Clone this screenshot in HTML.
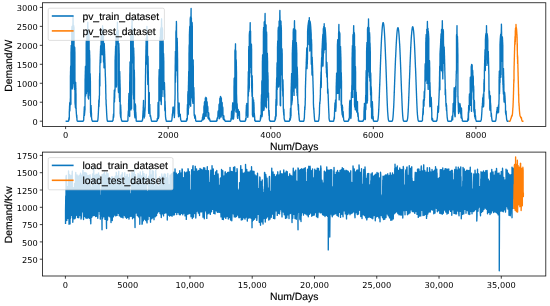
<!DOCTYPE html>
<html><head><meta charset="utf-8"><title>Dataset plots</title>
<style>html,body{margin:0;padding:0;background:#fff}svg{display:block}</style>
</head><body>
<svg width="550" height="306" viewBox="0 0 550 306" text-rendering="geometricPrecision">
<rect width="550" height="306" fill="#fff"/>
<defs>
<clipPath id="c1"><rect x="42.5" y="2.75" width="503.29999999999995" height="123.65"/></clipPath>
<clipPath id="c2"><rect x="42.5" y="152.1" width="503.29999999999995" height="123.9"/></clipPath>
</defs>
<rect x="42.5" y="2.75" width="503.29999999999995" height="123.65" fill="#fff"/>
<g clip-path="url(#c1)" fill="none" stroke-width="1.35" stroke-linejoin="round">
<polyline stroke="#0c77bf" points="65.6,121.2 65.7,121.2 65.7,121.2 65.8,121.2 65.8,121.2 65.9,121.2 65.9,121.2 66.0,121.2 66.0,121.2 66.1,121.2 66.1,121.2 66.2,121.2 66.2,121.2 66.3,121.2 66.3,121.2 66.4,121.2 66.4,121.2 66.5,121.2 66.5,121.2 66.6,121.2 66.6,121.2 66.7,121.2 66.7,121.2 66.8,121.2 66.8,121.2 66.9,121.2 66.9,121.2 67.0,121.2 67.0,121.2 67.1,121.2 67.1,121.2 67.2,121.2 67.2,121.2 67.3,121.2 67.3,121.2 67.4,121.2 67.4,121.2 67.5,121.2 67.5,121.2 67.6,121.2 67.7,121.2 67.7,121.2 67.8,121.2 67.8,121.2 67.9,121.2 67.9,121.2 68.0,121.2 68.0,121.2 68.1,121.2 68.1,121.2 68.2,121.2 68.2,121.2 68.3,121.2 68.3,121.2 68.4,121.1 68.4,121.1 68.5,121.1 68.5,121.0 68.6,120.9 68.6,120.8 68.7,120.7 68.7,119.8 68.8,119.5 68.8,119.1 68.9,118.7 68.9,118.2 69.0,117.7 69.0,119.9 69.1,119.8 69.1,119.6 69.2,119.2 69.2,119.2 69.3,118.5 69.3,111.9 69.4,110.8 69.4,109.6 69.5,108.3 69.5,107.0 69.6,105.6 69.7,104.2 69.7,102.6 69.8,110.1 69.8,110.9 69.9,109.2 69.9,109.4 70.0,106.2 70.0,106.3 70.1,104.6 70.1,105.3 70.2,102.5 70.2,101.8 70.3,101.0 70.3,98.6 70.4,99.7 70.4,76.3 70.5,74.2 70.5,72.1 70.6,70.1 70.6,68.0 70.7,66.0 70.7,103.4 70.8,104.5 70.8,102.7 70.9,103.9 70.9,102.0 71.0,54.3 71.0,52.5 71.1,50.7 71.1,48.9 71.2,47.2 71.2,45.5 71.3,67.5 71.3,73.8 71.4,62.8 71.4,67.0 71.5,66.7 71.5,62.3 71.6,63.6 71.7,60.3 71.7,67.0 71.8,31.0 71.8,29.8 71.9,28.6 71.9,27.5 72.0,26.9 72.0,26.6 72.1,26.3 72.1,82.8 72.2,89.1 72.2,86.1 72.3,84.7 72.3,85.2 72.4,88.6 72.4,84.8 72.5,87.5 72.5,87.6 72.6,82.7 72.6,87.5 72.7,85.7 72.7,83.5 72.8,83.8 72.8,43.8 72.9,24.4 72.9,24.3 73.0,22.6 73.0,19.4 73.1,16.3 73.1,19.4 73.2,27.5 73.2,33.8 73.3,38.8 73.3,43.7 73.4,80.7 73.4,79.6 73.5,81.0 73.5,78.3 73.6,25.5 73.7,25.8 73.7,26.1 73.8,26.5 73.8,26.8 73.9,27.2 73.9,27.4 74.0,27.7 74.0,79.5 74.1,81.7 74.1,83.5 74.2,80.3 74.2,84.2 74.3,81.3 74.3,82.3 74.4,85.4 74.4,84.1 74.5,89.5 74.5,87.7 74.6,85.1 74.6,87.7 74.7,88.6 74.7,47.2 74.8,48.9 74.8,50.7 74.9,52.5 74.9,54.3 75.0,101.3 75.0,102.5 75.1,104.0 75.1,104.1 75.2,104.7 75.2,104.8 75.3,103.6 75.3,106.3 75.4,106.6 75.4,107.4 75.5,107.5 75.6,107.2 75.6,108.0 75.7,82.4 75.7,84.4 75.8,86.4 75.8,88.4 75.9,90.3 75.9,92.2 76.0,94.1 76.0,106.4 76.1,108.4 76.1,108.9 76.2,111.2 76.2,110.3 76.3,112.3 76.3,112.7 76.4,113.9 76.4,114.3 76.5,114.5 76.5,115.2 76.6,116.2 76.6,116.5 76.7,117.3 76.7,114.8 76.8,115.6 76.8,116.4 76.9,117.0 76.9,117.7 77.0,120.1 77.0,120.3 77.1,120.4 77.1,120.5 77.2,120.7 77.2,120.8 77.3,120.9 77.3,121.0 77.4,121.0 77.4,121.1 77.5,121.1 77.6,121.1 77.6,121.2 77.7,121.1 77.7,121.2 77.8,121.2 77.8,121.2 77.9,121.2 77.9,121.2 78.0,121.2 78.0,121.2 78.1,121.2 78.1,121.2 78.2,121.2 78.2,121.2 78.3,121.2 78.3,121.2 78.4,121.2 78.4,121.2 78.5,121.2 78.5,121.2 78.6,121.2 78.6,121.2 78.7,121.2 78.7,121.2 78.8,121.2 78.8,121.2 78.9,121.2 78.9,121.2 79.0,121.2 79.0,121.2 79.1,121.2 79.1,121.2 79.2,121.2 79.2,121.2 79.3,121.2 79.3,121.2 79.4,121.2 79.4,121.2 79.5,121.2 79.6,121.2 79.6,121.2 79.7,121.2 79.7,121.2 79.8,121.2 79.8,121.2 79.9,121.2 79.9,121.2 80.0,121.2 80.0,121.2 80.1,121.2 80.1,121.2 80.2,121.2 80.2,121.2 80.3,121.2 80.3,121.2 80.4,121.2 80.4,121.2 80.5,121.2 80.5,121.2 80.6,121.2 80.6,121.2 80.7,121.2 80.7,121.2 80.8,121.2 80.8,121.2 80.9,121.2 80.9,121.2 81.0,121.2 81.0,121.2 81.1,121.2 81.1,121.2 81.2,121.2 81.2,121.2 81.3,121.2 81.3,121.2 81.4,121.2 81.4,121.2 81.5,121.2 81.6,121.2 81.6,121.2 81.7,121.2 81.7,121.2 81.8,121.2 81.8,121.2 81.9,121.2 81.9,121.2 82.0,121.2 82.0,121.2 82.1,121.2 82.1,121.2 82.2,121.2 82.2,121.2 82.3,121.2 82.3,121.2 82.4,121.2 82.4,121.2 82.5,121.2 82.5,121.2 82.6,121.2 82.6,121.2 82.7,121.2 82.7,121.2 82.8,121.2 82.8,121.2 82.9,121.2 82.9,121.2 83.0,121.1 83.0,121.2 83.1,121.1 83.1,121.1 83.2,121.1 83.2,121.0 83.3,120.9 83.3,120.8 83.4,120.7 83.4,120.6 83.5,120.4 83.6,120.4 83.6,120.2 83.7,119.9 83.7,119.6 83.8,117.4 83.8,116.8 83.9,116.1 83.9,115.3 84.0,114.5 84.0,113.6 84.1,112.6 84.1,111.6 84.2,110.5 84.2,109.3 84.3,108.1 84.3,106.8 84.4,115.6 84.4,115.5 84.5,114.2 84.5,114.8 84.6,113.3 84.6,113.5 84.7,112.5 84.7,110.9 84.8,111.1 84.8,111.5 84.9,110.1 84.9,108.9 85.0,109.7 85.0,108.6 85.1,81.4 85.1,79.5 85.2,77.5 85.2,75.6 85.3,73.7 85.3,71.8 85.4,69.8 85.4,68.0 85.5,66.1 85.6,96.1 85.6,94.7 85.7,95.0 85.7,92.2 85.8,94.2 85.8,89.1 85.9,88.0 85.9,90.1 86.0,89.6 86.0,86.3 86.1,89.4 86.1,85.2 86.2,44.5 86.2,43.1 86.3,41.8 86.3,40.5 86.4,93.0 86.4,91.0 86.5,88.6 86.5,93.5 86.6,88.4 86.6,89.7 86.7,90.4 86.7,90.2 86.8,91.8 86.8,90.6 86.9,30.7 86.9,30.6 87.0,30.5 87.0,30.4 87.1,30.3 87.1,30.3 87.2,56.8 87.2,53.2 87.3,53.0 87.3,54.1 87.4,55.2 87.4,63.0 87.5,48.5 87.6,43.1 87.6,30.4 87.7,28.0 87.7,25.1 87.8,22.1 87.8,25.1 87.9,28.0 87.9,30.4 88.0,30.3 88.0,30.3 88.1,95.8 88.1,96.3 88.2,97.9 88.2,96.3 88.3,97.4 88.3,98.2 88.4,98.2 88.4,94.9 88.5,94.4 88.5,98.3 88.6,99.0 88.6,31.2 88.7,31.5 88.7,31.8 88.8,32.4 88.8,33.4 88.9,34.5 88.9,35.6 89.0,36.7 89.0,37.9 89.1,39.2 89.1,40.5 89.2,71.7 89.2,68.4 89.3,71.0 89.3,71.9 89.4,75.0 89.4,71.6 89.5,50.5 89.6,52.1 89.6,53.8 89.7,55.4 89.7,57.1 89.8,58.9 89.8,89.6 89.9,87.8 89.9,92.8 90.0,91.0 90.0,94.3 90.1,92.1 90.1,95.8 90.2,73.7 90.2,75.6 90.3,77.5 90.3,79.5 90.4,81.4 90.4,83.3 90.5,111.0 90.5,112.6 90.6,113.0 90.6,112.1 90.7,114.1 90.7,114.2 90.8,113.7 90.8,115.4 90.9,115.7 90.9,116.0 91.0,116.5 91.0,116.5 91.1,105.5 91.1,106.8 91.2,108.1 91.2,109.3 91.3,110.5 91.3,111.6 91.4,112.6 91.5,113.6 91.5,117.7 91.6,117.6 91.6,118.1 91.7,118.6 91.7,119.2 91.8,119.3 91.8,119.6 91.9,119.9 91.9,120.1 92.0,120.3 92.0,120.0 92.1,120.2 92.1,120.4 92.2,120.6 92.2,120.8 92.3,120.9 92.3,121.0 92.4,121.1 92.4,121.1 92.5,121.2 92.5,121.2 92.6,121.2 92.6,121.2 92.7,121.2 92.7,121.2 92.8,121.2 92.8,121.2 92.9,121.2 92.9,121.2 93.0,121.2 93.0,121.2 93.1,121.2 93.1,121.2 93.2,121.2 93.2,121.2 93.3,121.2 93.3,121.2 93.4,121.2 93.5,121.2 93.5,121.2 93.6,121.2 93.6,121.2 93.7,121.2 93.7,121.2 93.8,121.2 93.8,121.2 93.9,121.2 93.9,121.2 94.0,121.2 94.0,121.2 94.1,121.2 94.1,121.2 94.2,121.2 94.2,121.2 94.3,121.2 94.3,121.2 94.4,121.2 94.4,121.2 94.5,121.2 94.5,121.2 94.6,121.2 94.6,121.2 94.7,121.2 94.7,121.2 94.8,121.2 94.8,121.2 94.9,121.2 94.9,121.2 95.0,121.2 95.0,121.2 95.1,121.2 95.1,121.2 95.2,121.2 95.2,121.2 95.3,121.2 95.3,121.2 95.4,121.2 95.5,121.2 95.5,121.2 95.6,121.2 95.6,121.2 95.7,121.2 95.7,121.2 95.8,121.2 95.8,121.2 95.9,121.2 95.9,121.2 96.0,121.2 96.0,121.2 96.1,121.2 96.1,121.2 96.2,121.2 96.2,121.2 96.3,121.2 96.3,121.2 96.4,121.2 96.4,121.2 96.5,121.2 96.5,121.2 96.6,121.2 96.6,121.2 96.7,121.2 96.7,121.2 96.8,121.2 96.8,121.2 96.9,121.2 96.9,121.2 97.0,121.2 97.0,121.2 97.1,121.2 97.1,121.2 97.2,121.2 97.2,121.2 97.3,121.2 97.3,121.2 97.4,121.2 97.5,121.2 97.5,121.2 97.6,121.1 97.6,121.0 97.7,120.8 97.7,120.6 97.8,120.3 97.8,120.0 97.9,119.7 97.9,119.2 98.0,118.8 98.0,118.2 98.1,117.6 98.1,116.9 98.2,116.2 98.2,115.4 98.3,114.6 98.3,113.6 98.4,112.7 98.4,111.6 98.5,110.5 98.5,109.4 98.6,108.2 98.6,106.9 98.7,105.6 98.7,104.3 98.8,102.8 98.8,101.4 98.9,99.9 98.9,106.5 99.0,106.0 99.0,105.3 99.1,102.3 99.1,101.9 99.2,102.6 99.2,98.6 99.3,99.5 99.3,95.9 99.4,96.1 99.5,94.7 99.5,80.0 99.6,78.3 99.6,76.6 99.7,74.9 99.7,73.2 99.8,81.5 99.8,81.6 99.9,85.9 99.9,66.5 100.0,64.9 100.0,63.3 100.1,61.8 100.1,60.3 100.2,58.8 100.2,57.3 100.3,55.9 100.3,54.5 100.4,53.1 100.4,51.8 100.5,50.5 100.5,49.2 100.6,48.0 100.6,46.8 100.7,45.6 100.7,62.6 100.8,60.6 100.8,59.1 100.9,48.8 100.9,50.8 101.0,48.5 101.0,49.8 101.1,54.4 101.1,36.8 101.2,36.0 101.2,35.2 101.3,34.4 101.3,33.7 101.4,33.0 101.5,32.3 101.5,31.7 101.6,31.1 101.6,30.6 101.7,30.2 101.7,29.9 101.8,29.7 101.8,29.5 101.9,29.3 101.9,29.1 102.0,28.9 102.0,51.9 102.1,49.9 102.1,44.8 102.2,54.8 102.2,51.8 102.3,48.9 102.3,46.0 102.4,41.3 102.4,37.6 102.5,33.8 102.5,31.0 102.6,25.8 102.6,31.0 102.7,32.9 102.7,28.3 102.8,28.3 102.8,28.4 102.9,28.4 102.9,28.5 103.0,28.5 103.0,28.6 103.1,28.7 103.1,28.8 103.2,29.0 103.2,29.1 103.3,29.5 103.3,30.0 103.4,30.6 103.5,61.9 103.5,58.8 103.6,52.7 103.6,51.7 103.7,56.4 103.7,60.0 103.8,60.5 103.8,57.6 103.9,55.4 103.9,62.4 104.0,64.8 104.0,67.7 104.1,66.7 104.1,59.1 104.2,62.5 104.2,43.4 104.3,44.5 104.3,45.6 104.4,46.8 104.4,48.0 104.5,49.2 104.5,50.5 104.6,51.8 104.6,53.1 104.7,54.5 104.7,55.9 104.8,57.3 104.8,58.8 104.9,60.3 104.9,61.8 105.0,63.3 105.0,64.9 105.1,66.5 105.1,68.2 105.2,69.8 105.2,71.5 105.3,73.2 105.3,74.9 105.4,76.6 105.5,78.3 105.5,80.0 105.6,81.8 105.6,83.5 105.7,85.2 105.7,86.9 105.8,93.7 105.8,92.8 105.9,95.0 105.9,99.3 106.0,99.1 106.0,99.5 106.1,100.6 106.1,102.9 106.2,105.1 106.2,103.8 106.3,106.6 106.3,105.6 106.4,106.9 106.4,108.2 106.5,109.4 106.5,110.5 106.6,111.6 106.6,112.7 106.7,113.6 106.7,114.6 106.8,115.4 106.8,116.2 106.9,116.9 106.9,117.6 107.0,118.2 107.0,118.8 107.1,119.2 107.1,119.7 107.2,120.0 107.2,120.3 107.3,120.6 107.4,120.8 107.4,121.0 107.5,121.1 107.5,121.1 107.6,121.2 107.6,121.2 107.7,121.2 107.7,121.2 107.8,121.2 107.8,121.2 107.9,121.2 107.9,121.2 108.0,121.2 108.0,121.2 108.1,121.2 108.1,121.2 108.2,121.2 108.2,121.2 108.3,121.2 108.3,121.2 108.4,121.2 108.4,121.2 108.5,121.2 108.5,121.2 108.6,121.2 108.6,121.2 108.7,121.2 108.7,121.2 108.8,121.2 108.8,121.2 108.9,121.2 108.9,121.2 109.0,121.2 109.0,121.2 109.1,121.2 109.1,121.2 109.2,121.2 109.2,121.2 109.3,121.2 109.4,121.2 109.4,121.2 109.5,121.2 109.5,121.2 109.6,121.2 109.6,121.2 109.7,121.2 109.7,121.2 109.8,121.2 109.8,121.2 109.9,121.2 109.9,121.2 110.0,121.2 110.0,121.2 110.1,121.2 110.1,121.2 110.2,121.2 110.2,121.2 110.3,121.2 110.3,121.2 110.4,121.2 110.4,121.2 110.5,121.2 110.5,121.2 110.6,121.2 110.6,121.2 110.7,121.2 110.7,121.2 110.8,121.2 110.8,121.2 110.9,121.2 110.9,121.2 111.0,121.2 111.0,121.2 111.1,121.2 111.1,121.2 111.2,121.2 111.2,121.2 111.3,121.2 111.4,121.2 111.4,121.2 111.5,121.2 111.5,121.2 111.6,121.2 111.6,121.2 111.7,121.2 111.7,121.2 111.8,121.2 111.8,121.2 111.9,121.2 111.9,121.2 112.0,121.2 112.0,121.2 112.1,121.2 112.1,121.2 112.2,121.2 112.2,121.2 112.3,121.2 112.3,121.2 112.4,121.2 112.4,121.2 112.5,121.1 112.5,121.1 112.6,121.0 112.6,120.9 112.7,120.8 112.7,120.7 112.8,120.5 112.8,120.3 112.9,120.1 112.9,119.8 113.0,120.4 113.0,120.2 113.1,120.0 113.1,119.9 113.2,117.6 113.2,117.0 113.3,116.3 113.4,115.6 113.4,114.8 113.5,114.0 113.5,118.0 113.6,117.3 113.6,116.8 113.7,116.7 113.7,115.8 113.8,116.1 113.8,115.6 113.9,104.8 113.9,103.3 114.0,101.8 114.0,100.8 114.1,99.5 114.1,98.0 114.2,96.2 114.2,94.2 114.3,92.0 114.3,90.1 114.4,102.0 114.4,101.2 114.5,101.7 114.5,98.0 114.6,96.9 114.6,98.6 114.7,97.0 114.7,93.1 114.8,91.4 114.8,90.5 114.9,91.5 114.9,91.3 115.0,89.7 115.0,90.5 115.1,87.4 115.1,60.5 115.2,58.8 115.2,57.1 115.3,55.5 115.4,53.8 115.4,52.2 115.5,50.7 115.5,49.2 115.6,47.7 115.6,46.2 115.7,72.7 115.7,75.0 115.8,70.1 115.8,66.9 115.9,66.5 115.9,62.2 116.0,37.2 116.0,36.1 116.1,35.3 116.1,34.6 116.2,34.0 116.2,33.4 116.3,83.0 116.3,86.0 116.4,83.4 116.4,87.0 116.5,85.1 116.5,81.8 116.6,84.5 116.6,85.2 116.7,31.6 116.7,31.6 116.8,31.6 116.8,31.7 116.9,31.7 116.9,31.6 117.0,31.6 117.0,31.5 117.1,31.4 117.1,31.3 117.2,31.1 117.2,39.9 117.3,33.6 117.4,27.9 117.4,22.1 117.5,27.9 117.5,32.7 117.6,39.2 117.6,43.7 117.7,30.0 117.7,30.0 117.8,30.0 117.8,30.1 117.9,30.2 117.9,30.2 118.0,30.3 118.0,30.4 118.1,30.4 118.1,30.5 118.2,30.5 118.2,86.4 118.3,89.1 118.3,90.5 118.4,86.7 118.4,91.8 118.5,92.5 118.5,91.8 118.6,90.6 118.6,88.3 118.7,90.1 118.7,91.5 118.8,92.2 118.8,43.4 118.9,44.8 118.9,46.2 119.0,47.7 119.0,49.2 119.1,50.7 119.1,52.2 119.2,53.8 119.2,55.5 119.3,96.1 119.4,98.0 119.4,98.1 119.5,96.0 119.5,97.4 119.6,97.4 119.6,101.5 119.7,98.6 119.7,71.4 119.8,73.3 119.8,75.1 119.9,77.0 119.9,78.9 120.0,80.8 120.0,82.7 120.1,84.6 120.1,86.4 120.2,88.3 120.2,113.4 120.3,113.9 120.3,114.0 120.4,114.7 120.4,115.0 120.5,116.0 120.5,115.9 120.6,116.6 120.6,117.2 120.7,104.8 120.7,106.1 120.8,107.5 120.8,108.7 120.9,109.9 120.9,111.0 121.0,112.1 121.0,117.5 121.1,117.5 121.1,118.4 121.2,118.8 121.2,118.6 121.3,119.3 121.4,119.5 121.4,119.8 121.5,120.0 121.5,120.2 121.6,120.3 121.6,120.6 121.7,120.1 121.7,120.3 121.8,120.5 121.8,120.7 121.9,120.8 121.9,121.1 122.0,121.2 122.0,121.2 122.1,121.2 122.1,121.2 122.2,121.2 122.2,121.2 122.3,121.2 122.3,121.2 122.4,121.2 122.4,121.2 122.5,121.2 122.5,121.2 122.6,121.2 122.6,121.2 122.7,121.2 122.7,121.2 122.8,121.2 122.8,121.2 122.9,121.2 122.9,121.2 123.0,121.2 123.0,121.2 123.1,121.2 123.1,121.2 123.2,121.2 123.2,121.2 123.3,121.2 123.4,121.2 123.4,121.2 123.5,121.2 123.5,121.2 123.6,121.2 123.6,121.2 123.7,121.2 123.7,121.2 123.8,121.2 123.8,121.2 123.9,121.2 123.9,121.2 124.0,121.2 124.0,121.2 124.1,121.2 124.1,121.2 124.2,121.2 124.2,121.2 124.3,121.2 124.3,121.2 124.4,121.2 124.4,121.2 124.5,121.2 124.5,121.2 124.6,121.2 124.6,121.2 124.7,121.2 124.7,121.2 124.8,121.2 124.8,121.2 124.9,121.2 124.9,121.2 125.0,121.2 125.0,121.2 125.1,121.2 125.1,121.2 125.2,121.2 125.3,121.2 125.3,121.2 125.4,121.2 125.4,121.2 125.5,121.2 125.5,121.2 125.6,121.2 125.6,121.2 125.7,121.2 125.7,121.2 125.8,121.2 125.8,121.2 125.9,121.2 125.9,121.2 126.0,121.2 126.0,121.2 126.1,121.2 126.1,121.2 126.2,121.2 126.2,121.2 126.3,121.2 126.3,121.2 126.4,121.2 126.4,121.2 126.5,121.2 126.5,121.2 126.6,121.2 126.6,121.2 126.7,121.2 126.7,121.2 126.8,121.2 126.8,121.2 126.9,121.2 126.9,121.2 127.0,121.2 127.0,121.2 127.1,121.2 127.1,121.2 127.2,121.1 127.3,121.2 127.3,121.2 127.4,121.2 127.4,121.1 127.5,121.1 127.5,121.1 127.6,121.1 127.6,121.0 127.7,120.9 127.7,120.9 127.8,120.8 127.8,120.7 127.9,120.7 127.9,120.6 128.0,117.0 128.0,116.3 128.1,115.6 128.1,114.8 128.2,114.0 128.2,113.0 128.3,112.0 128.3,111.0 128.4,115.5 128.4,115.3 128.5,114.1 128.5,113.7 128.6,112.4 128.6,103.2 128.7,101.7 128.7,100.1 128.8,98.5 128.8,96.8 128.9,95.1 128.9,93.4 129.0,114.0 129.0,114.7 129.1,114.0 129.1,114.4 129.2,99.4 129.3,100.1 129.3,100.3 129.4,99.9 129.4,98.9 129.5,97.2 129.5,95.0 129.6,116.5 129.6,116.1 129.7,115.8 129.7,82.5 129.8,78.9 129.8,75.2 129.9,71.7 129.9,68.2 130.0,65.0 130.0,61.9 130.1,97.0 130.1,94.9 130.2,93.5 130.2,95.3 130.3,92.4 130.3,92.3 130.4,89.5 130.4,87.8 130.5,88.5 130.5,87.6 130.6,87.5 130.6,89.4 130.7,88.2 130.7,38.0 130.8,37.0 130.8,36.1 130.9,35.2 130.9,34.3 131.0,109.6 131.0,109.9 131.1,107.4 131.1,107.6 131.2,108.1 131.3,107.5 131.3,108.0 131.4,107.1 131.4,108.7 131.5,108.1 131.5,107.5 131.6,108.6 131.6,107.3 131.7,26.2 131.7,26.1 131.8,26.0 131.8,26.1 131.9,26.1 131.9,26.3 132.0,25.3 132.0,22.2 132.1,19.2 132.1,25.2 132.2,30.1 132.2,37.0 132.3,27.8 132.3,28.0 132.4,28.1 132.4,28.2 132.5,28.3 132.5,62.0 132.6,54.4 132.6,51.5 132.7,55.5 132.7,51.9 132.8,62.9 132.8,52.4 132.9,29.1 132.9,29.5 133.0,30.0 133.0,30.6 133.1,31.4 133.1,32.3 133.2,33.4 133.3,93.1 133.3,92.0 133.4,95.0 133.4,93.3 133.5,93.7 133.5,95.1 133.6,97.1 133.6,98.9 133.7,47.9 133.7,49.6 133.8,51.3 133.8,52.8 133.9,54.3 133.9,55.7 134.0,57.1 134.0,58.6 134.1,109.2 134.1,109.9 134.2,109.8 134.2,109.5 134.3,109.9 134.3,70.0 134.4,72.6 134.4,75.5 134.5,78.7 134.5,112.8 134.6,113.7 134.6,114.9 134.7,115.9 134.7,115.5 134.8,116.7 134.8,116.7 134.9,117.3 134.9,117.1 135.0,117.7 135.0,117.7 135.1,117.9 135.1,117.5 135.2,117.7 135.3,103.9 135.3,104.2 135.4,104.5 135.4,104.9 135.5,105.3 135.5,105.5 135.6,106.0 135.6,107.4 135.7,115.1 135.7,114.9 135.8,115.6 135.8,112.0 135.9,113.0 135.9,114.0 136.0,114.8 136.0,115.6 136.1,116.3 136.1,117.0 136.2,120.8 136.2,120.9 136.3,120.9 136.3,121.0 136.4,121.0 136.4,121.0 136.5,121.1 136.5,121.1 136.6,121.1 136.6,121.1 136.7,121.2 136.7,121.2 136.8,121.0 136.8,121.1 136.9,121.1 136.9,121.2 137.0,121.2 137.0,121.2 137.1,121.2 137.1,121.2 137.2,121.2 137.3,121.2 137.3,121.2 137.4,121.2 137.4,121.2 137.5,121.2 137.5,121.2 137.6,121.2 137.6,121.2 137.7,121.2 137.7,121.2 137.8,121.2 137.8,121.2 137.9,121.2 137.9,121.2 138.0,121.2 138.0,121.2 138.1,121.2 138.1,121.2 138.2,121.2 138.2,121.2 138.3,121.2 138.3,121.2 138.4,121.2 138.4,121.2 138.5,121.2 138.5,121.2 138.6,121.2 138.6,121.2 138.7,121.2 138.7,121.2 138.8,121.2 138.8,121.2 138.9,121.2 138.9,121.2 139.0,121.2 139.0,121.2 139.1,121.2 139.1,121.2 139.2,121.2 139.3,121.2 139.3,121.2 139.4,121.2 139.4,121.2 139.5,121.2 139.5,121.2 139.6,121.2 139.6,121.2 139.7,121.2 139.7,121.2 139.8,121.2 139.8,121.2 139.9,121.2 139.9,121.2 140.0,121.2 140.0,121.2 140.1,121.2 140.1,121.2 140.2,121.2 140.2,121.2 140.3,121.2 140.3,121.2 140.4,121.2 140.4,121.2 140.5,121.2 140.5,121.2 140.6,121.2 140.6,121.2 140.7,121.2 140.7,121.2 140.8,121.2 140.8,121.2 140.9,121.2 140.9,121.2 141.0,121.2 141.0,121.2 141.1,121.2 141.2,121.2 141.2,121.2 141.3,121.2 141.3,121.2 141.4,121.2 141.4,121.2 141.5,121.2 141.5,121.2 141.6,121.2 141.6,121.2 141.7,121.2 141.7,121.2 141.8,121.2 141.8,121.2 141.9,121.2 141.9,121.1 142.0,121.1 142.0,121.0 142.1,121.1 142.1,121.0 142.2,120.9 142.2,120.9 142.3,120.7 142.3,120.2 142.4,119.9 142.4,119.6 142.5,119.3 142.5,120.1 142.6,120.0 142.6,119.6 142.7,119.5 142.7,116.8 142.8,116.1 142.8,115.4 142.9,114.6 142.9,113.8 143.0,112.9 143.0,111.9 143.1,110.9 143.2,109.8 143.2,108.6 143.3,107.4 143.3,106.1 143.4,104.8 143.4,103.4 143.5,102.0 143.5,100.5 143.6,111.6 143.6,111.7 143.7,113.0 143.7,112.5 143.8,113.4 143.8,113.6 143.9,114.0 143.9,113.7 144.0,114.7 144.0,115.1 144.1,116.3 144.1,116.8 144.2,116.9 144.2,118.1 144.3,114.4 144.3,115.4 144.4,116.0 144.4,116.5 144.5,116.8 144.5,116.8 144.6,116.6 144.6,116.2 144.7,115.8 144.7,115.2 144.8,114.3 144.8,113.2 144.9,111.8 144.9,110.0 145.0,107.8 145.0,111.3 145.1,109.3 145.2,107.7 145.2,105.7 145.3,103.8 145.3,100.6 145.4,86.5 145.4,83.1 145.5,79.6 145.5,76.2 145.6,72.7 145.6,69.3 145.7,65.9 145.7,62.6 145.8,59.5 145.8,56.5 145.9,53.7 145.9,51.1 146.0,48.7 146.0,46.6 146.1,44.6 146.1,42.9 146.2,41.4 146.2,40.1 146.3,38.9 146.3,38.0 146.4,60.2 146.4,64.1 146.5,59.3 146.5,58.4 146.6,54.5 146.6,62.9 146.7,52.3 146.7,47.0 146.8,43.4 146.8,37.4 146.9,32.0 146.9,26.4 147.0,32.0 147.0,36.5 147.1,34.2 147.2,34.3 147.2,34.4 147.3,34.6 147.3,35.0 147.4,35.5 147.4,36.1 147.5,36.9 147.5,72.2 147.6,75.6 147.6,77.4 147.7,75.7 147.7,80.1 147.8,84.5 147.8,83.3 147.9,81.9 147.9,80.4 148.0,84.2 148.0,56.2 148.1,58.9 148.1,61.8 148.2,64.9 148.2,68.0 148.3,71.4 148.3,74.8 148.4,78.4 148.4,82.0 148.5,85.6 148.5,89.0 148.6,92.1 148.6,110.6 148.7,111.9 148.7,112.0 148.8,112.8 148.8,113.4 148.9,112.5 148.9,100.2 149.0,99.4 149.0,98.2 149.1,96.9 149.2,95.6 149.2,94.3 149.3,93.3 149.3,92.6 149.4,110.0 149.4,108.2 149.5,108.8 149.5,110.4 149.6,110.5 149.6,111.0 149.7,112.5 149.7,113.8 149.8,104.3 149.8,106.7 149.9,108.9 149.9,110.9 150.0,112.7 150.0,114.1 150.1,115.3 150.1,116.0 150.2,116.4 150.2,116.5 150.3,116.4 150.3,116.1 150.4,115.8 150.4,115.6 150.5,115.4 150.5,116.8 150.6,116.8 150.6,116.5 150.7,117.0 150.7,117.3 150.8,117.1 150.8,117.7 150.9,117.8 150.9,118.6 151.0,118.7 151.0,118.5 151.1,118.9 151.2,119.3 151.2,119.6 151.3,119.9 151.3,120.2 151.4,120.4 151.4,120.6 151.5,120.7 151.5,120.9 151.6,121.0 151.6,121.0 151.7,121.1 151.7,121.1 151.8,121.2 151.8,121.2 151.9,121.2 151.9,121.2 152.0,121.2 152.0,121.2 152.1,121.2 152.1,121.2 152.2,121.2 152.2,121.2 152.3,121.2 152.3,121.2 152.4,121.2 152.4,121.2 152.5,121.2 152.5,121.2 152.6,121.2 152.6,121.2 152.7,121.2 152.7,121.2 152.8,121.2 152.8,121.2 152.9,121.2 152.9,121.2 153.0,121.2 153.0,121.2 153.1,121.2 153.2,121.2 153.2,121.2 153.3,121.2 153.3,121.2 153.4,121.2 153.4,121.2 153.5,121.2 153.5,121.2 153.6,121.2 153.6,121.2 153.7,121.2 153.7,121.2 153.8,121.2 153.8,121.2 153.9,121.2 153.9,121.2 154.0,121.2 154.0,121.2 154.1,121.2 154.1,121.2 154.2,121.2 154.2,121.2 154.3,121.2 154.3,121.2 154.4,121.2 154.4,121.2 154.5,121.2 154.5,121.2 154.6,121.2 154.6,121.2 154.7,121.2 154.7,121.2 154.8,121.2 154.8,121.2 154.9,121.2 154.9,121.2 155.0,121.2 155.0,121.2 155.1,121.2 155.2,121.2 155.2,121.2 155.3,121.2 155.3,121.2 155.4,121.2 155.4,121.2 155.5,121.2 155.5,121.2 155.6,121.2 155.6,121.2 155.7,121.2 155.7,121.2 155.8,121.2 155.8,121.2 155.9,121.2 155.9,121.2 156.0,121.2 156.0,121.2 156.1,121.2 156.1,121.2 156.2,121.2 156.2,121.2 156.3,121.2 156.3,121.2 156.4,121.2 156.4,121.2 156.5,121.2 156.5,121.2 156.6,121.2 156.6,121.2 156.7,121.1 156.7,121.1 156.8,121.1 156.8,121.0 156.9,121.0 156.9,120.9 157.0,120.8 157.1,120.7 157.1,120.5 157.2,119.6 157.2,119.2 157.3,118.8 157.3,118.3 157.4,120.2 157.4,120.0 157.5,119.9 157.5,119.4 157.6,119.4 157.6,118.9 157.7,118.9 157.7,118.6 157.8,118.3 157.8,117.5 157.9,117.7 157.9,116.7 158.0,106.6 158.0,105.3 158.1,103.9 158.1,102.4 158.2,118.3 158.2,118.3 158.3,118.2 158.3,118.4 158.4,118.2 158.4,118.3 158.5,117.7 158.5,117.6 158.6,117.6 158.6,117.6 158.7,116.6 158.7,117.0 158.8,116.5 158.8,116.5 158.9,115.8 158.9,78.9 159.0,76.4 159.1,74.0 159.1,71.7 159.2,69.5 159.2,101.2 159.3,100.8 159.3,97.8 159.4,99.4 159.4,98.5 159.5,97.1 159.5,97.5 159.6,94.6 159.6,97.3 159.7,95.4 159.7,94.2 159.8,94.5 159.8,90.6 159.9,45.2 159.9,43.6 160.0,41.9 160.0,40.3 160.1,38.7 160.1,37.2 160.2,82.8 160.2,79.4 160.3,83.7 160.3,78.4 160.4,77.0 160.4,82.2 160.5,30.4 160.5,29.9 160.6,29.5 160.6,29.2 160.7,28.9 160.7,100.3 160.8,100.6 160.8,101.2 160.9,98.9 160.9,28.0 161.0,27.9 161.1,27.8 161.1,27.7 161.2,104.1 161.2,104.6 161.3,102.8 161.3,46.2 161.4,40.5 161.4,27.4 161.5,24.9 161.5,21.9 161.6,18.8 161.6,21.9 161.7,24.9 161.7,27.4 161.8,27.4 161.8,46.1 161.9,96.1 161.9,95.4 162.0,96.4 162.0,91.7 162.1,91.4 162.1,93.5 162.2,27.6 162.2,27.7 162.3,27.9 162.3,28.2 162.4,28.5 162.4,28.9 162.5,29.4 162.5,64.4 162.6,65.5 162.6,68.2 162.7,69.8 162.7,64.2 162.8,63.3 162.8,71.9 162.9,70.0 162.9,70.9 163.0,69.3 163.1,40.7 163.1,42.2 163.2,43.6 163.2,45.1 163.3,84.4 163.3,88.2 163.4,89.4 163.4,87.0 163.5,87.2 163.5,53.3 163.6,54.7 163.6,56.2 163.7,57.8 163.7,59.5 163.8,61.4 163.8,63.4 163.9,89.6 163.9,89.0 164.0,87.0 164.0,90.4 164.1,91.5 164.1,94.2 164.2,91.5 164.2,96.7 164.3,95.5 164.3,95.7 164.4,95.8 164.4,82.5 164.5,83.6 164.5,85.2 164.6,87.1 164.6,88.9 164.7,90.8 164.7,92.5 164.8,94.3 164.8,109.8 164.9,109.0 164.9,110.7 165.0,100.9 165.1,102.4 165.1,103.9 165.2,105.3 165.2,106.6 165.3,107.9 165.3,109.1 165.4,110.3 165.4,114.7 165.5,115.4 165.5,116.3 165.6,117.0 165.6,117.3 165.7,117.6 165.7,118.3 165.8,118.6 165.8,118.9 165.9,119.3 165.9,119.7 166.0,119.2 166.0,119.6 166.1,119.9 166.1,120.1 166.2,120.4 166.2,121.0 166.3,121.1 166.3,121.1 166.4,121.0 166.4,121.0 166.5,121.1 166.5,121.1 166.6,121.2 166.6,121.2 166.7,121.2 166.7,121.2 166.8,121.2 166.8,121.2 166.9,121.2 166.9,121.2 167.0,121.2 167.1,121.2 167.1,121.2 167.2,121.2 167.2,121.2 167.3,121.2 167.3,121.2 167.4,121.2 167.4,121.2 167.5,121.2 167.5,121.2 167.6,121.2 167.6,121.2 167.7,121.2 167.7,121.2 167.8,121.2 167.8,121.2 167.9,121.2 167.9,121.2 168.0,121.2 168.0,121.2 168.1,121.2 168.1,121.2 168.2,121.2 168.2,121.2 168.3,121.2 168.3,121.2 168.4,121.2 168.4,121.2 168.5,121.2 168.5,121.2 168.6,121.2 168.6,121.2 168.7,121.2 168.7,121.2 168.8,121.2 168.8,121.2 168.9,121.2 168.9,121.2 169.0,121.2 169.1,121.2 169.1,121.2 169.2,121.2 169.2,121.2 169.3,121.2 169.3,121.2 169.4,121.2 169.4,121.2 169.5,121.2 169.5,121.2 169.6,121.2 169.6,121.2 169.7,121.2 169.7,121.2 169.8,121.2 169.8,121.2 169.9,121.2 169.9,121.2 170.0,121.2 170.0,121.2 170.1,121.2 170.1,121.2 170.2,121.2 170.2,121.2 170.3,121.2 170.3,121.2 170.4,121.2 170.4,121.2 170.5,121.2 170.5,121.2 170.6,121.2 170.6,121.2 170.7,121.2 170.7,121.2 170.8,121.2 170.8,121.2 170.9,121.2 170.9,121.2 171.0,121.2 171.1,121.2 171.1,121.2 171.2,121.2 171.2,121.2 171.3,121.2 171.3,121.2 171.4,121.1 171.4,121.1 171.5,121.0 171.5,121.0 171.6,120.9 171.6,120.8 171.7,120.6 171.7,120.4 171.8,120.2 171.8,120.0 171.9,119.7 171.9,119.3 172.0,118.9 172.0,118.5 172.1,118.0 172.1,117.4 172.2,116.8 172.2,116.2 172.3,115.4 172.3,114.6 172.4,113.8 172.4,115.9 172.5,115.1 172.5,114.5 172.6,113.6 172.6,113.6 172.7,112.9 172.7,112.4 172.8,109.9 172.8,110.8 172.9,109.3 172.9,107.5 173.0,108.0 173.1,108.2 173.1,110.8 173.2,111.9 173.2,106.8 173.3,107.8 173.3,108.5 173.4,109.0 173.4,109.4 173.5,109.6 173.5,109.8 173.6,109.8 173.6,109.9 173.7,109.9 173.7,109.8 173.8,109.8 173.8,109.8 173.9,110.0 173.9,110.5 174.0,111.1 174.0,111.9 174.1,112.8 174.1,113.8 174.2,114.7 174.2,115.4 174.3,115.8 174.3,115.9 174.4,117.6 174.4,116.9 174.5,115.9 174.5,115.3 174.6,113.5 174.6,113.1 174.7,110.4 174.7,107.6 174.8,105.2 174.8,103.9 174.9,99.8 175.0,100.2 175.0,97.2 175.1,93.6 175.1,75.2 175.2,70.8 175.2,66.6 175.3,62.4 175.3,58.5 175.4,54.7 175.4,51.3 175.5,80.4 175.5,82.2 175.6,75.1 175.6,78.1 175.7,70.8 175.7,76.2 175.8,74.6 175.8,75.5 175.9,33.0 175.9,32.2 176.0,31.6 176.0,31.1 176.1,30.8 176.1,30.6 176.2,30.5 176.2,30.5 176.3,30.5 176.3,27.4 176.4,24.4 176.4,21.4 176.5,24.4 176.5,27.4 176.6,39.8 176.6,44.5 176.7,49.1 176.7,61.3 176.8,68.7 176.8,65.4 176.9,69.7 177.0,70.7 177.0,67.3 177.1,68.9 177.1,63.4 177.2,38.2 177.2,40.0 177.3,42.0 177.3,44.4 177.4,47.0 177.4,49.8 177.5,53.0 177.5,56.4 177.6,60.1 177.6,63.9 177.7,86.6 177.7,91.2 177.8,93.4 177.8,97.3 177.9,99.8 177.9,103.0 178.0,102.3 178.0,107.4 178.1,109.0 178.1,109.4 178.2,111.6 178.2,112.9 178.3,114.3 178.3,111.0 178.4,112.0 178.4,112.6 178.5,112.9 178.5,116.7 178.6,116.3 178.6,115.3 178.7,115.1 178.7,113.5 178.8,113.9 178.8,106.2 178.9,104.9 179.0,103.9 179.0,103.2 179.1,103.0 179.1,103.1 179.2,103.7 179.2,110.2 179.3,110.4 179.3,112.7 179.4,112.7 179.4,113.2 179.5,115.0 179.5,115.1 179.6,115.8 179.6,113.7 179.7,114.4 179.7,114.9 179.8,115.4 179.8,115.7 179.9,116.0 179.9,116.2 180.0,116.3 180.0,116.3 180.1,116.2 180.1,116.0 180.2,115.6 180.2,115.2 180.3,114.8 180.3,114.4 180.4,116.8 180.4,117.2 180.5,117.6 180.5,118.2 180.6,118.5 180.6,119.0 180.7,119.5 180.7,118.9 180.8,119.3 180.8,119.7 180.9,120.0 181.0,120.2 181.0,120.4 181.1,120.6 181.1,120.8 181.2,120.9 181.2,121.0 181.3,121.0 181.3,121.1 181.4,121.2 181.4,121.2 181.5,121.2 181.5,121.2 181.6,121.2 181.6,121.2 181.7,121.2 181.7,121.2 181.8,121.2 181.8,121.2 181.9,121.2 181.9,121.2 182.0,121.2 182.0,121.2 182.1,121.2 182.1,121.2 182.2,121.2 182.2,121.2 182.3,121.2 182.3,121.2 182.4,121.2 182.4,121.2 182.5,121.2 182.5,121.2 182.6,121.2 182.6,121.2 182.7,121.2 182.7,121.2 182.8,121.2 182.8,121.2 182.9,121.2 183.0,121.2 183.0,121.2 183.1,121.2 183.1,121.2 183.2,121.2 183.2,121.2 183.3,121.2 183.3,121.2 183.4,121.2 183.4,121.2 183.5,121.2 183.5,121.2 183.6,121.2 183.6,121.2 183.7,121.2 183.7,121.2 183.8,121.2 183.8,121.2 183.9,121.2 183.9,121.2 184.0,121.2 184.0,121.2 184.1,121.2 184.1,121.2 184.2,121.2 184.2,121.2 184.3,121.2 184.3,121.2 184.4,121.2 184.4,121.2 184.5,121.2 184.5,121.2 184.6,121.2 184.6,121.2 184.7,121.2 184.7,121.2 184.8,121.2 184.8,121.2 184.9,121.2 185.0,121.2 185.0,121.2 185.1,121.2 185.1,121.2 185.2,121.2 185.2,121.2 185.3,121.2 185.3,121.2 185.4,121.2 185.4,121.2 185.5,121.2 185.5,121.2 185.6,121.2 185.6,121.2 185.7,121.2 185.7,121.2 185.8,121.2 185.8,121.2 185.9,121.2 185.9,121.2 186.0,121.2 186.0,121.2 186.1,121.2 186.1,121.2 186.2,121.2 186.2,121.1 186.3,121.1 186.3,121.1 186.4,121.0 186.4,120.9 186.5,120.9 186.5,119.8 186.6,119.5 186.6,119.1 186.7,118.7 186.7,120.6 186.8,120.4 186.8,120.3 186.9,120.3 187.0,120.0 187.0,119.9 187.1,119.7 187.1,119.4 187.2,119.3 187.2,118.9 187.3,118.9 187.3,108.5 187.4,107.2 187.4,105.8 187.5,104.4 187.5,115.4 187.6,114.5 187.6,114.2 187.7,113.4 187.7,112.8 187.8,112.9 187.8,94.7 187.9,93.8 187.9,93.0 188.0,92.2 188.0,91.5 188.1,113.4 188.1,114.4 188.2,114.3 188.2,113.2 188.3,113.6 188.3,112.6 188.4,87.1 188.4,86.1 188.5,84.5 188.5,82.6 188.6,80.3 188.6,77.6 188.7,74.6 188.7,71.4 188.8,108.0 188.8,106.0 188.9,104.2 189.0,57.2 189.0,53.9 189.1,50.7 189.1,47.6 189.2,44.8 189.2,83.0 189.3,81.5 189.3,82.1 189.4,80.1 189.4,34.7 189.5,33.3 189.5,32.0 189.6,30.7 189.6,29.5 189.7,28.4 189.7,27.3 189.8,26.2 189.8,104.5 189.9,103.1 189.9,102.0 190.0,103.9 190.0,102.0 190.1,102.0 190.1,101.6 190.2,19.7 190.2,19.1 190.3,18.6 190.3,18.2 190.4,17.7 190.4,17.4 190.5,17.1 190.5,16.8 190.6,103.5 190.6,105.8 190.7,104.6 190.7,106.3 190.8,37.4 190.9,31.3 190.9,27.2 191.0,21.7 191.0,15.2 191.1,8.5 191.1,15.2 191.2,20.6 191.2,28.1 191.3,17.8 191.3,17.8 191.4,17.9 191.4,17.9 191.5,96.4 191.5,94.5 191.6,95.3 191.6,94.4 191.7,94.7 191.7,94.3 191.8,97.4 191.8,97.0 191.9,95.8 191.9,96.1 192.0,95.3 192.0,95.3 192.1,98.0 192.1,22.5 192.2,23.6 192.2,24.8 192.3,26.0 192.3,27.4 192.4,96.0 192.4,98.4 192.5,99.8 192.5,100.4 192.6,99.7 192.6,100.1 192.7,100.8 192.7,101.9 192.8,101.9 192.9,101.7 192.9,103.2 193.0,103.4 193.0,103.1 193.1,102.4 193.1,103.1 193.2,60.0 193.2,63.0 193.3,65.9 193.3,68.7 193.4,91.4 193.4,90.6 193.5,93.7 193.5,94.3 193.6,94.7 193.6,96.2 193.7,96.1 193.7,100.4 193.8,100.1 193.8,87.5 193.9,89.0 193.9,90.9 194.0,93.1 194.0,95.6 194.1,98.1 194.1,112.9 194.2,114.3 194.2,115.2 194.3,115.2 194.3,115.8 194.4,115.9 194.4,115.8 194.5,115.3 194.5,116.1 194.6,116.0 194.6,116.6 194.7,117.0 194.7,117.8 194.8,118.2 194.9,118.3 194.9,114.9 195.0,115.4 195.0,115.5 195.1,115.3 195.1,117.5 195.2,117.1 195.2,117.5 195.3,117.9 195.3,118.2 195.4,116.4 195.4,117.1 195.5,117.7 195.5,118.2 195.6,118.7 195.6,119.1 195.7,120.5 195.7,120.6 195.8,120.8 195.8,120.8 195.9,120.9 195.9,121.0 196.0,121.1 196.0,121.1 196.1,121.1 196.1,121.2 196.2,121.2 196.2,121.2 196.3,121.2 196.3,121.2 196.4,121.2 196.4,121.2 196.5,121.2 196.5,121.2 196.6,121.2 196.6,121.2 196.7,121.2 196.7,121.2 196.8,121.2 196.9,121.2 196.9,121.2 197.0,121.2 197.0,121.2 197.1,121.2 197.1,121.2 197.2,121.2 197.2,121.2 197.3,121.2 197.3,121.2 197.4,121.2 197.4,121.2 197.5,121.2 197.5,121.2 197.6,121.2 197.6,121.2 197.7,121.2 197.7,121.2 197.8,121.2 197.8,121.2 197.9,121.2 197.9,121.2 198.0,121.2 198.0,121.2 198.1,121.2 198.1,121.2 198.2,121.2 198.2,121.2 198.3,121.2 198.3,121.2 198.4,121.2 198.4,121.2 198.5,121.2 198.5,121.2 198.6,121.2 198.6,121.2 198.7,121.2 198.7,121.2 198.8,121.2 198.9,121.2 198.9,121.2 199.0,121.2 199.0,121.2 199.1,121.2 199.1,121.2 199.2,121.2 199.2,121.2 199.3,121.2 199.3,121.2 199.4,121.2 199.4,121.2 199.5,121.2 199.5,121.2 199.6,121.2 199.6,121.2 199.7,121.2 199.7,121.2 199.8,121.2 199.8,121.2 199.9,121.2 199.9,121.2 200.0,121.2 200.0,121.2 200.1,121.2 200.1,121.2 200.2,121.2 200.2,121.2 200.3,121.2 200.3,121.2 200.4,121.2 200.4,121.2 200.5,121.2 200.5,121.2 200.6,121.2 200.6,121.2 200.7,121.2 200.7,121.2 200.8,121.2 200.9,121.2 200.9,121.2 201.0,121.2 201.0,121.2 201.1,121.2 201.1,121.2 201.2,121.2 201.2,121.2 201.3,121.2 201.3,121.2 201.4,121.2 201.4,121.2 201.5,121.2 201.5,121.1 201.6,121.1 201.6,121.0 201.7,120.7 201.7,120.6 201.8,120.5 201.8,120.3 201.9,120.6 201.9,120.4 202.0,120.3 202.0,120.2 202.1,120.0 202.1,119.8 202.2,119.6 202.2,119.6 202.3,119.4 202.3,119.3 202.4,119.2 202.4,117.8 202.5,117.6 202.5,117.4 202.6,117.2 202.6,116.9 202.7,118.9 202.7,118.9 202.8,118.7 202.9,118.5 202.9,115.4 203.0,115.1 203.0,114.7 203.1,114.3 203.1,114.0 203.2,119.8 203.2,119.6 203.3,119.5 203.3,119.3 203.4,119.5 203.4,119.2 203.5,119.3 203.5,119.3 203.6,119.1 203.6,118.9 203.7,119.1 203.7,118.6 203.8,118.9 203.8,118.7 203.9,118.6 203.9,107.2 204.0,106.7 204.0,106.1 204.1,105.6 204.1,118.7 204.2,118.6 204.2,118.9 204.3,118.5 204.3,118.7 204.4,118.7 204.4,102.8 204.5,102.4 204.5,102.1 204.6,101.8 204.6,109.7 204.7,107.1 204.7,108.5 204.8,107.1 204.9,107.9 204.9,108.7 205.0,107.5 205.0,108.2 205.1,108.3 205.1,108.3 205.2,107.1 205.2,107.4 205.3,107.0 205.3,98.4 205.4,98.2 205.4,98.0 205.5,97.9 205.5,97.8 205.6,116.2 205.6,102.3 205.7,100.8 205.7,99.8 205.8,98.8 205.8,98.0 205.9,97.3 205.9,98.0 206.0,98.5 206.0,99.7 206.1,101.0 206.1,102.2 206.2,116.0 206.2,116.3 206.3,97.8 206.3,97.9 206.4,98.1 206.4,98.3 206.5,98.4 206.5,108.8 206.6,110.9 206.6,110.6 206.7,109.9 206.8,109.5 206.8,109.7 206.9,110.1 206.9,110.3 207.0,111.2 207.0,112.0 207.1,101.7 207.1,102.1 207.2,102.5 207.2,102.8 207.3,108.7 207.3,110.5 207.4,111.0 207.4,109.0 207.5,111.1 207.5,110.4 207.6,111.8 207.6,110.1 207.7,106.2 207.7,106.6 207.8,107.0 207.8,107.5 207.9,107.9 207.9,117.3 208.0,117.8 208.0,118.1 208.1,118.2 208.1,118.2 208.2,117.9 208.2,118.1 208.3,118.0 208.3,118.2 208.4,118.3 208.4,118.6 208.5,118.7 208.5,118.4 208.6,112.6 208.6,113.0 208.7,113.3 208.8,113.7 208.8,117.9 208.9,118.1 208.9,118.5 209.0,118.7 209.0,118.6 209.1,118.7 209.1,118.9 209.2,119.3 209.2,119.5 209.3,119.6 209.3,119.8 209.4,118.0 209.4,118.2 209.5,118.5 209.5,118.7 209.6,119.0 209.6,120.1 209.7,120.3 209.7,120.2 209.8,119.7 209.8,119.8 209.9,120.0 209.9,120.1 210.0,120.2 210.0,121.0 210.1,121.1 210.1,121.1 210.2,121.1 210.2,121.1 210.3,121.1 210.3,121.2 210.4,121.2 210.4,121.2 210.5,121.2 210.5,121.2 210.6,121.2 210.6,121.2 210.7,121.2 210.8,121.2 210.8,121.2 210.9,121.2 210.9,121.2 211.0,121.2 211.0,121.2 211.1,121.2 211.1,121.2 211.2,121.2 211.2,121.2 211.3,121.2 211.3,121.2 211.4,121.2 211.4,121.2 211.5,121.2 211.5,121.2 211.6,121.2 211.6,121.2 211.7,121.2 211.7,121.2 211.8,121.2 211.8,121.2 211.9,121.2 211.9,121.2 212.0,121.2 212.0,121.2 212.1,121.2 212.1,121.2 212.2,121.2 212.2,121.2 212.3,121.2 212.3,121.2 212.4,121.2 212.4,121.2 212.5,121.2 212.5,121.2 212.6,121.2 212.6,121.2 212.7,121.2 212.8,121.2 212.8,121.2 212.9,121.2 212.9,121.2 213.0,121.2 213.0,121.2 213.1,121.2 213.1,121.2 213.2,121.2 213.2,121.2 213.3,121.2 213.3,121.2 213.4,121.2 213.4,121.2 213.5,121.2 213.5,121.2 213.6,121.2 213.6,121.2 213.7,121.2 213.7,121.2 213.8,121.2 213.8,121.2 213.9,121.2 213.9,121.2 214.0,121.2 214.0,121.2 214.1,121.2 214.1,121.2 214.2,121.2 214.2,121.2 214.3,121.2 214.3,121.2 214.4,121.2 214.4,121.2 214.5,121.2 214.5,121.2 214.6,121.2 214.6,121.2 214.7,121.2 214.8,121.2 214.8,121.2 214.9,121.2 214.9,121.2 215.0,121.2 215.0,121.2 215.1,121.2 215.1,121.2 215.2,121.2 215.2,121.2 215.3,121.2 215.3,121.2 215.4,121.2 215.4,121.2 215.5,121.2 215.5,121.2 215.6,121.2 215.6,121.2 215.7,121.2 215.7,121.2 215.8,121.2 215.8,121.2 215.9,121.2 215.9,121.2 216.0,121.2 216.0,121.2 216.1,121.2 216.1,121.2 216.2,121.1 216.2,121.1 216.3,121.2 216.3,121.2 216.4,121.1 216.4,121.1 216.5,121.1 216.5,121.1 216.6,120.2 216.6,120.0 216.7,119.9 216.8,119.7 216.8,119.6 216.9,120.9 216.9,120.8 217.0,120.8 217.0,120.7 217.1,120.6 217.1,118.4 217.2,118.2 217.2,118.0 217.3,117.8 217.3,118.6 217.4,118.5 217.4,118.1 217.5,118.4 217.5,118.1 217.6,117.4 217.6,117.2 217.7,116.9 217.7,116.9 217.8,116.5 217.8,116.0 217.9,115.9 217.9,116.2 218.0,112.7 218.0,112.3 218.1,111.8 218.1,111.4 218.2,111.0 218.2,114.3 218.3,114.2 218.3,113.3 218.4,112.6 218.4,111.9 218.5,112.5 218.5,112.7 218.6,111.1 218.6,110.8 218.7,110.4 218.8,112.1 218.8,110.7 218.9,110.4 218.9,110.3 219.0,105.4 219.0,105.0 219.1,104.6 219.1,104.2 219.2,118.6 219.2,118.8 219.3,118.6 219.3,118.3 219.4,118.6 219.4,118.2 219.5,118.4 219.5,118.2 219.6,118.3 219.6,118.3 219.7,117.8 219.7,118.1 219.8,117.8 219.8,98.8 219.9,98.5 219.9,98.3 220.0,98.1 220.0,110.0 220.1,108.6 220.1,109.3 220.2,107.6 220.2,109.3 220.3,107.8 220.3,101.7 220.4,100.2 220.4,96.7 220.5,96.6 220.5,96.6 220.6,96.5 220.6,96.5 220.7,97.8 220.8,99.0 220.8,100.3 220.9,101.6 220.9,116.2 221.0,116.5 221.0,116.4 221.1,116.7 221.1,117.0 221.2,116.3 221.2,97.7 221.3,97.9 221.3,98.2 221.4,98.4 221.4,107.4 221.5,109.0 221.5,107.4 221.6,107.8 221.6,108.8 221.7,108.7 221.7,108.9 221.8,110.1 221.8,110.2 221.9,109.8 221.9,110.7 222.0,110.4 222.0,110.2 222.1,102.5 222.1,102.8 222.2,103.0 222.2,103.3 222.3,114.8 222.3,114.1 222.4,114.2 222.4,114.5 222.5,114.6 222.5,115.3 222.6,114.8 222.6,115.3 222.7,106.8 222.8,107.3 222.8,107.9 222.9,108.5 222.9,109.1 223.0,117.8 223.0,118.0 223.1,118.2 223.1,118.2 223.2,118.4 223.2,118.6 223.3,119.0 223.3,119.0 223.4,118.8 223.4,119.1 223.5,119.1 223.5,119.4 223.6,119.3 223.6,119.4 223.7,119.4 223.7,115.6 223.8,115.8 223.8,116.0 223.9,116.3 223.9,119.3 224.0,119.5 224.0,119.5 224.1,119.6 224.1,119.5 224.2,119.8 224.2,119.9 224.3,120.0 224.3,120.2 224.4,120.3 224.4,119.1 224.5,119.3 224.5,119.5 224.6,119.7 224.7,119.9 224.7,120.5 224.8,120.5 224.8,120.6 224.9,120.7 224.9,120.6 225.0,120.7 225.0,120.8 225.1,121.0 225.1,121.0 225.2,121.2 225.2,121.2 225.3,121.2 225.3,121.2 225.4,121.2 225.4,121.2 225.5,121.2 225.5,121.2 225.6,121.2 225.6,121.2 225.7,121.2 225.7,121.2 225.8,121.2 225.8,121.2 225.9,121.2 225.9,121.2 226.0,121.2 226.0,121.2 226.1,121.2 226.1,121.2 226.2,121.2 226.2,121.2 226.3,121.2 226.3,121.2 226.4,121.2 226.4,121.2 226.5,121.2 226.5,121.2 226.6,121.2 226.7,121.2 226.7,121.2 226.8,121.2 226.8,121.2 226.9,121.2 226.9,121.2 227.0,121.2 227.0,121.2 227.1,121.2 227.1,121.2 227.2,121.2 227.2,121.2 227.3,121.2 227.3,121.2 227.4,121.2 227.4,121.2 227.5,121.2 227.5,121.2 227.6,121.2 227.6,121.2 227.7,121.2 227.7,121.2 227.8,121.2 227.8,121.2 227.9,121.2 227.9,121.2 228.0,121.2 228.0,121.2 228.1,121.2 228.1,121.2 228.2,121.2 228.2,121.2 228.3,121.2 228.3,121.2 228.4,121.2 228.4,121.2 228.5,121.2 228.5,121.2 228.6,121.2 228.7,121.2 228.7,121.2 228.8,121.2 228.8,121.2 228.9,121.2 228.9,121.2 229.0,121.2 229.0,121.2 229.1,121.2 229.1,121.2 229.2,121.2 229.2,121.2 229.3,121.2 229.3,121.2 229.4,121.2 229.4,121.2 229.5,121.2 229.5,121.2 229.6,121.2 229.6,121.2 229.7,121.2 229.7,121.2 229.8,121.2 229.8,121.2 229.9,121.2 229.9,121.2 230.0,121.2 230.0,121.2 230.1,121.2 230.1,121.2 230.2,121.2 230.2,121.2 230.3,121.1 230.3,121.1 230.4,121.2 230.4,121.1 230.5,121.1 230.5,121.1 230.6,121.1 230.7,121.0 230.7,120.9 230.8,120.9 230.8,120.8 230.9,120.8 230.9,119.3 231.0,119.0 231.0,118.6 231.1,118.2 231.1,118.8 231.2,118.8 231.2,118.2 231.3,117.7 231.3,117.4 231.4,114.6 231.4,113.9 231.5,113.0 231.5,112.2 231.6,111.3 231.6,111.7 231.7,112.7 231.7,113.7 231.8,118.4 231.8,118.4 231.9,118.9 231.9,118.9 232.0,119.0 232.0,118.7 232.1,118.9 232.1,118.7 232.2,118.0 232.2,117.8 232.3,117.2 232.3,116.6 232.4,115.9 232.4,115.2 232.5,107.1 232.5,105.9 232.6,104.8 232.7,103.9 232.7,103.2 232.8,102.8 232.8,107.4 232.9,109.6 232.9,107.9 233.0,104.2 233.0,105.2 233.1,106.3 233.1,107.5 233.2,108.7 233.2,109.8 233.3,110.6 233.3,118.7 233.4,119.1 233.4,118.7 233.5,118.7 233.5,118.8 233.6,118.1 233.6,117.9 233.7,117.5 233.7,116.6 233.8,116.7 233.8,116.1 233.9,114.6 233.9,114.9 234.0,113.2 234.0,87.2 234.1,84.1 234.1,81.1 234.2,78.1 234.2,111.3 234.3,110.3 234.3,109.7 234.4,109.6 234.4,108.8 234.5,108.0 234.5,108.9 234.6,106.3 234.7,106.2 234.7,107.6 234.8,107.3 234.8,106.5 234.9,105.2 234.9,51.3 235.0,50.7 235.0,50.2 235.1,49.8 235.1,49.6 235.2,82.2 235.2,63.7 235.3,59.4 235.3,56.6 235.4,52.8 235.4,48.4 235.5,43.8 235.5,48.4 235.6,52.1 235.6,50.0 235.7,50.2 235.7,50.4 235.8,50.7 235.8,51.0 235.9,51.5 235.9,111.8 236.0,110.3 236.0,111.6 236.1,111.8 236.1,110.7 236.2,112.1 236.2,59.7 236.3,61.8 236.3,64.0 236.4,66.5 236.4,69.1 236.5,72.0 236.5,93.4 236.6,95.6 236.7,99.3 236.7,99.9 236.8,102.5 236.8,102.2 236.9,105.5 236.9,106.2 237.0,106.7 237.0,109.7 237.1,109.1 237.1,103.6 237.2,104.9 237.2,106.1 237.3,107.1 237.3,108.0 237.4,117.3 237.4,117.2 237.5,117.3 237.5,117.5 237.6,117.5 237.6,117.9 237.7,118.3 237.7,117.8 237.8,118.0 237.8,118.0 237.9,117.9 237.9,118.2 238.0,110.5 238.0,110.0 238.1,109.6 238.1,109.4 238.2,109.4 238.2,109.5 238.3,113.5 238.3,113.4 238.4,113.9 238.4,113.9 238.5,110.9 238.5,111.2 238.6,111.5 238.7,111.7 238.7,111.8 238.8,114.9 238.8,115.3 238.9,115.1 238.9,115.2 239.0,115.2 239.0,114.4 239.1,114.4 239.1,113.9 239.2,113.6 239.2,114.6 239.3,113.6 239.3,111.3 239.4,112.2 239.4,113.0 239.5,113.9 239.5,114.6 239.6,118.8 239.6,119.3 239.7,119.7 239.7,119.8 239.8,120.0 239.8,120.0 239.9,120.2 239.9,120.4 240.0,120.6 240.0,120.7 240.1,120.7 240.1,120.8 240.2,120.9 240.2,121.0 240.3,121.0 240.3,120.8 240.4,120.9 240.4,121.0 240.5,121.1 240.6,121.1 240.6,121.1 240.7,121.2 240.7,121.2 240.8,121.2 240.8,121.2 240.9,121.2 240.9,121.2 241.0,121.2 241.0,121.2 241.1,121.2 241.1,121.2 241.2,121.2 241.2,121.2 241.3,121.2 241.3,121.2 241.4,121.2 241.4,121.2 241.5,121.2 241.5,121.2 241.6,121.2 241.6,121.2 241.7,121.2 241.7,121.2 241.8,121.2 241.8,121.2 241.9,121.2 241.9,121.2 242.0,121.2 242.0,121.2 242.1,121.2 242.1,121.2 242.2,121.2 242.2,121.2 242.3,121.2 242.3,121.2 242.4,121.2 242.4,121.2 242.5,121.2 242.6,121.2 242.6,121.2 242.7,121.2 242.7,121.2 242.8,121.2 242.8,121.2 242.9,121.2 242.9,121.2 243.0,121.2 243.0,121.2 243.1,121.2 243.1,121.2 243.2,121.2 243.2,121.2 243.3,121.2 243.3,121.2 243.4,121.2 243.4,121.2 243.5,121.2 243.5,121.2 243.6,121.2 243.6,121.2 243.7,121.2 243.7,121.2 243.8,121.2 243.8,121.2 243.9,121.2 243.9,121.2 244.0,121.2 244.0,121.2 244.1,121.2 244.1,121.2 244.2,121.2 244.2,121.2 244.3,121.2 244.3,121.2 244.4,121.2 244.4,121.2 244.5,121.2 244.6,121.2 244.6,121.2 244.7,121.2 244.7,121.2 244.8,121.2 244.8,121.2 244.9,121.2 244.9,121.2 245.0,121.2 245.0,121.1 245.1,121.1 245.1,121.0 245.2,121.1 245.2,121.0 245.3,121.0 245.3,120.9 245.4,120.8 245.4,120.7 245.5,120.5 245.5,119.6 245.6,119.3 245.6,118.9 245.7,118.5 245.7,120.0 245.8,119.7 245.8,119.6 245.9,119.4 245.9,119.0 246.0,118.7 246.0,118.2 246.1,118.2 246.1,112.0 246.2,111.0 246.2,110.0 246.3,108.8 246.3,107.7 246.4,106.4 246.4,105.1 246.5,111.3 246.6,110.2 246.6,108.2 246.7,106.4 246.7,109.4 246.8,110.0 246.8,103.3 246.9,104.5 246.9,105.6 247.0,106.6 247.0,107.6 247.1,108.3 247.1,115.2 247.2,114.2 247.2,115.1 247.3,114.6 247.3,108.1 247.4,107.8 247.4,107.5 247.5,107.2 247.5,106.8 247.6,106.4 247.6,106.1 247.7,117.1 247.7,117.2 247.8,117.3 247.8,117.1 247.9,116.2 247.9,115.8 248.0,115.6 248.0,93.6 248.1,90.5 248.1,87.0 248.2,83.4 248.2,79.6 248.3,75.7 248.3,71.7 248.4,95.9 248.4,93.8 248.5,92.2 248.6,88.2 248.6,88.6 248.7,52.4 248.7,50.1 248.8,48.1 248.8,46.3 248.9,91.5 248.9,86.9 249.0,88.0 249.0,86.2 249.1,89.7 249.1,84.3 249.2,86.2 249.2,87.7 249.3,88.2 249.3,34.8 249.4,34.1 249.4,33.5 249.5,33.0 249.5,32.5 249.6,32.0 249.6,31.5 249.7,31.1 249.7,63.1 249.8,61.5 249.8,58.6 249.9,60.1 249.9,48.1 250.0,42.5 250.0,38.8 250.1,34.1 250.1,28.4 250.2,22.6 250.2,28.4 250.3,33.1 250.3,39.4 250.4,44.1 250.4,30.8 250.5,31.0 250.6,31.2 250.6,31.4 250.7,67.8 250.7,63.4 250.8,63.1 250.8,65.9 250.9,64.5 250.9,73.1 251.0,69.2 251.0,69.9 251.1,73.0 251.1,70.0 251.2,70.6 251.2,67.3 251.3,76.9 251.3,75.4 251.4,77.5 251.4,44.1 251.5,45.8 251.5,47.5 251.6,49.3 251.6,86.1 251.7,82.9 251.7,88.3 251.8,88.3 251.8,91.4 251.9,92.1 251.9,93.3 252.0,92.4 252.0,95.1 252.1,96.5 252.1,96.5 252.2,75.7 252.2,78.1 252.3,80.2 252.3,82.1 252.4,83.8 252.4,115.0 252.5,114.8 252.6,114.3 252.6,115.6 252.7,116.0 252.7,115.7 252.8,115.8 252.8,116.3 252.9,116.7 252.9,97.3 253.0,98.8 253.0,100.4 253.1,101.9 253.1,115.1 253.2,115.2 253.2,115.2 253.3,115.8 253.3,106.2 253.4,106.0 253.4,105.4 253.5,104.5 253.5,103.1 253.6,101.5 253.6,99.9 253.7,113.4 253.7,114.0 253.8,113.3 253.8,114.9 253.9,102.4 253.9,103.8 254.0,105.1 254.0,106.4 254.1,107.7 254.1,115.4 254.2,116.2 254.2,116.4 254.3,117.1 254.3,113.0 254.4,113.9 254.4,114.7 254.5,115.5 254.6,116.2 254.6,116.8 254.7,117.4 254.7,120.4 254.8,120.5 254.8,120.6 254.9,119.3 254.9,119.6 255.0,119.9 255.0,120.2 255.1,120.4 255.1,121.1 255.2,121.1 255.2,121.1 255.3,121.2 255.3,121.2 255.4,121.1 255.4,121.1 255.5,121.2 255.5,121.2 255.6,121.2 255.6,121.2 255.7,121.2 255.7,121.2 255.8,121.2 255.8,121.2 255.9,121.2 255.9,121.2 256.0,121.2 256.0,121.2 256.1,121.2 256.1,121.2 256.2,121.2 256.2,121.2 256.3,121.2 256.3,121.2 256.4,121.2 256.5,121.2 256.5,121.2 256.6,121.2 256.6,121.2 256.7,121.2 256.7,121.2 256.8,121.2 256.8,121.2 256.9,121.2 256.9,121.2 257.0,121.2 257.0,121.2 257.1,121.2 257.1,121.2 257.2,121.2 257.2,121.2 257.3,121.2 257.3,121.2 257.4,121.2 257.4,121.2 257.5,121.2 257.5,121.2 257.6,121.2 257.6,121.2 257.7,121.2 257.7,121.2 257.8,121.2 257.8,121.2 257.9,121.2 257.9,121.2 258.0,121.2 258.0,121.2 258.1,121.2 258.1,121.2 258.2,121.2 258.2,121.2 258.3,121.2 258.3,121.2 258.4,121.2 258.5,121.2 258.5,121.2 258.6,121.2 258.6,121.2 258.7,121.2 258.7,121.2 258.8,121.2 258.8,121.2 258.9,121.2 258.9,121.2 259.0,121.2 259.0,121.2 259.1,121.2 259.1,121.2 259.2,121.2 259.2,121.2 259.3,121.2 259.3,121.2 259.4,121.2 259.4,121.2 259.5,121.2 259.5,121.2 259.6,121.2 259.6,121.2 259.7,121.2 259.7,121.1 259.8,121.1 259.8,121.0 259.9,121.1 259.9,121.0 260.0,121.0 260.0,120.9 260.1,120.8 260.1,120.7 260.2,120.5 260.2,120.5 260.3,120.2 260.3,120.1 260.4,118.3 260.5,117.8 260.5,117.2 260.6,116.6 260.6,115.9 260.7,115.1 260.7,118.8 260.8,118.1 260.8,118.0 260.9,117.7 260.9,117.4 261.0,116.3 261.0,115.8 261.1,115.8 261.1,115.5 261.2,114.5 261.2,102.6 261.3,101.1 261.3,99.5 261.4,97.9 261.4,96.3 261.5,94.6 261.5,116.3 261.6,115.9 261.6,115.3 261.7,114.8 261.7,115.0 261.8,83.8 261.8,82.0 261.9,81.2 261.9,80.7 262.0,116.0 262.0,116.6 262.1,115.6 262.1,115.8 262.2,114.9 262.2,115.4 262.3,115.1 262.3,114.2 262.4,61.6 262.5,59.9 262.5,58.2 262.6,56.4 262.6,54.8 262.7,84.3 262.7,82.6 262.8,84.2 262.8,79.4 262.9,79.1 262.9,78.2 263.0,78.1 263.0,81.0 263.1,76.2 263.1,80.0 263.2,79.7 263.2,75.7 263.3,78.1 263.3,77.9 263.4,33.0 263.4,31.9 263.5,30.7 263.5,29.6 263.6,28.5 263.6,27.4 263.7,110.5 263.7,109.5 263.8,110.2 263.8,109.0 263.9,108.9 263.9,109.0 264.0,110.1 264.0,108.4 264.1,108.9 264.1,108.7 264.2,108.5 264.2,21.9 264.3,22.0 264.3,22.1 264.4,22.2 264.5,22.3 264.5,22.4 264.6,73.6 264.6,80.1 264.7,77.7 264.7,80.1 264.8,22.4 264.8,22.3 264.9,22.2 264.9,22.1 265.0,19.9 265.0,16.7 265.1,13.5 265.1,16.7 265.2,25.0 265.2,32.2 265.3,37.2 265.3,42.3 265.4,103.5 265.4,105.1 265.5,105.9 265.5,103.8 265.6,104.9 265.6,105.2 265.7,103.7 265.7,104.2 265.8,106.6 265.8,103.6 265.9,105.3 265.9,24.7 266.0,24.9 266.0,25.1 266.1,25.3 266.1,25.6 266.2,106.0 266.2,105.2 266.3,105.1 266.3,106.9 266.4,104.7 266.5,106.1 266.5,107.8 266.6,31.9 266.6,33.0 266.7,34.3 266.7,35.5 266.8,57.2 266.8,61.8 266.9,66.0 266.9,62.3 267.0,63.4 267.0,65.5 267.1,71.4 267.1,73.9 267.2,67.2 267.2,68.0 267.3,74.4 267.3,53.1 267.4,54.8 267.4,56.4 267.5,58.2 267.5,59.9 267.6,61.6 267.6,95.6 267.7,93.0 267.7,95.9 267.8,95.9 267.8,97.3 267.9,72.6 267.9,74.5 268.0,76.4 268.0,78.2 268.1,80.1 268.1,97.1 268.2,96.6 268.2,97.2 268.3,96.8 268.3,98.5 268.4,100.4 268.5,92.9 268.5,94.6 268.6,96.3 268.6,97.9 268.7,110.0 268.7,111.5 268.8,111.4 268.8,112.2 268.9,113.9 268.9,113.5 269.0,115.2 269.0,115.4 269.1,110.3 269.1,111.4 269.2,112.4 269.2,113.4 269.3,114.3 269.3,119.1 269.4,119.4 269.4,119.8 269.5,119.9 269.5,120.1 269.6,120.4 269.6,120.5 269.7,120.6 269.7,120.7 269.8,120.8 269.8,120.1 269.9,120.4 269.9,120.5 270.0,120.7 270.0,120.8 270.1,120.9 270.1,121.0 270.2,121.1 270.2,121.2 270.3,121.2 270.3,121.2 270.4,121.2 270.5,121.2 270.5,121.2 270.6,121.2 270.6,121.2 270.7,121.2 270.7,121.2 270.8,121.2 270.8,121.2 270.9,121.2 270.9,121.2 271.0,121.2 271.0,121.2 271.1,121.2 271.1,121.2 271.2,121.2 271.2,121.2 271.3,121.2 271.3,121.2 271.4,121.2 271.4,121.2 271.5,121.2 271.5,121.2 271.6,121.2 271.6,121.2 271.7,121.2 271.7,121.2 271.8,121.2 271.8,121.2 271.9,121.2 271.9,121.2 272.0,121.2 272.0,121.2 272.1,121.2 272.1,121.2 272.2,121.2 272.2,121.2 272.3,121.2 272.3,121.2 272.4,121.2 272.5,121.2 272.5,121.2 272.6,121.2 272.6,121.2 272.7,121.2 272.7,121.2 272.8,121.2 272.8,121.2 272.9,121.2 272.9,121.2 273.0,121.2 273.0,121.2 273.1,121.2 273.1,121.2 273.2,121.2 273.2,121.2 273.3,121.2 273.3,121.2 273.4,121.2 273.4,121.2 273.5,121.2 273.5,121.2 273.6,121.2 273.6,121.2 273.7,121.2 273.7,121.2 273.8,121.2 273.8,121.2 273.9,121.2 273.9,121.2 274.0,121.2 274.0,121.2 274.1,121.2 274.1,121.2 274.2,121.2 274.2,121.2 274.3,121.2 274.4,121.2 274.4,121.2 274.5,121.2 274.5,121.2 274.6,121.0 274.6,120.9 274.7,120.8 274.7,120.7 274.8,120.6 274.8,120.8 274.9,120.5 274.9,120.4 275.0,119.5 275.0,119.2 275.1,118.8 275.1,118.3 275.2,117.8 275.2,117.2 275.3,116.6 275.3,119.7 275.4,119.3 275.4,119.0 275.5,118.7 275.5,118.6 275.6,118.4 275.6,117.5 275.7,117.2 275.7,117.3 275.8,106.6 275.8,105.3 275.9,103.9 275.9,102.4 276.0,100.9 276.0,99.3 276.1,116.3 276.1,115.3 276.2,115.4 276.2,115.1 276.3,90.8 276.4,89.0 276.4,87.1 276.5,85.3 276.5,83.4 276.6,81.5 276.6,79.6 276.7,77.7 276.7,104.9 276.8,104.5 276.8,105.3 276.9,102.1 276.9,68.1 277.0,66.3 277.0,64.4 277.1,62.6 277.1,87.3 277.2,89.4 277.2,83.4 277.3,84.2 277.3,82.2 277.4,84.6 277.4,83.1 277.5,83.6 277.5,47.1 277.6,45.5 277.6,43.9 277.7,42.4 277.7,40.9 277.8,81.7 277.8,83.2 277.9,80.0 277.9,85.0 278.0,83.0 278.0,84.5 278.1,76.9 278.1,30.7 278.2,29.9 278.2,29.0 278.3,28.1 278.4,27.3 278.4,83.9 278.5,87.0 278.5,81.1 278.6,80.8 278.6,86.1 278.7,86.6 278.7,82.6 278.8,83.5 278.8,82.7 278.9,82.5 278.9,79.8 279.0,81.2 279.0,84.6 279.1,21.3 279.1,21.2 279.2,21.1 279.2,21.0 279.3,73.3 279.3,77.6 279.4,81.6 279.4,73.6 279.5,79.2 279.5,74.3 279.6,76.1 279.6,40.2 279.7,19.9 279.7,19.7 279.8,17.1 279.8,13.8 279.9,10.4 279.9,13.8 280.0,17.1 280.0,29.7 280.1,34.9 280.1,40.1 280.2,104.5 280.2,105.2 280.3,105.1 280.4,104.7 280.4,104.8 280.5,105.3 280.5,105.3 280.6,105.2 280.6,105.7 280.7,20.9 280.7,21.0 280.8,21.1 280.8,21.2 280.9,21.2 280.9,21.4 281.0,21.5 281.0,60.4 281.1,62.0 281.1,55.9 281.2,25.5 281.2,26.6 281.3,27.8 281.3,28.9 281.4,30.1 281.4,31.4 281.5,60.5 281.5,65.7 281.6,62.5 281.6,68.7 281.7,69.3 281.7,68.0 281.8,74.0 281.8,65.6 281.9,75.1 281.9,68.4 282.0,72.0 282.0,48.7 282.1,50.3 282.1,52.0 282.2,53.7 282.2,55.4 282.3,81.3 282.4,84.9 282.4,86.8 282.5,89.4 282.5,90.5 282.6,87.1 282.6,87.6 282.7,92.1 282.7,91.4 282.8,92.7 282.8,95.0 282.9,96.1 282.9,79.6 283.0,81.5 283.0,83.4 283.1,85.3 283.1,87.1 283.2,89.0 283.2,90.8 283.3,106.3 283.3,108.1 283.4,108.7 283.4,110.3 283.5,109.3 283.5,111.9 283.6,111.4 283.6,112.3 283.7,113.5 283.7,113.3 283.8,115.2 283.8,109.1 283.9,110.3 283.9,111.4 284.0,112.4 284.0,113.4 284.1,114.3 284.1,118.0 284.2,118.5 284.2,118.8 284.3,119.0 284.4,119.6 284.4,119.7 284.5,120.0 284.5,120.1 284.6,120.4 284.6,119.9 284.7,120.1 284.7,120.4 284.8,120.6 284.8,120.7 284.9,121.0 284.9,121.0 285.0,121.1 285.0,121.1 285.1,121.2 285.1,121.2 285.2,121.2 285.2,121.2 285.3,121.2 285.3,121.2 285.4,121.2 285.4,121.2 285.5,121.2 285.5,121.2 285.6,121.2 285.6,121.2 285.7,121.2 285.7,121.2 285.8,121.2 285.8,121.2 285.9,121.2 285.9,121.2 286.0,121.2 286.0,121.2 286.1,121.2 286.1,121.2 286.2,121.2 286.2,121.2 286.3,121.2 286.4,121.2 286.4,121.2 286.5,121.2 286.5,121.2 286.6,121.2 286.6,121.2 286.7,121.2 286.7,121.2 286.8,121.2 286.8,121.2 286.9,121.2 286.9,121.2 287.0,121.2 287.0,121.2 287.1,121.2 287.1,121.2 287.2,121.2 287.2,121.2 287.3,121.2 287.3,121.2 287.4,121.2 287.4,121.2 287.5,121.2 287.5,121.2 287.6,121.2 287.6,121.2 287.7,121.2 287.7,121.2 287.8,121.2 287.8,121.2 287.9,121.2 287.9,121.2 288.0,121.2 288.0,121.2 288.1,121.2 288.1,121.2 288.2,121.2 288.2,121.2 288.3,121.2 288.4,121.2 288.4,121.2 288.5,121.2 288.5,121.2 288.6,121.2 288.6,121.2 288.7,121.2 288.7,121.2 288.8,121.2 288.8,121.2 288.9,121.2 288.9,121.2 289.0,121.2 289.0,121.2 289.1,121.2 289.1,121.2 289.2,121.2 289.2,121.1 289.3,121.1 289.3,121.1 289.4,121.0 289.4,120.9 289.5,120.9 289.5,120.7 289.6,120.3 289.6,120.0 289.7,119.7 289.7,119.4 289.8,119.1 289.8,118.6 289.9,118.2 289.9,120.5 290.0,120.3 290.0,120.2 290.1,120.1 290.1,120.0 290.2,119.8 290.3,119.6 290.3,112.5 290.4,111.5 290.4,110.5 290.5,109.4 290.5,108.2 290.6,118.3 290.6,117.7 290.7,117.8 290.7,117.4 290.8,116.7 290.8,116.5 290.9,115.7 290.9,115.4 291.0,115.8 291.0,114.9 291.1,92.4 291.1,90.8 291.2,89.1 291.2,87.4 291.3,85.7 291.3,84.0 291.4,82.3 291.4,80.6 291.5,78.8 291.5,77.1 291.6,75.4 291.6,73.7 291.7,104.8 291.7,104.5 291.8,103.7 291.8,103.7 291.9,102.7 291.9,100.9 292.0,102.4 292.0,101.6 292.1,101.1 292.1,98.8 292.2,100.9 292.3,99.6 292.3,53.2 292.4,51.8 292.4,50.4 292.5,49.1 292.5,47.8 292.6,46.5 292.6,45.2 292.7,43.9 292.7,42.7 292.8,41.5 292.8,40.4 292.9,74.8 292.9,77.0 293.0,80.3 293.0,77.4 293.1,78.9 293.1,75.7 293.2,75.9 293.2,32.2 293.3,31.4 293.3,30.5 293.4,29.7 293.4,29.1 293.5,29.0 293.5,28.9 293.6,28.9 293.6,28.8 293.7,28.8 293.7,91.5 293.8,92.2 293.8,92.2 293.9,91.5 293.9,91.3 294.0,95.4 294.0,91.4 294.1,95.4 294.1,94.8 294.2,46.9 294.3,41.3 294.3,37.6 294.4,32.4 294.4,23.7 294.5,20.7 294.5,23.7 294.6,26.7 294.6,28.4 294.7,28.5 294.7,28.5 294.8,81.0 294.8,83.8 294.9,83.9 294.9,83.5 295.0,83.8 295.0,83.6 295.1,82.8 295.1,80.8 295.2,87.3 295.2,86.2 295.3,88.0 295.3,87.6 295.4,86.6 295.4,81.6 295.5,85.9 295.5,29.9 295.6,30.2 295.6,30.5 295.7,30.8 295.7,64.8 295.8,73.1 295.8,71.5 295.9,72.2 295.9,74.3 296.0,76.2 296.0,73.7 296.1,76.1 296.1,78.3 296.2,70.8 296.3,76.5 296.3,80.2 296.4,42.7 296.4,43.9 296.5,45.2 296.5,46.5 296.6,47.8 296.6,49.1 296.7,50.4 296.7,51.8 296.8,53.2 296.8,87.8 296.9,90.6 296.9,92.7 297.0,90.3 297.0,92.5 297.1,90.5 297.1,94.4 297.2,95.7 297.2,67.0 297.3,68.7 297.3,70.3 297.4,72.0 297.4,73.7 297.5,75.4 297.5,77.1 297.6,78.8 297.6,80.6 297.7,99.0 297.7,98.8 297.8,100.4 297.8,99.0 297.9,103.1 297.9,101.3 298.0,104.5 298.0,104.9 298.1,104.4 298.1,106.0 298.2,106.5 298.3,108.5 298.3,109.9 298.4,109.9 298.4,104.5 298.5,105.8 298.5,107.0 298.6,108.2 298.6,109.4 298.7,114.1 298.7,113.7 298.8,114.7 298.8,113.4 298.9,114.3 298.9,115.0 299.0,115.8 299.0,116.5 299.1,117.1 299.1,117.7 299.2,118.2 299.2,118.6 299.3,119.1 299.3,120.0 299.4,120.3 299.4,120.5 299.5,120.6 299.5,120.7 299.6,120.9 299.6,120.9 299.7,121.0 299.7,121.1 299.8,121.1 299.8,121.1 299.9,121.2 299.9,121.2 300.0,121.2 300.0,121.2 300.1,121.2 300.1,121.2 300.2,121.2 300.3,121.2 300.3,121.2 300.4,121.2 300.4,121.2 300.5,121.2 300.5,121.2 300.6,121.2 300.6,121.2 300.7,121.2 300.7,121.2 300.8,121.2 300.8,121.2 300.9,121.2 300.9,121.2 301.0,121.2 301.0,121.2 301.1,121.2 301.1,121.2 301.2,121.2 301.2,121.2 301.3,121.2 301.3,121.2 301.4,121.2 301.4,121.2 301.5,121.2 301.5,121.2 301.6,121.2 301.6,121.2 301.7,121.2 301.7,121.2 301.8,121.2 301.8,121.2 301.9,121.2 301.9,121.2 302.0,121.2 302.0,121.2 302.1,121.2 302.1,121.2 302.2,121.2 302.3,121.2 302.3,121.2 302.4,121.2 302.4,121.2 302.5,121.2 302.5,121.2 302.6,121.2 302.6,121.2 302.7,121.2 302.7,121.2 302.8,121.2 302.8,121.2 302.9,121.2 302.9,121.2 303.0,121.2 303.0,121.2 303.1,121.2 303.1,121.2 303.2,121.2 303.2,121.2 303.3,121.2 303.3,121.2 303.4,121.2 303.4,121.2 303.5,121.2 303.5,121.2 303.6,121.2 303.6,121.2 303.7,121.1 303.7,121.0 303.8,120.9 303.8,120.9 303.9,120.7 303.9,120.4 304.0,120.2 304.0,119.9 304.1,119.6 304.1,119.1 304.2,118.9 304.3,118.6 304.3,118.0 304.4,117.3 304.4,116.5 304.5,114.3 304.5,113.4 304.6,112.4 304.6,111.4 304.7,110.3 304.7,109.1 304.8,107.9 304.8,106.7 304.9,109.8 304.9,109.0 305.0,107.8 305.0,105.6 305.1,106.2 305.1,106.2 305.2,104.0 305.2,101.9 305.3,100.0 305.3,98.3 305.4,98.2 305.4,88.6 305.5,86.9 305.5,85.2 305.6,83.5 305.6,81.8 305.7,80.1 305.7,78.4 305.8,76.7 305.8,75.0 305.9,73.3 305.9,71.7 306.0,70.0 306.0,68.3 306.1,67.0 306.2,65.7 306.2,64.3 306.3,62.9 306.3,61.4 306.4,59.9 306.4,58.3 306.5,56.7 306.5,55.2 306.6,53.6 306.6,52.1 306.7,50.6 306.7,49.2 306.8,47.9 306.8,62.6 306.9,64.1 306.9,59.3 307.0,59.1 307.0,68.6 307.1,66.6 307.1,55.6 307.2,58.8 307.2,64.5 307.3,54.4 307.3,64.0 307.4,57.7 307.4,58.9 307.5,59.5 307.5,59.5 307.6,32.3 307.6,31.4 307.7,30.5 307.7,29.7 307.8,28.9 307.8,28.2 307.9,27.5 307.9,26.8 308.0,26.2 308.0,25.7 308.1,25.2 308.2,24.7 308.2,24.3 308.3,23.8 308.3,23.4 308.4,23.1 308.4,22.7 308.5,22.4 308.5,22.1 308.6,21.8 308.6,21.5 308.7,21.3 308.7,21.1 308.8,20.9 308.8,20.8 308.9,20.6 308.9,20.5 309.0,44.6 309.0,35.8 309.1,40.5 309.1,33.4 309.2,30.4 309.2,26.4 309.3,20.3 309.3,17.6 309.4,20.4 309.4,20.4 309.5,20.4 309.5,20.5 309.6,40.6 309.6,39.0 309.7,45.0 309.7,45.5 309.8,43.6 309.8,51.0 309.9,46.8 309.9,21.1 310.0,21.3 310.0,21.5 310.1,21.7 310.2,21.9 310.2,22.2 310.3,22.5 310.3,22.8 310.4,23.2 310.4,23.6 310.5,24.0 310.5,24.5 310.6,25.0 310.6,25.6 310.7,26.2 310.7,26.9 310.8,27.6 310.8,28.3 310.9,29.0 310.9,29.8 311.0,30.5 311.0,31.4 311.1,32.2 311.1,33.1 311.2,33.9 311.2,59.1 311.3,64.3 311.3,54.8 311.4,60.2 311.4,38.8 311.5,39.8 311.5,40.9 311.6,42.0 311.6,43.1 311.7,44.3 311.7,45.5 311.8,63.7 311.8,67.4 311.9,70.1 311.9,73.4 312.0,68.7 312.0,75.1 312.1,73.7 312.2,57.2 312.2,58.8 312.3,60.4 312.3,61.9 312.4,63.3 312.4,64.5 312.5,65.6 312.5,66.7 312.6,68.3 312.6,70.0 312.7,71.7 312.7,73.3 312.8,75.0 312.8,76.7 312.9,78.4 312.9,80.1 313.0,81.8 313.0,83.5 313.1,85.2 313.1,86.9 313.2,88.6 313.2,90.2 313.3,91.9 313.3,93.5 313.4,95.1 313.4,102.4 313.5,105.6 313.5,104.3 313.6,107.8 313.6,106.7 313.7,108.2 313.7,108.7 313.8,109.7 313.8,107.9 313.9,109.1 313.9,110.3 314.0,111.4 314.0,112.4 314.1,113.4 314.2,114.3 314.2,115.2 314.3,116.0 314.3,116.7 314.4,117.4 314.4,118.0 314.5,118.6 314.5,119.1 314.6,119.5 314.6,119.9 314.7,120.2 314.7,120.5 314.8,120.7 314.8,120.9 314.9,121.0 314.9,121.1 315.0,121.2 315.0,121.2 315.1,121.2 315.1,121.2 315.2,121.2 315.2,121.2 315.3,121.2 315.3,121.2 315.4,121.2 315.4,121.2 315.5,121.2 315.5,121.2 315.6,121.2 315.6,121.2 315.7,121.2 315.7,121.2 315.8,121.2 315.8,121.2 315.9,121.2 315.9,121.2 316.0,121.2 316.0,121.2 316.1,121.2 316.2,121.2 316.2,121.2 316.3,121.2 316.3,121.2 316.4,121.2 316.4,121.2 316.5,121.2 316.5,121.2 316.6,121.2 316.6,121.2 316.7,121.2 316.7,121.2 316.8,121.2 316.8,121.2 316.9,121.2 316.9,121.2 317.0,121.2 317.0,121.2 317.1,121.2 317.1,121.2 317.2,121.2 317.2,121.2 317.3,121.2 317.3,121.2 317.4,121.2 317.4,121.2 317.5,121.2 317.5,121.2 317.6,121.2 317.6,121.2 317.7,121.2 317.7,121.2 317.8,121.2 317.8,121.2 317.9,121.2 317.9,121.2 318.0,121.2 318.0,121.2 318.1,121.2 318.2,121.2 318.2,121.2 318.3,121.2 318.3,121.2 318.4,121.2 318.4,121.1 318.5,121.1 318.5,120.9 318.6,120.8 318.6,120.6 318.7,120.3 318.7,120.0 318.8,120.1 318.8,119.7 318.9,119.5 318.9,118.8 319.0,118.7 319.0,117.7 319.1,117.2 319.1,116.9 319.2,116.3 319.2,115.8 319.3,114.6 319.3,114.6 319.4,113.7 319.4,113.4 319.5,108.9 319.5,107.7 319.6,106.5 319.6,105.3 319.7,104.0 319.7,102.6 319.8,103.5 319.8,103.9 319.9,103.6 319.9,102.3 320.0,101.5 320.0,101.2 320.1,101.1 320.2,97.9 320.2,100.3 320.3,96.5 320.3,95.3 320.4,94.8 320.4,90.4 320.5,89.2 320.5,87.7 320.6,86.2 320.6,84.7 320.7,83.1 320.7,81.6 320.8,80.0 320.8,78.5 320.9,77.0 320.9,75.6 321.0,74.3 321.0,73.0 321.1,71.8 321.1,87.2 321.2,84.0 321.2,87.6 321.3,84.6 321.3,65.6 321.4,64.4 321.4,63.3 321.5,62.1 321.5,61.0 321.6,59.8 321.6,58.6 321.7,57.4 321.7,67.0 321.8,64.6 321.8,62.8 321.9,61.2 321.9,51.6 322.0,50.5 322.0,49.4 322.1,48.3 322.2,47.2 322.2,46.1 322.3,44.9 322.3,43.8 322.4,42.7 322.4,41.7 322.5,40.7 322.5,39.7 322.6,38.8 322.6,38.0 322.7,37.2 322.7,36.4 322.8,35.7 322.8,35.0 322.9,34.3 322.9,64.8 323.0,59.2 323.0,66.1 323.1,63.0 323.1,62.2 323.2,58.4 323.2,59.0 323.3,56.2 323.3,29.1 323.4,28.7 323.4,28.3 323.5,28.0 323.5,43.5 323.6,50.7 323.6,41.5 323.7,49.3 323.7,43.8 323.8,52.9 323.8,26.6 323.9,26.5 323.9,26.5 324.0,26.4 324.1,35.9 324.1,32.1 324.2,29.3 324.2,23.7 324.3,29.3 324.3,31.2 324.4,34.4 324.4,37.1 324.5,38.4 324.5,46.8 324.6,46.6 324.6,49.8 324.7,48.6 324.7,37.8 324.8,49.4 324.8,27.4 324.9,27.5 324.9,27.7 325.0,27.9 325.0,28.1 325.1,28.4 325.1,28.7 325.2,29.0 325.2,29.4 325.3,29.9 325.3,30.4 325.4,31.0 325.4,31.6 325.5,32.4 325.5,33.2 325.6,34.0 325.6,35.0 325.7,36.0 325.7,37.0 325.8,38.1 325.8,39.2 325.9,40.3 325.9,41.5 326.0,42.6 326.1,43.8 326.1,44.9 326.2,67.5 326.2,66.2 326.3,67.9 326.3,66.9 326.4,70.3 326.4,72.7 326.5,64.3 326.5,67.0 326.6,67.7 326.6,73.9 326.7,68.1 326.7,70.2 326.8,75.1 326.8,77.1 326.9,62.4 326.9,63.5 327.0,64.6 327.0,65.8 327.1,67.1 327.1,68.4 327.2,69.9 327.2,71.6 327.3,73.3 327.3,75.1 327.4,82.4 327.4,81.7 327.5,83.0 327.5,84.4 327.6,89.1 327.6,92.9 327.7,91.9 327.7,93.2 327.8,92.1 327.8,88.7 327.9,89.1 327.9,89.3 328.0,90.9 328.1,92.4 328.1,94.0 328.2,95.5 328.2,97.0 328.3,98.4 328.3,99.9 328.4,101.3 328.4,102.6 328.5,104.0 328.5,105.3 328.6,106.5 328.6,107.7 328.7,108.9 328.7,110.0 328.8,111.1 328.8,112.1 328.9,113.1 328.9,114.0 329.0,114.8 329.0,117.9 329.1,118.4 329.1,118.9 329.2,118.9 329.2,119.4 329.3,119.8 329.3,120.0 329.4,120.3 329.4,120.0 329.5,120.3 329.5,120.6 329.6,120.8 329.6,120.9 329.7,121.1 329.7,121.1 329.8,121.2 329.8,121.2 329.9,121.2 329.9,121.2 330.0,121.2 330.1,121.2 330.1,121.2 330.2,121.2 330.2,121.2 330.3,121.2 330.3,121.2 330.4,121.2 330.4,121.2 330.5,121.2 330.5,121.2 330.6,121.2 330.6,121.2 330.7,121.2 330.7,121.2 330.8,121.2 330.8,121.2 330.9,121.2 330.9,121.2 331.0,121.2 331.0,121.2 331.1,121.2 331.1,121.2 331.2,121.2 331.2,121.2 331.3,121.2 331.3,121.2 331.4,121.2 331.4,121.2 331.5,121.2 331.5,121.2 331.6,121.2 331.6,121.2 331.7,121.2 331.7,121.2 331.8,121.2 331.8,121.2 331.9,121.2 331.9,121.2 332.0,121.2 332.1,121.2 332.1,121.2 332.2,121.2 332.2,121.2 332.3,121.2 332.3,121.2 332.4,121.2 332.4,121.2 332.5,121.2 332.5,121.2 332.6,121.2 332.6,121.2 332.7,121.2 332.7,121.2 332.8,121.2 332.8,121.2 332.9,121.2 332.9,121.2 333.0,121.2 333.0,121.2 333.1,121.2 333.1,121.2 333.2,121.2 333.2,121.2 333.3,121.2 333.3,121.2 333.4,121.2 333.4,121.2 333.5,121.1 333.5,121.1 333.6,121.1 333.6,121.0 333.7,121.0 333.7,120.9 333.8,120.2 333.8,119.9 333.9,119.6 333.9,119.3 334.0,118.9 334.1,118.5 334.1,118.1 334.2,117.5 334.2,117.0 334.3,119.0 334.3,118.6 334.4,118.6 334.4,118.4 334.5,113.3 334.5,112.5 334.6,111.5 334.6,110.5 334.7,109.5 334.7,108.3 334.8,107.2 334.8,106.0 334.9,104.7 334.9,103.4 335.0,107.1 335.0,108.0 335.1,106.4 335.1,104.5 335.2,104.8 335.2,102.3 335.3,102.7 335.3,105.0 335.4,104.8 335.4,104.7 335.5,104.6 335.5,99.9 335.6,100.3 335.6,100.4 335.7,100.3 335.7,99.8 335.8,111.2 335.8,109.3 335.9,108.6 335.9,107.8 336.0,107.9 336.1,105.5 336.1,105.4 336.2,88.3 336.2,86.6 336.3,84.8 336.3,83.1 336.4,81.5 336.4,79.9 336.5,78.3 336.5,76.6 336.6,74.9 336.6,73.1 336.7,93.7 336.7,88.2 336.8,89.5 336.8,84.6 336.9,87.0 336.9,85.9 337.0,81.0 337.0,82.9 337.1,77.0 337.1,79.3 337.2,75.2 337.2,81.3 337.3,81.2 337.3,80.9 337.4,72.4 337.4,45.5 337.5,44.4 337.5,43.4 337.6,42.4 337.6,41.4 337.7,40.5 337.7,39.6 337.8,92.3 337.8,89.5 337.9,90.1 337.9,91.8 338.0,93.4 338.1,92.0 338.1,91.9 338.2,91.9 338.2,89.7 338.3,88.8 338.3,88.8 338.4,92.6 338.4,92.7 338.5,89.6 338.5,89.1 338.6,33.2 338.6,33.0 338.7,32.8 338.7,32.6 338.8,30.3 338.8,27.4 338.9,24.5 338.9,27.4 339.0,34.8 339.0,40.8 339.1,45.2 339.1,49.7 339.2,99.9 339.2,97.2 339.3,98.0 339.3,97.5 339.4,32.0 339.4,32.1 339.5,32.3 339.5,32.4 339.6,32.5 339.6,32.7 339.7,32.9 339.7,33.1 339.8,33.3 339.8,33.6 339.9,33.9 340.0,80.8 340.0,81.6 340.1,84.0 340.1,83.7 340.2,85.2 340.2,86.2 340.3,84.3 340.3,85.8 340.4,87.9 340.4,86.6 340.5,88.0 340.5,46.4 340.6,48.0 340.6,49.6 340.7,51.2 340.7,52.8 340.8,54.4 340.8,56.0 340.9,57.6 340.9,59.2 341.0,60.8 341.0,62.5 341.1,101.7 341.1,100.7 341.2,101.6 341.2,105.2 341.3,72.6 341.3,74.8 341.4,77.0 341.4,79.1 341.5,81.0 341.5,107.9 341.6,106.9 341.6,107.9 341.7,107.9 341.7,110.0 341.8,109.9 341.8,110.8 341.9,111.3 342.0,111.4 342.0,113.0 342.1,113.7 342.1,113.3 342.2,114.7 342.2,114.5 342.3,114.4 342.3,105.1 342.4,105.9 342.4,106.6 342.5,107.1 342.5,107.2 342.6,107.0 342.6,116.3 342.7,115.0 342.7,115.3 342.8,115.3 342.8,115.6 342.9,116.0 342.9,116.5 343.0,116.4 343.0,116.9 343.1,117.4 343.1,111.5 343.2,112.5 343.2,113.3 343.3,114.2 343.3,115.0 343.4,115.7 343.4,116.4 343.5,117.0 343.5,117.5 343.6,118.1 343.6,118.5 343.7,119.7 343.7,119.8 343.8,120.0 343.8,120.3 343.9,120.5 344.0,120.7 344.0,120.8 344.1,120.9 344.1,120.9 344.2,121.0 344.2,121.1 344.3,121.1 344.3,121.1 344.4,121.2 344.4,121.2 344.5,121.2 344.5,121.2 344.6,121.2 344.6,121.2 344.7,121.2 344.7,121.2 344.8,121.2 344.8,121.2 344.9,121.2 344.9,121.2 345.0,121.2 345.0,121.2 345.1,121.2 345.1,121.2 345.2,121.2 345.2,121.2 345.3,121.2 345.3,121.2 345.4,121.2 345.4,121.2 345.5,121.2 345.5,121.2 345.6,121.2 345.6,121.2 345.7,121.2 345.7,121.2 345.8,121.2 345.8,121.2 345.9,121.2 346.0,121.2 346.0,121.2 346.1,121.2 346.1,121.2 346.2,121.2 346.2,121.2 346.3,121.2 346.3,121.2 346.4,121.2 346.4,121.2 346.5,121.2 346.5,121.2 346.6,121.2 346.6,121.2 346.7,121.2 346.7,121.2 346.8,121.2 346.8,121.2 346.9,121.2 346.9,121.2 347.0,121.2 347.0,121.2 347.1,121.2 347.1,121.2 347.2,121.2 347.2,121.2 347.3,121.2 347.3,121.2 347.4,121.2 347.4,121.2 347.5,121.2 347.5,121.2 347.6,121.2 347.6,121.2 347.7,121.2 347.7,121.2 347.8,121.2 347.8,121.2 347.9,121.2 348.0,121.2 348.0,121.2 348.1,121.2 348.1,121.1 348.2,121.1 348.2,121.0 348.3,121.1 348.3,121.1 348.4,121.1 348.4,120.6 348.5,120.4 348.5,120.2 348.6,120.0 348.6,119.7 348.7,119.4 348.7,119.0 348.8,120.3 348.8,120.1 348.9,119.9 348.9,120.0 349.0,119.7 349.0,119.3 349.1,119.4 349.1,119.0 349.2,118.6 349.2,118.6 349.3,118.0 349.3,117.5 349.4,117.4 349.4,108.7 349.5,107.6 349.5,106.4 349.6,105.2 349.6,103.9 349.7,102.6 349.7,101.3 349.8,108.3 349.8,109.2 349.9,107.5 350.0,100.3 350.0,100.4 350.1,100.8 350.1,101.3 350.2,111.1 350.2,111.6 350.3,111.9 350.3,104.6 350.4,105.7 350.4,106.8 350.5,108.0 350.5,109.3 350.6,115.7 350.6,116.5 350.7,116.8 350.7,117.7 350.8,117.8 350.8,118.5 350.9,118.3 350.9,118.0 351.0,117.4 351.0,117.2 351.1,115.9 351.1,115.1 351.2,113.7 351.2,113.0 351.3,101.1 351.3,98.2 351.4,95.2 351.4,92.3 351.5,98.0 351.5,97.8 351.6,95.7 351.6,95.9 351.7,91.3 351.7,92.7 351.8,86.7 351.8,85.5 351.9,88.0 352.0,81.9 352.0,81.5 352.1,60.5 352.1,58.2 352.2,55.8 352.2,53.5 352.3,51.3 352.3,49.2 352.4,47.3 352.4,45.6 352.5,96.4 352.5,96.9 352.6,95.6 352.6,94.8 352.7,93.9 352.7,93.9 352.8,97.4 352.8,93.3 352.9,36.4 352.9,35.8 353.0,35.3 353.0,34.9 353.1,34.5 353.1,82.1 353.2,86.9 353.2,88.1 353.3,85.1 353.3,87.4 353.4,87.3 353.4,50.7 353.5,33.0 353.5,32.9 353.6,31.3 353.6,28.5 353.7,25.6 353.7,28.5 353.8,31.3 353.8,32.7 353.9,46.0 354.0,50.4 354.0,86.6 354.1,89.6 354.1,32.7 354.2,32.7 354.2,32.8 354.3,33.0 354.3,33.3 354.4,33.7 354.4,34.2 354.5,34.9 354.5,104.9 354.6,105.5 354.6,104.7 354.7,105.7 354.7,107.1 354.8,105.7 354.8,106.4 354.9,46.4 354.9,48.4 355.0,50.4 355.0,52.4 355.1,107.6 355.1,106.7 355.2,107.2 355.2,107.3 355.3,109.7 355.3,108.5 355.4,109.8 355.4,66.4 355.5,68.1 355.5,70.0 355.6,72.0 355.6,89.0 355.7,89.9 355.7,93.8 355.8,95.0 355.9,96.0 355.9,95.8 356.0,100.6 356.0,98.3 356.1,101.4 356.1,102.1 356.2,92.1 356.2,93.6 356.3,95.0 356.3,96.5 356.4,97.9 356.4,99.3 356.5,100.7 356.5,102.1 356.6,110.6 356.6,110.0 356.7,110.4 356.7,111.8 356.8,111.0 356.8,111.7 356.9,112.2 356.9,111.4 357.0,111.3 357.0,110.3 357.1,109.9 357.1,109.8 357.2,102.4 357.2,102.1 357.3,101.9 357.3,101.7 357.4,101.6 357.4,101.6 357.5,101.6 357.5,102.6 357.6,113.5 357.6,112.9 357.7,114.0 357.7,114.2 357.8,115.3 357.9,115.7 357.9,116.5 358.0,116.3 358.0,112.7 358.1,113.6 358.1,114.4 358.2,115.2 358.2,115.9 358.3,116.5 358.3,117.1 358.4,117.7 358.4,120.8 358.5,120.8 358.5,120.9 358.6,120.9 358.6,119.7 358.7,120.0 358.7,120.2 358.8,120.4 358.8,120.6 358.9,121.2 358.9,121.2 359.0,121.2 359.0,121.0 359.1,121.1 359.1,121.1 359.2,121.2 359.2,121.2 359.3,121.2 359.3,121.2 359.4,121.2 359.4,121.2 359.5,121.2 359.5,121.2 359.6,121.2 359.6,121.2 359.7,121.2 359.7,121.2 359.8,121.2 359.9,121.2 359.9,121.2 360.0,121.2 360.0,121.2 360.1,121.2 360.1,121.2 360.2,121.2 360.2,121.2 360.3,121.2 360.3,121.2 360.4,121.2 360.4,121.2 360.5,121.2 360.5,121.2 360.6,121.2 360.6,121.2 360.7,121.2 360.7,121.2 360.8,121.2 360.8,121.2 360.9,121.2 360.9,121.2 361.0,121.2 361.0,121.2 361.1,121.2 361.1,121.2 361.2,121.2 361.2,121.2 361.3,121.2 361.3,121.2 361.4,121.2 361.4,121.2 361.5,121.2 361.5,121.2 361.6,121.2 361.6,121.2 361.7,121.2 361.7,121.2 361.8,121.2 361.9,121.2 361.9,121.2 362.0,121.2 362.0,121.2 362.1,121.2 362.1,121.2 362.2,121.2 362.2,121.2 362.3,121.2 362.3,121.2 362.4,121.2 362.4,121.2 362.5,121.2 362.5,121.2 362.6,121.2 362.6,121.2 362.7,121.2 362.7,121.2 362.8,121.2 362.8,121.2 362.9,121.2 362.9,121.2 363.0,121.0 363.0,120.9 363.1,120.7 363.1,120.6 363.2,120.4 363.2,120.2 363.3,119.9 363.3,120.7 363.4,120.6 363.4,120.6 363.5,120.5 363.5,120.2 363.6,120.2 363.6,120.0 363.7,119.6 363.7,119.7 363.8,119.2 363.9,119.0 363.9,118.9 364.0,112.3 364.0,111.4 364.1,110.3 364.1,109.3 364.2,108.1 364.2,106.9 364.3,114.7 364.3,115.0 364.4,114.5 364.4,103.4 364.5,103.6 364.5,103.7 364.6,104.1 364.6,104.7 364.7,117.8 364.7,118.0 364.8,117.9 364.8,118.4 364.9,118.5 364.9,118.8 365.0,119.0 365.0,119.2 365.1,119.2 365.1,119.2 365.2,119.5 365.2,119.5 365.3,119.4 365.3,119.0 365.4,118.9 365.4,108.6 365.5,106.4 365.5,103.8 365.6,101.0 365.6,98.1 365.7,95.1 365.7,108.6 365.8,109.8 365.9,108.2 365.9,83.6 366.0,80.8 366.0,78.2 366.1,75.6 366.1,73.0 366.2,70.5 366.2,98.9 366.3,95.1 366.3,98.1 366.4,97.7 366.4,92.1 366.5,91.6 366.5,92.3 366.6,52.9 366.6,51.2 366.7,49.5 366.7,48.0 366.8,46.6 366.8,45.2 366.9,43.8 366.9,42.5 367.0,103.2 367.0,101.9 367.1,102.6 367.1,101.3 367.2,102.7 367.2,100.5 367.3,100.2 367.3,97.7 367.4,100.1 367.4,99.2 367.5,100.7 367.5,29.1 367.6,28.5 367.6,28.1 367.7,27.8 367.7,27.5 367.8,63.0 367.9,72.0 367.9,66.5 368.0,64.5 368.0,63.3 368.1,65.9 368.1,71.5 368.2,63.6 368.2,67.9 368.3,27.5 368.3,27.6 368.4,27.6 368.4,24.9 368.5,21.9 368.5,18.8 368.6,24.8 368.6,29.7 368.7,36.8 368.7,41.5 368.8,46.2 368.8,27.5 368.9,27.5 368.9,27.6 369.0,27.6 369.0,27.7 369.1,27.9 369.1,70.4 369.2,69.7 369.2,76.1 369.3,74.2 369.3,70.9 369.4,74.1 369.4,77.3 369.5,76.3 369.5,74.3 369.6,32.6 369.6,33.6 369.7,34.7 369.7,35.8 369.8,37.1 369.9,80.9 369.9,76.6 370.0,81.3 370.0,42.9 370.1,44.5 370.1,46.1 370.2,47.8 370.2,49.5 370.3,51.3 370.3,53.3 370.4,88.0 370.4,89.8 370.5,89.4 370.5,91.9 370.6,90.5 370.6,95.0 370.7,94.9 370.7,72.9 370.8,75.3 370.8,77.5 370.9,79.5 370.9,81.2 371.0,103.3 371.0,106.1 371.1,104.7 371.1,107.2 371.2,86.7 371.2,87.5 371.3,88.3 371.3,89.2 371.4,90.2 371.4,91.2 371.5,92.3 371.5,93.6 371.6,117.6 371.6,118.1 371.7,117.9 371.8,118.0 371.8,118.2 371.9,118.3 371.9,118.6 372.0,118.4 372.0,118.7 372.1,118.5 372.1,118.6 372.2,118.6 372.2,118.6 372.3,118.2 372.3,118.7 372.4,101.7 372.4,103.0 372.5,104.4 372.5,105.7 372.6,106.9 372.6,108.1 372.7,109.3 372.7,110.3 372.8,117.4 372.8,117.8 372.9,117.9 372.9,118.3 373.0,118.7 373.0,119.0 373.1,116.3 373.1,117.0 373.2,117.5 373.2,118.1 373.3,118.5 373.3,118.9 373.4,120.5 373.4,120.7 373.5,120.8 373.5,120.9 373.6,121.0 373.6,121.0 373.7,120.7 373.8,120.9 373.8,121.0 373.9,121.0 373.9,121.1 374.0,121.2 374.0,121.2 374.1,121.2 374.1,121.2 374.2,121.2 374.2,121.2 374.3,121.2 374.3,121.2 374.4,121.2 374.4,121.2 374.5,121.2 374.5,121.2 374.6,121.2 374.6,121.2 374.7,121.2 374.7,121.2 374.8,121.2 374.8,121.2 374.9,121.2 374.9,121.2 375.0,121.2 375.0,121.2 375.1,121.2 375.1,121.2 375.2,121.2 375.2,121.2 375.3,121.2 375.3,121.2 375.4,121.2 375.4,121.2 375.5,121.2 375.5,121.2 375.6,121.2 375.6,121.2 375.7,121.2 375.8,121.2 375.8,121.2 375.9,121.2 375.9,121.2 376.0,121.2 376.0,121.2 376.1,121.2 376.1,121.2 376.2,121.2 376.2,121.2 376.3,121.2 376.3,121.2 376.4,121.2 376.4,121.2 376.5,121.2 376.5,121.2 376.6,121.2 376.6,121.2 376.7,121.2 376.7,121.2 376.8,121.2 376.8,121.2 376.9,121.2 376.9,121.2 377.0,121.2 377.0,121.2 377.1,121.2 377.1,121.2 377.2,121.2 377.2,121.2 377.3,121.1 377.3,121.1 377.4,121.1 377.4,121.0 377.5,121.0 377.5,120.9 377.6,120.8 377.6,120.7 377.7,120.6 377.8,120.4 377.8,120.2 377.9,120.0 377.9,119.8 378.0,119.5 378.0,119.2 378.1,118.9 378.1,118.5 378.2,118.1 378.2,117.6 378.3,117.1 378.3,116.5 378.4,115.9 378.4,115.3 378.5,114.6 378.5,113.8 378.6,113.0 378.6,112.2 378.7,111.3 378.7,110.4 378.8,109.4 378.8,108.4 378.9,107.3 378.9,106.2 379.0,105.1 379.0,103.9 379.1,102.6 379.1,101.4 379.2,100.1 379.2,98.8 379.3,97.4 379.3,96.0 379.4,94.6 379.4,93.2 379.5,91.8 379.5,90.3 379.6,88.9 379.6,87.4 379.7,85.9 379.8,84.4 379.8,83.0 379.9,81.5 379.9,80.0 380.0,78.5 380.0,77.0 380.1,75.5 380.1,74.1 380.2,72.6 380.2,71.2 380.3,69.7 380.3,68.3 380.4,66.8 380.4,65.4 380.5,64.0 380.5,62.6 380.6,61.3 380.6,59.9 380.7,58.5 380.7,57.2 380.8,55.9 380.8,54.6 380.9,53.3 380.9,52.1 381.0,50.8 381.0,49.6 381.1,48.4 381.1,47.2 381.2,46.1 381.2,44.9 381.3,43.8 381.3,42.7 381.4,41.6 381.4,40.6 381.5,39.6 381.5,38.6 381.6,37.6 381.6,36.7 381.7,35.8 381.8,34.9 381.8,34.0 381.9,33.2 381.9,32.4 382.0,31.6 382.0,30.9 382.1,30.2 382.1,29.5 382.2,28.9 382.2,28.2 382.3,27.7 382.3,27.1 382.4,26.6 382.4,26.1 382.5,25.6 382.5,25.2 382.6,24.8 382.6,24.4 382.7,24.1 382.7,23.8 382.8,23.5 382.8,23.3 382.9,23.1 382.9,22.9 383.0,22.8 383.0,22.7 383.1,22.6 383.1,22.6 383.2,22.6 383.2,22.6 383.3,22.7 383.3,22.8 383.4,22.9 383.4,23.1 383.5,23.3 383.5,23.5 383.6,23.8 383.6,24.1 383.7,24.4 383.8,24.8 383.8,25.2 383.9,25.6 383.9,26.1 384.0,26.6 384.0,27.1 384.1,27.7 384.1,28.2 384.2,28.9 384.2,29.5 384.3,30.2 384.3,30.9 384.4,31.6 384.4,32.4 384.5,33.2 384.5,34.0 384.6,34.9 384.6,35.8 384.7,36.7 384.7,37.6 384.8,38.6 384.8,39.6 384.9,40.6 384.9,41.6 385.0,42.7 385.0,43.8 385.1,44.9 385.1,46.1 385.2,47.2 385.2,48.4 385.3,49.6 385.3,50.8 385.4,52.1 385.4,53.3 385.5,54.6 385.5,55.9 385.6,57.2 385.6,58.5 385.7,59.9 385.8,61.3 385.8,62.6 385.9,64.0 385.9,65.4 386.0,66.8 386.0,68.3 386.1,69.7 386.1,71.2 386.2,72.6 386.2,74.1 386.3,75.5 386.3,77.0 386.4,78.5 386.4,80.0 386.5,81.5 386.5,83.0 386.6,84.4 386.6,85.9 386.7,87.4 386.7,88.9 386.8,90.3 386.8,91.8 386.9,93.2 386.9,94.6 387.0,96.0 387.0,97.4 387.1,98.8 387.1,100.1 387.2,101.4 387.2,102.6 387.3,103.9 387.3,105.1 387.4,106.2 387.4,107.3 387.5,108.4 387.5,109.4 387.6,110.4 387.6,111.3 387.7,112.2 387.8,113.0 387.8,113.8 387.9,114.6 387.9,115.3 388.0,115.9 388.0,116.5 388.1,117.1 388.1,117.6 388.2,118.1 388.2,118.5 388.3,118.9 388.3,119.2 388.4,119.5 388.4,119.8 388.5,120.0 388.5,120.2 388.6,120.4 388.6,120.6 388.7,120.7 388.7,120.8 388.8,120.9 388.8,121.0 388.9,121.0 388.9,121.1 389.0,121.1 389.0,121.1 389.1,121.2 389.1,121.2 389.2,121.2 389.2,121.2 389.3,121.2 389.3,121.2 389.4,121.2 389.4,121.2 389.5,121.2 389.5,121.2 389.6,121.2 389.7,121.2 389.7,121.2 389.8,121.2 389.8,121.2 389.9,121.2 389.9,121.2 390.0,121.2 390.0,121.2 390.1,121.2 390.1,121.2 390.2,121.2 390.2,121.2 390.3,121.2 390.3,121.2 390.4,121.2 390.4,121.2 390.5,121.2 390.5,121.2 390.6,121.2 390.6,121.2 390.7,121.2 390.7,121.2 390.8,121.2 390.8,121.2 390.9,121.2 390.9,121.2 391.0,121.2 391.0,121.2 391.1,121.2 391.1,121.2 391.2,121.2 391.2,121.2 391.3,121.2 391.3,121.2 391.4,121.2 391.4,121.2 391.5,121.2 391.5,121.2 391.6,121.2 391.7,121.2 391.7,121.2 391.8,121.2 391.8,121.2 391.9,121.2 391.9,121.2 392.0,121.2 392.0,121.2 392.1,121.1 392.1,121.1 392.2,121.1 392.2,121.0 392.3,120.9 392.3,120.9 392.4,120.8 392.4,120.6 392.5,120.5 392.5,120.3 392.6,120.1 392.6,119.9 392.7,119.7 392.7,119.4 392.8,119.1 392.8,118.7 392.9,118.3 392.9,117.9 393.0,117.4 393.0,116.9 393.1,116.3 393.1,115.7 393.2,115.1 393.2,114.4 393.3,113.6 393.3,112.9 393.4,112.0 393.4,111.2 393.5,110.2 393.5,109.3 393.6,108.3 393.7,107.3 393.7,106.2 393.8,105.1 393.8,103.9 393.9,102.7 393.9,101.5 394.0,100.3 394.0,99.0 394.1,97.7 394.1,96.4 394.2,95.1 394.2,93.8 394.3,92.4 394.3,91.0 394.4,89.7 394.4,88.3 394.5,86.9 394.5,85.5 394.6,84.1 394.6,82.7 394.7,81.3 394.7,79.9 394.8,78.5 394.8,77.1 394.9,75.7 394.9,74.4 395.0,73.0 395.0,71.7 395.1,70.3 395.1,69.0 395.2,67.7 395.2,66.3 395.3,65.0 395.3,63.8 395.4,62.5 395.4,61.2 395.5,60.0 395.5,58.7 395.6,57.5 395.7,56.3 395.7,55.2 395.8,54.0 395.8,52.9 395.9,51.7 395.9,50.6 396.0,49.6 396.0,48.5 396.1,47.5 396.1,46.4 396.2,45.5 396.2,44.5 396.3,43.5 396.3,42.6 396.4,41.7 396.4,40.8 396.5,40.0 396.5,39.2 396.6,38.4 396.6,37.6 396.7,36.9 396.7,36.1 396.8,35.4 396.8,34.8 396.9,34.2 396.9,33.5 397.0,33.0 397.0,32.4 397.1,31.9 397.1,31.4 397.2,30.9 397.2,30.5 397.3,30.1 397.3,29.7 397.4,29.4 397.4,29.1 397.5,28.8 397.5,28.6 397.6,28.3 397.7,28.2 397.7,28.0 397.8,27.9 397.8,27.8 397.9,27.7 397.9,27.7 398.0,27.7 398.0,27.7 398.1,27.8 398.1,27.9 398.2,28.0 398.2,28.2 398.3,28.3 398.3,28.6 398.4,28.8 398.4,29.1 398.5,29.4 398.5,29.7 398.6,30.1 398.6,30.5 398.7,30.9 398.7,31.4 398.8,31.9 398.8,32.4 398.9,33.0 398.9,33.5 399.0,34.2 399.0,34.8 399.1,35.4 399.1,36.1 399.2,36.9 399.2,37.6 399.3,38.4 399.3,39.2 399.4,40.0 399.4,40.8 399.5,41.7 399.5,42.6 399.6,43.5 399.7,44.5 399.7,45.5 399.8,46.4 399.8,47.5 399.9,48.5 399.9,49.6 400.0,50.6 400.0,51.7 400.1,52.9 400.1,54.0 400.2,55.2 400.2,56.3 400.3,57.5 400.3,58.7 400.4,60.0 400.4,61.2 400.5,62.5 400.5,63.8 400.6,65.0 400.6,66.3 400.7,67.7 400.7,69.0 400.8,70.3 400.8,71.7 400.9,73.0 400.9,74.4 401.0,75.7 401.0,77.1 401.1,78.5 401.1,79.9 401.2,81.3 401.2,82.7 401.3,84.1 401.3,85.5 401.4,86.9 401.4,88.3 401.5,89.7 401.5,91.0 401.6,92.4 401.7,93.8 401.7,95.1 401.8,96.4 401.8,97.7 401.9,99.0 401.9,100.3 402.0,101.5 402.0,102.7 402.1,103.9 402.1,105.1 402.2,106.2 402.2,107.3 402.3,108.3 402.3,109.3 402.4,110.2 402.4,111.2 402.5,112.0 402.5,112.9 402.6,113.6 402.6,114.4 402.7,115.1 402.7,115.7 402.8,116.3 402.8,116.9 402.9,117.4 402.9,117.9 403.0,118.3 403.0,118.7 403.1,119.1 403.1,119.4 403.2,119.7 403.2,119.9 403.3,120.1 403.3,120.3 403.4,120.5 403.4,120.6 403.5,120.8 403.5,120.9 403.6,120.9 403.7,121.0 403.7,121.1 403.8,121.1 403.8,121.1 403.9,121.2 403.9,121.2 404.0,121.2 404.0,121.2 404.1,121.2 404.1,121.2 404.2,121.2 404.2,121.2 404.3,121.2 404.3,121.2 404.4,121.2 404.4,121.2 404.5,121.2 404.5,121.2 404.6,121.2 404.6,121.2 404.7,121.2 404.7,121.2 404.8,121.2 404.8,121.2 404.9,121.2 404.9,121.2 405.0,121.2 405.0,121.2 405.1,121.2 405.1,121.2 405.2,121.2 405.2,121.2 405.3,121.2 405.3,121.2 405.4,121.2 405.4,121.2 405.5,121.2 405.6,121.2 405.6,121.2 405.7,121.2 405.7,121.2 405.8,121.2 405.8,121.2 405.9,121.2 405.9,121.2 406.0,121.2 406.0,121.2 406.1,121.2 406.1,121.2 406.2,121.2 406.2,121.2 406.3,121.2 406.3,121.2 406.4,121.2 406.4,121.2 406.5,121.2 406.5,121.2 406.6,121.2 406.6,121.2 406.7,121.2 406.7,121.2 406.8,121.1 406.8,121.1 406.9,121.1 406.9,121.0 407.0,120.9 407.0,120.9 407.1,120.8 407.1,120.6 407.2,120.5 407.2,120.3 407.3,120.2 407.3,119.9 407.4,119.7 407.4,119.4 407.5,119.1 407.6,118.7 407.6,118.3 407.7,117.9 407.7,117.5 407.8,116.9 407.8,116.4 407.9,115.8 407.9,115.1 408.0,114.5 408.0,113.7 408.1,113.0 408.1,112.1 408.2,111.3 408.2,110.4 408.3,109.4 408.3,108.4 408.4,107.4 408.4,106.3 408.5,105.2 408.5,104.1 408.6,102.9 408.6,101.7 408.7,100.5 408.7,99.2 408.8,97.9 408.8,96.6 408.9,95.3 408.9,93.9 409.0,92.6 409.0,91.2 409.1,89.8 409.1,88.4 409.2,87.0 409.2,85.6 409.3,84.2 409.3,82.8 409.4,81.5 409.4,80.1 409.5,78.7 409.6,77.3 409.6,75.9 409.7,74.5 409.7,73.1 409.8,71.8 409.8,70.4 409.9,69.1 409.9,67.8 410.0,66.4 410.0,65.1 410.1,63.8 410.1,62.6 410.2,61.3 410.2,60.0 410.3,58.8 410.3,57.6 410.4,56.4 410.4,55.2 410.5,54.0 410.5,52.9 410.6,51.7 410.6,50.6 410.7,49.5 410.7,48.4 410.8,47.4 410.8,46.4 410.9,45.4 410.9,44.4 411.0,43.4 411.0,42.5 411.1,41.5 411.1,40.7 411.2,39.8 411.2,38.9 411.3,38.1 411.3,37.3 411.4,36.6 411.4,35.8 411.5,35.1 411.6,34.4 411.6,33.8 411.7,33.1 411.7,32.5 411.8,32.0 411.8,31.4 411.9,30.9 411.9,30.4 412.0,30.0 412.0,29.5 412.1,29.1 412.1,28.8 412.2,28.4 412.2,28.1 412.3,27.9 412.3,27.6 412.4,27.4 412.4,27.2 412.5,27.1 412.5,26.9 412.6,26.8 412.6,26.8 412.7,26.7 412.7,26.7 412.8,26.8 412.8,26.8 412.9,26.9 412.9,27.1 413.0,27.2 413.0,27.4 413.1,27.6 413.1,27.9 413.2,28.1 413.2,28.4 413.3,28.8 413.3,29.1 413.4,29.5 413.4,30.0 413.5,30.4 413.6,30.9 413.6,31.4 413.7,32.0 413.7,32.5 413.8,33.1 413.8,33.8 413.9,34.4 413.9,35.1 414.0,35.8 414.0,36.6 414.1,37.3 414.1,38.1 414.2,38.9 414.2,39.8 414.3,40.7 414.3,41.5 414.4,42.5 414.4,43.4 414.5,44.4 414.5,45.4 414.6,46.4 414.6,47.4 414.7,48.4 414.7,49.5 414.8,50.6 414.8,51.7 414.9,52.9 414.9,54.0 415.0,55.2 415.0,56.4 415.1,57.6 415.1,58.8 415.2,60.0 415.2,61.3 415.3,62.6 415.3,63.8 415.4,65.1 415.4,66.4 415.5,67.8 415.6,69.1 415.6,70.4 415.7,71.8 415.7,73.1 415.8,74.5 415.8,75.9 415.9,77.3 415.9,78.7 416.0,80.1 416.0,81.5 416.1,82.8 416.1,84.2 416.2,85.6 416.2,87.0 416.3,88.4 416.3,89.8 416.4,91.2 416.4,92.6 416.5,93.9 416.5,95.3 416.6,96.6 416.6,97.9 416.7,99.2 416.7,100.5 416.8,101.7 416.8,102.9 416.9,104.1 416.9,105.2 417.0,106.3 417.0,107.4 417.1,108.4 417.1,109.4 417.2,110.4 417.2,111.3 417.3,112.1 417.3,113.0 417.4,113.7 417.4,114.5 417.5,115.1 417.6,115.8 417.6,116.4 417.7,116.9 417.7,117.5 417.8,117.9 417.8,118.3 417.9,118.7 417.9,119.1 418.0,119.4 418.0,119.7 418.1,119.9 418.1,120.2 418.2,120.3 418.2,120.5 418.3,120.6 418.3,120.8 418.4,120.9 418.4,120.9 418.5,121.0 418.5,121.1 418.6,121.1 418.6,121.1 418.7,121.2 418.7,121.2 418.8,121.2 418.8,121.2 418.9,121.2 418.9,121.2 419.0,121.2 419.0,121.2 419.1,121.2 419.1,121.2 419.2,121.2 419.2,121.2 419.3,121.2 419.3,121.2 419.4,121.2 419.4,121.2 419.5,121.2 419.6,121.2 419.6,121.2 419.7,121.2 419.7,121.2 419.8,121.2 419.8,121.2 419.9,121.2 419.9,121.2 420.0,121.2 420.0,121.2 420.1,121.2 420.1,121.2 420.2,121.2 420.2,121.2 420.3,121.2 420.3,121.2 420.4,121.2 420.4,121.2 420.5,121.2 420.5,121.2 420.6,121.2 420.6,121.2 420.7,121.2 420.7,121.2 420.8,121.2 420.8,121.2 420.9,121.2 420.9,121.2 421.0,121.2 421.0,121.2 421.1,121.2 421.1,121.2 421.2,121.2 421.2,121.2 421.3,121.2 421.3,121.2 421.4,121.2 421.5,121.2 421.5,121.2 421.6,121.2 421.6,121.2 421.7,121.2 421.7,121.1 421.8,121.1 421.8,121.1 421.9,121.0 421.9,120.9 422.0,121.1 422.0,121.0 422.1,121.0 422.1,120.9 422.2,120.8 422.2,120.8 422.3,120.7 422.3,120.6 422.4,120.5 422.4,120.3 422.5,120.2 422.5,117.5 422.6,116.9 422.6,116.3 422.7,115.6 422.7,114.9 422.8,114.1 422.8,113.3 422.9,112.4 422.9,111.4 423.0,110.5 423.0,109.4 423.1,108.3 423.1,114.7 423.2,113.5 423.2,113.6 423.3,113.2 423.3,102.1 423.4,100.8 423.5,99.6 423.5,99.8 423.6,100.2 423.6,100.5 423.7,100.9 423.7,101.2 423.8,101.3 423.8,106.1 423.9,106.0 423.9,106.3 424.0,104.4 424.0,105.3 424.1,97.2 424.1,96.0 424.2,94.8 424.2,93.6 424.3,92.4 424.3,91.2 424.4,100.2 424.4,98.1 424.5,97.9 424.5,96.5 424.6,97.7 424.6,97.1 424.7,92.8 424.7,93.3 424.8,90.1 424.8,88.5 424.9,90.2 424.9,88.2 425.0,72.9 425.0,70.7 425.1,68.5 425.1,66.1 425.2,63.8 425.2,79.1 425.3,81.2 425.3,80.8 425.4,77.7 425.5,74.8 425.5,71.8 425.6,70.7 425.6,77.1 425.7,74.9 425.7,72.2 425.8,43.8 425.8,42.4 425.9,41.2 425.9,40.0 426.0,38.9 426.0,37.8 426.1,36.8 426.1,35.9 426.2,35.0 426.2,34.3 426.3,77.8 426.3,76.9 426.4,78.2 426.4,78.9 426.5,75.5 426.5,80.1 426.6,80.1 426.6,73.6 426.7,78.5 426.7,78.7 426.8,29.6 426.8,29.5 426.9,29.3 426.9,29.2 427.0,83.4 427.0,80.0 427.1,80.2 427.1,47.4 427.2,41.8 427.2,38.1 427.3,33.0 427.3,27.3 427.4,21.4 427.5,27.3 427.5,32.1 427.6,37.8 427.6,42.4 427.7,47.0 427.7,28.3 427.8,28.3 427.8,28.3 427.9,28.4 427.9,28.5 428.0,28.6 428.0,84.2 428.1,86.7 428.1,88.0 428.2,89.4 428.2,86.8 428.3,83.5 428.3,31.2 428.4,31.8 428.4,32.5 428.5,33.2 428.5,33.9 428.6,34.7 428.6,35.6 428.7,36.4 428.7,37.3 428.8,38.3 428.8,69.0 428.9,74.4 428.9,72.8 429.0,69.0 429.0,75.1 429.1,75.1 429.1,76.3 429.2,78.0 429.2,73.6 429.3,73.6 429.3,78.0 429.4,82.1 429.5,83.5 429.5,60.7 429.6,63.1 429.6,65.6 429.7,68.0 429.7,102.0 429.8,105.3 429.8,105.9 429.9,106.2 429.9,106.8 430.0,82.6 430.0,84.9 430.1,87.0 430.1,89.1 430.2,91.0 430.2,92.7 430.3,94.2 430.3,95.5 430.4,96.6 430.4,97.3 430.5,105.7 430.5,106.4 430.6,104.1 430.6,104.2 430.7,103.6 430.7,105.0 430.8,104.0 430.8,102.4 430.9,105.2 430.9,102.2 431.0,102.1 431.0,103.3 431.1,102.3 431.1,102.7 431.2,105.3 431.2,97.5 431.3,98.7 431.3,100.2 431.4,101.7 431.5,103.4 431.5,105.1 431.6,106.8 431.6,108.4 431.7,109.9 431.7,111.3 431.8,112.6 431.8,119.5 431.9,119.5 431.9,119.8 432.0,119.9 432.0,119.9 432.1,119.9 432.1,119.9 432.2,119.7 432.2,119.6 432.3,119.9 432.3,120.0 432.4,120.2 432.4,120.2 432.5,120.4 432.5,118.5 432.6,118.9 432.6,119.2 432.7,119.6 432.7,119.9 432.8,120.1 432.8,120.3 432.9,120.5 432.9,120.7 433.0,120.8 433.0,120.9 433.1,121.0 433.1,121.2 433.2,121.2 433.2,121.2 433.3,121.2 433.3,121.2 433.4,121.2 433.5,121.2 433.5,121.2 433.6,121.2 433.6,121.2 433.7,121.2 433.7,121.2 433.8,121.2 433.8,121.2 433.9,121.2 433.9,121.2 434.0,121.2 434.0,121.2 434.1,121.2 434.1,121.2 434.2,121.2 434.2,121.2 434.3,121.2 434.3,121.2 434.4,121.2 434.4,121.2 434.5,121.2 434.5,121.2 434.6,121.2 434.6,121.2 434.7,121.2 434.7,121.2 434.8,121.2 434.8,121.2 434.9,121.2 434.9,121.2 435.0,121.2 435.0,121.2 435.1,121.2 435.1,121.2 435.2,121.2 435.2,121.2 435.3,121.2 435.3,121.2 435.4,121.2 435.5,121.2 435.5,121.2 435.6,121.2 435.6,121.2 435.7,121.2 435.7,121.2 435.8,121.2 435.8,121.2 435.9,121.2 435.9,121.2 436.0,121.2 436.0,121.2 436.1,121.2 436.1,121.2 436.2,121.2 436.2,121.2 436.3,121.2 436.3,121.2 436.4,121.2 436.4,121.1 436.5,121.1 436.5,121.1 436.6,121.0 436.6,120.9 436.7,120.8 436.7,120.7 436.8,120.5 436.8,120.4 436.9,120.4 436.9,120.1 437.0,120.0 437.0,119.6 437.1,119.5 437.1,118.9 437.2,118.8 437.2,118.1 437.3,118.0 437.3,117.5 437.4,117.2 437.5,115.0 437.5,114.2 437.6,113.4 437.6,112.5 437.7,111.6 437.7,110.6 437.8,109.5 437.8,108.5 437.9,107.3 437.9,106.1 438.0,106.3 438.0,106.8 438.1,107.6 438.1,108.4 438.2,109.1 438.2,109.7 438.3,110.2 438.3,110.5 438.4,112.1 438.4,112.3 438.5,111.1 438.5,110.7 438.6,108.9 438.6,108.8 438.7,108.5 438.7,103.3 438.8,102.1 438.8,100.9 438.9,99.8 438.9,98.7 439.0,97.6 439.0,96.4 439.1,95.2 439.1,93.8 439.2,92.3 439.2,90.5 439.3,88.4 439.4,86.0 439.4,83.5 439.5,80.8 439.5,78.0 439.6,75.0 439.6,72.0 439.7,69.1 439.7,66.2 439.8,87.9 439.8,88.0 439.9,89.0 439.9,89.8 440.0,55.1 440.0,53.8 440.1,52.7 440.1,51.7 440.2,50.8 440.2,50.0 440.3,49.3 440.3,48.5 440.4,47.8 440.4,47.0 440.5,46.1 440.5,45.2 440.6,44.3 440.6,43.2 440.7,42.1 440.7,41.0 440.8,39.9 440.8,38.7 440.9,37.6 440.9,36.5 441.0,35.6 441.0,34.7 441.1,33.8 441.1,67.4 441.2,66.2 441.2,62.8 441.3,68.7 441.4,70.8 441.4,69.7 441.5,59.5 441.5,29.8 441.6,29.6 441.6,29.4 441.7,29.3 441.7,29.2 441.8,29.2 441.8,29.3 441.9,29.4 441.9,29.5 442.0,29.6 442.0,29.7 442.1,29.8 442.1,29.8 442.2,29.9 442.2,26.7 442.3,23.7 442.3,20.7 442.4,23.7 442.4,26.7 442.5,30.0 442.5,29.9 442.6,48.1 442.6,72.7 442.7,74.0 442.7,74.3 442.8,78.9 442.8,73.5 442.9,73.0 442.9,71.0 443.0,71.0 443.0,29.4 443.1,29.6 443.1,29.8 443.2,30.0 443.2,30.3 443.3,30.7 443.4,31.1 443.4,31.6 443.5,43.1 443.5,48.8 443.6,44.5 443.6,44.7 443.7,57.1 443.7,53.2 443.8,52.8 443.8,52.4 443.9,48.9 443.9,61.7 444.0,55.3 444.0,57.7 444.1,63.2 444.1,57.3 444.2,47.0 444.2,48.3 444.3,49.7 444.3,51.2 444.4,52.9 444.4,54.6 444.5,56.3 444.5,58.1 444.6,60.0 444.6,61.9 444.7,64.0 444.7,66.1 444.8,68.3 444.8,70.5 444.9,72.7 444.9,74.8 445.0,76.9 445.0,78.9 445.1,80.7 445.1,82.4 445.2,84.0 445.2,94.8 445.3,93.6 445.4,92.0 445.4,88.8 445.5,90.1 445.5,91.4 445.6,92.8 445.6,94.4 445.7,96.1 445.7,97.9 445.8,99.6 445.8,101.2 445.9,102.7 445.9,104.0 446.0,105.1 446.0,105.9 446.1,106.4 446.1,106.4 446.2,106.0 446.2,105.3 446.3,104.4 446.3,103.4 446.4,109.8 446.4,108.5 446.5,110.4 446.5,104.9 446.6,106.1 446.6,107.3 446.7,108.5 446.7,109.5 446.8,110.6 446.8,111.6 446.9,112.5 446.9,113.4 447.0,114.2 447.0,115.0 447.1,115.7 447.1,116.4 447.2,117.0 447.2,117.5 447.3,118.0 447.4,118.5 447.4,118.9 447.5,119.3 447.5,119.6 447.6,119.9 447.6,120.6 447.7,120.6 447.7,120.8 447.8,120.9 447.8,120.9 447.9,121.0 447.9,121.1 448.0,121.1 448.0,121.1 448.1,121.2 448.1,121.2 448.2,121.2 448.2,121.2 448.3,121.2 448.3,121.2 448.4,121.2 448.4,121.2 448.5,121.2 448.5,121.2 448.6,121.2 448.6,121.2 448.7,121.2 448.7,121.2 448.8,121.2 448.8,121.2 448.9,121.2 448.9,121.2 449.0,121.2 449.0,121.2 449.1,121.2 449.1,121.2 449.2,121.2 449.2,121.2 449.3,121.2 449.4,121.2 449.4,121.2 449.5,121.2 449.5,121.2 449.6,121.2 449.6,121.2 449.7,121.2 449.7,121.2 449.8,121.2 449.8,121.2 449.9,121.2 449.9,121.2 450.0,121.2 450.0,121.2 450.1,121.2 450.1,121.2 450.2,121.2 450.2,121.2 450.3,121.2 450.3,121.2 450.4,121.2 450.4,121.2 450.5,121.2 450.5,121.2 450.6,121.2 450.6,121.2 450.7,121.2 450.7,121.2 450.8,121.2 450.8,121.2 450.9,121.2 450.9,121.2 451.0,121.2 451.0,121.2 451.1,121.2 451.1,121.2 451.2,121.2 451.2,121.1 451.3,121.1 451.4,121.1 451.4,121.0 451.5,120.9 451.5,120.9 451.6,120.8 451.6,120.2 451.7,120.0 451.7,119.7 451.8,119.4 451.8,119.1 451.9,118.7 451.9,118.3 452.0,117.8 452.0,117.3 452.1,116.7 452.1,116.1 452.2,119.2 452.2,119.2 452.3,119.0 452.3,118.2 452.4,117.9 452.4,118.1 452.5,118.3 452.5,118.7 452.6,119.2 452.6,119.6 452.7,119.7 452.7,116.4 452.8,115.9 452.8,115.0 452.9,113.6 452.9,112.0 453.0,110.3 453.0,108.5 453.1,106.7 453.1,105.0 453.2,103.4 453.2,112.2 453.3,111.9 453.4,110.3 453.4,109.5 453.5,110.5 453.5,109.2 453.6,110.8 453.6,110.4 453.7,109.1 453.7,110.3 453.8,109.1 453.8,108.7 453.9,109.4 453.9,106.7 454.0,92.7 454.0,91.4 454.1,90.1 454.1,89.0 454.2,88.2 454.2,87.7 454.3,87.8 454.3,88.3 454.4,89.3 454.4,90.5 454.5,92.1 454.5,93.8 454.6,112.8 454.6,114.0 454.7,113.9 454.7,114.7 454.8,115.1 454.8,115.4 454.9,116.2 454.9,115.8 455.0,116.4 455.0,116.7 455.1,116.6 455.1,116.1 455.2,116.4 455.3,106.3 455.3,105.7 455.4,104.9 455.4,103.8 455.5,102.3 455.5,100.2 455.6,97.5 455.6,94.2 455.7,90.4 455.7,86.1 455.8,96.9 455.8,92.4 455.9,91.6 455.9,88.7 456.0,89.8 456.0,86.4 456.1,79.1 456.1,81.6 456.2,77.3 456.2,74.4 456.3,73.8 456.3,71.0 456.4,71.2 456.4,73.7 456.5,70.3 456.5,35.6 456.6,35.0 456.6,34.5 456.7,34.2 456.7,51.4 456.8,46.1 456.8,42.6 456.9,36.7 456.9,31.3 457.0,25.6 457.0,31.3 457.1,35.8 457.1,42.8 457.2,47.3 457.3,51.8 457.3,59.3 457.4,61.9 457.4,36.1 457.5,37.1 457.5,38.2 457.6,39.7 457.6,41.5 457.7,43.6 457.7,46.0 457.8,48.7 457.8,51.7 457.9,55.0 457.9,97.9 458.0,96.2 458.0,99.5 458.1,101.8 458.1,102.4 458.2,102.2 458.2,104.2 458.3,106.8 458.3,106.9 458.4,109.0 458.4,110.6 458.5,112.1 458.5,112.0 458.6,113.5 458.6,102.7 458.7,104.0 458.7,105.0 458.8,105.7 458.8,106.2 458.9,106.5 458.9,106.7 459.0,106.7 459.0,106.4 459.1,106.1 459.1,105.6 459.2,105.0 459.3,110.7 459.3,111.6 459.4,110.8 459.4,109.8 459.5,109.0 459.5,109.1 459.6,109.9 459.6,109.6 459.7,109.4 459.7,108.4 459.8,110.4 459.8,109.2 459.9,110.9 459.9,109.6 460.0,103.7 460.0,104.1 460.1,104.5 460.1,104.9 460.2,105.3 460.2,105.5 460.3,105.7 460.3,105.7 460.4,113.1 460.4,112.5 460.5,113.1 460.5,112.2 460.6,112.0 460.6,112.6 460.7,113.9 460.7,114.0 460.8,113.2 460.8,114.1 460.9,108.2 460.9,108.6 461.0,109.1 461.0,109.4 461.1,117.7 461.1,117.8 461.2,118.0 461.3,109.4 461.3,109.0 461.4,108.5 461.4,107.8 461.5,108.2 461.5,109.3 461.6,110.3 461.6,111.3 461.7,115.7 461.7,115.8 461.8,115.8 461.8,117.1 461.9,117.3 461.9,117.7 462.0,117.9 462.0,118.3 462.1,118.8 462.1,118.3 462.2,118.7 462.2,119.1 462.3,119.4 462.3,120.7 462.4,120.7 462.4,120.8 462.5,120.4 462.5,120.6 462.6,120.7 462.6,120.9 462.7,121.0 462.7,121.0 462.8,121.1 462.8,121.1 462.9,121.2 462.9,121.2 463.0,121.2 463.0,121.2 463.1,121.2 463.1,121.2 463.2,121.2 463.3,121.2 463.3,121.2 463.4,121.2 463.4,121.2 463.5,121.2 463.5,121.2 463.6,121.2 463.6,121.2 463.7,121.2 463.7,121.2 463.8,121.2 463.8,121.2 463.9,121.2 463.9,121.2 464.0,121.2 464.0,121.2 464.1,121.2 464.1,121.2 464.2,121.2 464.2,121.2 464.3,121.2 464.3,121.2 464.4,121.2 464.4,121.2 464.5,121.2 464.5,121.2 464.6,121.2 464.6,121.2 464.7,121.2 464.7,121.2 464.8,121.2 464.8,121.2 464.9,121.2 464.9,121.2 465.0,121.2 465.0,121.2 465.1,121.2 465.1,121.2 465.2,121.2 465.3,121.2 465.3,121.2 465.4,121.2 465.4,121.2 465.5,121.2 465.5,121.2 465.6,121.2 465.6,121.2 465.7,121.2 465.7,121.2 465.8,121.2 465.8,121.2 465.9,121.2 465.9,121.2 466.0,121.2 466.0,121.2 466.1,121.2 466.1,121.2 466.2,121.2 466.2,121.2 466.3,121.2 466.3,121.2 466.4,121.2 466.4,121.2 466.5,121.2 466.5,121.2 466.6,121.2 466.6,121.2 466.7,121.2 466.7,121.2 466.8,121.2 466.8,121.2 466.9,121.2 466.9,121.2 467.0,121.2 467.0,121.2 467.1,121.2 467.1,121.2 467.2,121.2 467.3,121.2 467.3,121.2 467.4,121.1 467.4,121.1 467.5,121.1 467.5,121.0 467.6,121.0 467.6,121.0 467.7,119.9 467.7,119.6 467.8,119.3 467.8,118.9 467.9,118.5 467.9,119.4 468.0,119.2 468.0,118.8 468.1,118.6 468.1,118.5 468.2,114.9 468.2,114.2 468.3,113.4 468.3,112.5 468.4,111.7 468.4,120.1 468.5,119.9 468.5,119.8 468.6,108.1 468.6,107.2 468.7,106.3 468.7,105.5 468.8,112.7 468.8,112.5 468.9,112.0 468.9,112.1 469.0,110.3 469.0,109.6 469.1,110.6 469.1,110.6 469.2,109.4 469.3,109.7 469.3,96.8 469.4,95.9 469.4,94.9 469.5,93.9 469.5,105.5 469.6,104.3 469.6,103.2 469.7,103.1 469.7,102.1 469.8,100.9 469.8,102.6 469.9,103.1 469.9,102.6 470.0,101.0 470.0,99.6 470.1,98.5 470.1,100.9 470.2,98.8 470.2,79.7 470.3,78.8 470.3,77.9 470.4,77.1 470.4,104.0 470.5,105.4 470.5,104.0 470.6,103.9 470.6,103.5 470.7,104.9 470.7,103.5 470.8,104.9 470.8,103.4 470.9,104.5 470.9,101.0 471.0,103.1 471.0,103.3 471.1,100.6 471.2,102.2 471.2,66.8 471.3,66.4 471.3,66.0 471.4,65.7 471.4,111.1 471.5,111.4 471.5,76.1 471.6,64.7 471.6,64.5 471.7,64.4 471.7,64.3 471.8,64.3 471.8,66.0 471.9,67.2 471.9,70.1 472.0,73.1 472.0,64.8 472.1,65.0 472.1,65.2 472.2,65.5 472.2,87.5 472.3,85.3 472.3,82.0 472.4,85.0 472.4,84.3 472.5,86.5 472.5,87.0 472.6,87.5 472.6,70.1 472.7,70.7 472.7,71.3 472.8,71.9 472.8,72.5 472.9,87.4 472.9,90.2 473.0,86.6 473.0,89.1 473.1,92.2 473.2,76.0 473.2,76.7 473.3,77.5 473.3,78.4 473.4,95.3 473.4,98.3 473.5,97.6 473.5,98.9 473.6,100.0 473.6,85.7 473.7,87.1 473.7,88.5 473.8,89.9 473.8,109.9 473.9,110.7 473.9,110.8 474.0,111.4 474.0,110.8 474.1,111.0 474.1,111.6 474.2,111.7 474.2,112.0 474.3,112.5 474.3,100.1 474.4,100.8 474.4,101.5 474.5,102.2 474.5,103.0 474.6,116.2 474.6,116.0 474.7,116.5 474.7,116.3 474.8,116.5 474.8,117.1 474.9,117.1 474.9,109.3 475.0,110.1 475.0,110.9 475.1,111.6 475.2,117.9 475.2,118.2 475.3,118.0 475.3,118.7 475.4,118.9 475.4,115.4 475.5,115.9 475.5,116.3 475.6,116.7 475.6,117.1 475.7,118.9 475.7,119.1 475.8,119.4 475.8,119.7 475.9,119.7 475.9,120.1 476.0,120.1 476.0,120.5 476.1,120.6 476.1,120.7 476.2,120.9 476.2,121.0 476.3,121.1 476.3,121.2 476.4,121.2 476.4,121.2 476.5,121.2 476.5,121.2 476.6,121.2 476.6,121.2 476.7,121.2 476.7,121.2 476.8,121.2 476.8,121.2 476.9,121.2 476.9,121.2 477.0,121.2 477.0,121.2 477.1,121.2 477.2,121.2 477.2,121.2 477.3,121.2 477.3,121.2 477.4,121.2 477.4,121.2 477.5,121.2 477.5,121.2 477.6,121.2 477.6,121.2 477.7,121.2 477.7,121.2 477.8,121.2 477.8,121.2 477.9,121.2 477.9,121.2 478.0,121.2 478.0,121.2 478.1,121.2 478.1,121.2 478.2,121.2 478.2,121.2 478.3,121.2 478.3,121.2 478.4,121.2 478.4,121.2 478.5,121.2 478.5,121.2 478.6,121.2 478.6,121.2 478.7,121.2 478.7,121.2 478.8,121.2 478.8,121.2 478.9,121.2 478.9,121.2 479.0,121.2 479.0,121.2 479.1,121.2 479.2,121.2 479.2,121.2 479.3,121.2 479.3,121.2 479.4,121.2 479.4,121.2 479.5,121.2 479.5,121.2 479.6,121.2 479.6,121.2 479.7,121.2 479.7,121.2 479.8,121.2 479.8,121.2 479.9,121.2 479.9,121.2 480.0,121.2 480.0,121.2 480.1,121.2 480.1,121.2 480.2,121.2 480.2,121.2 480.3,121.2 480.3,121.2 480.4,121.2 480.4,121.2 480.5,121.2 480.5,121.2 480.6,121.2 480.6,121.1 480.7,121.1 480.7,121.0 480.8,121.0 480.8,120.9 480.9,120.9 480.9,120.7 481.0,120.6 481.0,120.4 481.1,120.2 481.2,120.0 481.2,119.8 481.3,119.7 481.3,119.4 481.4,118.4 481.4,118.0 481.5,117.5 481.5,116.9 481.6,116.3 481.6,115.7 481.7,115.0 481.7,114.2 481.8,113.4 481.8,112.6 481.9,111.7 481.9,110.7 482.0,109.7 482.0,108.7 482.1,107.6 482.1,106.5 482.2,107.8 482.2,106.7 482.3,106.8 482.3,105.7 482.4,106.2 482.4,103.2 482.5,104.2 482.5,102.8 482.6,103.7 482.6,102.2 482.7,98.0 482.7,97.9 482.8,97.8 482.8,97.7 482.9,97.7 482.9,97.7 483.0,97.7 483.0,97.6 483.1,97.4 483.2,97.0 483.2,96.6 483.3,96.0 483.3,95.4 483.4,94.7 483.4,93.9 483.5,106.2 483.5,106.8 483.6,106.2 483.6,106.3 483.7,104.9 483.7,103.0 483.8,103.9 483.8,104.0 483.9,85.6 483.9,84.5 484.0,83.4 484.0,82.1 484.1,80.8 484.1,79.4 484.2,91.5 484.2,90.0 484.3,87.6 484.3,86.6 484.4,90.2 484.4,70.6 484.5,69.0 484.5,67.3 484.6,65.6 484.6,63.9 484.7,62.1 484.7,60.3 484.8,58.5 484.8,56.6 484.9,54.8 484.9,53.0 485.0,51.3 485.0,49.6 485.1,69.2 485.2,67.3 485.2,62.0 485.3,70.5 485.3,60.6 485.4,61.5 485.4,39.9 485.5,38.9 485.5,38.0 485.6,37.2 485.6,36.5 485.7,35.8 485.7,35.3 485.8,34.8 485.8,34.4 485.9,34.1 485.9,33.8 486.0,33.6 486.0,33.4 486.1,33.3 486.1,33.3 486.2,33.2 486.2,33.2 486.3,33.3 486.3,33.3 486.4,33.3 486.4,31.3 486.5,28.5 486.5,25.6 486.6,31.3 486.6,35.8 486.7,42.2 486.7,46.6 486.8,50.9 486.8,60.1 486.9,54.5 486.9,65.4 487.0,54.7 487.0,33.6 487.1,33.7 487.2,33.9 487.2,34.1 487.3,34.4 487.3,34.8 487.4,35.2 487.4,35.6 487.5,36.1 487.5,36.7 487.6,37.3 487.6,37.9 487.7,38.6 487.7,39.3 487.8,40.1 487.8,55.4 487.9,61.6 487.9,59.5 488.0,59.5 488.0,55.0 488.1,59.4 488.1,63.1 488.2,61.9 488.2,63.0 488.3,51.3 488.3,53.0 488.4,54.8 488.4,56.6 488.5,58.6 488.5,60.5 488.6,62.5 488.6,64.6 488.7,66.7 488.7,68.8 488.8,70.9 488.8,72.9 488.9,74.8 488.9,76.7 489.0,92.9 489.1,94.4 489.1,94.2 489.2,96.9 489.2,97.2 489.3,98.2 489.3,97.5 489.4,99.0 489.4,90.8 489.5,92.1 489.5,93.3 489.6,94.4 489.6,95.4 489.7,96.2 489.7,97.0 489.8,108.6 489.8,109.0 489.9,109.2 489.9,109.1 490.0,110.3 490.0,109.0 490.1,109.6 490.1,97.3 490.2,96.7 490.2,96.2 490.3,95.9 490.3,95.8 490.4,95.9 490.4,101.6 490.5,103.7 490.5,102.8 490.6,103.5 490.6,105.0 490.7,107.7 490.7,104.7 490.8,106.7 490.8,108.5 490.9,110.0 490.9,111.3 491.0,112.3 491.1,112.9 491.1,113.3 491.2,116.6 491.2,115.8 491.3,115.5 491.3,116.0 491.4,113.4 491.4,114.2 491.5,115.0 491.5,115.7 491.6,116.3 491.6,116.9 491.7,117.5 491.7,118.0 491.8,118.4 491.8,118.8 491.9,119.2 491.9,119.5 492.0,119.8 492.0,120.1 492.1,120.3 492.1,120.7 492.2,120.9 492.2,120.9 492.3,121.0 492.3,121.1 492.4,121.0 492.4,121.1 492.5,121.1 492.5,121.2 492.6,121.2 492.6,121.2 492.7,121.2 492.7,121.2 492.8,121.2 492.8,121.2 492.9,121.2 492.9,121.2 493.0,121.2 493.1,121.2 493.1,121.2 493.2,121.2 493.2,121.2 493.3,121.2 493.3,121.2 493.4,121.2 493.4,121.2 493.5,121.2 493.5,121.2 493.6,121.2 493.6,121.2 493.7,121.2 493.7,121.2 493.8,121.2 493.8,121.2 493.9,121.2 493.9,121.2 494.0,121.2 494.0,121.2 494.1,121.2 494.1,121.2 494.2,121.2 494.2,121.2 494.3,121.2 494.3,121.2 494.4,121.2 494.4,121.2 494.5,121.2 494.5,121.2 494.6,121.2 494.6,121.2 494.7,121.2 494.7,121.2 494.8,121.2 494.8,121.2 494.9,121.2 494.9,121.2 495.0,121.2 495.1,121.2 495.1,121.2 495.2,121.2 495.2,121.2 495.3,121.2 495.3,121.2 495.4,121.1 495.4,121.1 495.5,121.0 495.5,121.0 495.6,120.9 495.6,120.8 495.7,120.7 495.7,120.5 495.8,120.3 495.8,120.1 495.9,119.8 495.9,119.6 496.0,119.2 496.0,118.9 496.1,118.5 496.1,118.0 496.2,117.5 496.2,116.9 496.3,116.3 496.3,115.7 496.4,115.0 496.4,114.3 496.5,113.5 496.5,114.5 496.6,113.8 496.6,111.9 496.7,111.3 496.7,112.2 496.8,111.8 496.8,111.2 496.9,111.9 496.9,111.3 497.0,110.2 497.1,109.7 497.1,111.0 497.2,109.4 497.2,107.3 497.3,107.3 497.3,107.4 497.4,107.5 497.4,107.8 497.5,108.2 497.5,111.3 497.6,110.4 497.6,112.1 497.7,112.4 497.7,111.2 497.8,112.3 497.8,111.7 497.9,112.9 497.9,110.6 498.0,110.3 498.0,109.9 498.1,109.4 498.1,108.9 498.2,108.4 498.2,108.0 498.3,107.7 498.3,107.4 498.4,107.1 498.4,106.6 498.5,105.9 498.5,104.9 498.6,112.2 498.6,110.1 498.7,109.5 498.7,107.9 498.8,108.0 498.8,105.5 498.9,103.7 498.9,102.7 499.0,100.4 499.1,99.0 499.1,80.3 499.2,77.9 499.2,75.6 499.3,73.3 499.3,71.1 499.4,92.7 499.4,90.4 499.5,93.8 499.5,91.8 499.6,91.8 499.6,91.6 499.7,86.3 499.7,83.0 499.8,84.4 499.8,80.8 499.9,80.9 499.9,81.6 500.0,82.5 500.0,44.4 500.1,43.1 500.1,42.0 500.2,40.9 500.2,39.9 500.3,39.1 500.3,38.3 500.4,37.5 500.4,36.9 500.5,36.3 500.5,35.8 500.6,35.3 500.6,34.9 500.7,34.5 500.7,34.2 500.8,71.9 500.8,72.1 500.9,77.2 500.9,73.3 501.0,75.1 501.1,72.4 501.1,74.7 501.2,50.4 501.2,32.6 501.3,32.5 501.3,29.9 501.4,27.0 501.4,24.1 501.5,27.0 501.5,29.9 501.6,32.3 501.6,45.7 501.7,50.1 501.7,61.4 501.8,54.9 501.8,49.3 501.9,53.7 501.9,59.1 502.0,49.3 502.0,50.7 502.1,50.9 502.1,61.2 502.2,53.8 502.2,59.1 502.3,53.5 502.3,59.4 502.4,36.9 502.4,37.7 502.5,38.6 502.5,39.6 502.6,40.6 502.6,41.7 502.7,42.9 502.7,44.1 502.8,45.3 502.8,80.0 502.9,82.4 502.9,84.4 503.0,84.6 503.1,84.8 503.1,87.3 503.2,88.3 503.2,90.2 503.3,88.9 503.3,92.1 503.4,92.3 503.4,94.1 503.5,68.6 503.5,70.7 503.6,72.9 503.6,75.0 503.7,77.1 503.7,79.1 503.8,81.0 503.8,82.8 503.9,84.5 503.9,99.5 504.0,100.5 504.0,98.4 504.1,98.5 504.1,102.0 504.2,101.0 504.2,101.7 504.3,102.0 504.3,92.0 504.4,92.1 504.4,92.1 504.5,92.2 504.5,92.2 504.6,92.4 504.6,92.7 504.7,93.1 504.7,93.6 504.8,94.2 504.8,94.9 504.9,95.7 505.0,96.5 505.0,97.4 505.1,98.4 505.1,99.4 505.2,100.4 505.2,101.4 505.3,102.4 505.3,103.4 505.4,104.2 505.4,104.9 505.5,105.5 505.5,111.9 505.6,113.1 505.6,112.5 505.7,113.4 505.7,113.4 505.8,113.2 505.8,112.8 505.9,113.5 505.9,114.7 506.0,114.7 506.0,110.8 506.1,111.7 506.1,112.6 506.2,113.5 506.2,114.3 506.3,115.0 506.3,115.7 506.4,116.3 506.4,116.9 506.5,117.5 506.5,118.0 506.6,118.5 506.6,118.9 506.7,119.2 506.7,119.6 506.8,119.8 506.8,120.1 506.9,120.3 507.0,120.6 507.0,120.8 507.1,120.9 507.1,121.0 507.2,121.0 507.2,121.1 507.3,121.1 507.3,121.1 507.4,121.2 507.4,121.2 507.5,121.2 507.5,121.2 507.6,121.2 507.6,121.2 507.7,121.2 507.7,121.2 507.8,121.2 507.8,121.2 507.9,121.2 507.9,121.2 508.0,121.2 508.0,121.2 508.1,121.2 508.1,121.2 508.2,121.2 508.2,121.2 508.3,121.2 508.3,121.2 508.4,121.2 508.4,121.2 508.5,121.2 508.5,121.2 508.6,121.2 508.6,121.2 508.7,121.2"/>
<polyline stroke="#ff7f08" points="508.7,121.2 508.8,121.2 508.8,121.2 508.9,121.2 509.0,121.2 509.0,121.2 509.1,121.2 509.1,121.2 509.2,121.2 509.2,121.2 509.3,121.2 509.3,121.2 509.4,121.2 509.4,121.2 509.5,121.2 509.5,121.2 509.6,121.2 509.6,121.2 509.7,121.2 509.7,121.2 509.8,121.2 509.8,121.2 509.9,121.2 509.9,121.1 510.0,121.1 510.0,121.1 510.1,121.0 510.1,120.9 510.2,120.8 510.2,120.7 510.3,120.6 510.3,120.4 510.4,120.3 510.4,120.2 510.5,120.1 510.5,119.9 510.6,119.7 510.6,119.5 510.7,119.3 510.7,119.0 510.8,118.8 510.8,118.7 510.9,118.5 511.0,118.3 511.0,118.4 511.1,118.2 511.1,118.0 511.2,118.1 511.2,117.9 511.3,117.9 511.3,117.1 511.4,117.5 511.4,116.9 511.5,116.5 511.5,116.3 511.6,116.1 511.6,116.0 511.7,115.9 511.7,115.8 511.8,115.8 511.8,115.7 511.9,115.5 511.9,115.9 512.0,115.8 512.0,115.5 512.1,116.0 512.1,115.8 512.2,116.0 512.2,115.0 512.3,115.3 512.3,114.5 512.4,114.1 512.4,114.3 512.5,113.6 512.5,113.6 512.6,112.3 512.6,111.7 512.7,111.0 512.7,110.3 512.8,109.6 512.8,108.8 512.9,107.9 513.0,107.0 513.0,106.0 513.1,104.9 513.1,103.8 513.2,102.6 513.2,101.3 513.3,100.0 513.3,98.6 513.4,97.2 513.4,95.6 513.5,94.0 513.5,92.2 513.6,90.4 513.6,88.4 513.7,86.4 513.7,83.7 513.8,83.4 513.8,79.6 513.9,82.6 513.9,81.0 514.0,80.9 514.0,71.1 514.1,69.0 514.1,66.8 514.2,64.7 514.2,62.7 514.3,60.7 514.3,58.7 514.4,56.8 514.4,55.0 514.5,53.2 514.5,51.4 514.6,49.7 514.6,48.0 514.7,46.3 514.7,44.7 514.8,43.2 514.8,41.7 514.9,40.2 515.0,38.8 515.0,37.5 515.1,36.3 515.1,44.2 515.2,40.4 515.2,37.5 515.3,33.6 515.3,30.6 515.4,41.6 515.4,35.9 515.5,28.1 515.5,38.0 515.6,33.5 515.6,35.0 515.7,29.5 515.7,29.6 515.8,27.6 515.8,27.4 515.9,27.3 515.9,27.3 516.0,27.3 516.0,24.5 516.1,27.3 516.1,27.3 516.2,27.3 516.2,27.4 516.3,27.5 516.3,27.7 516.4,28.0 516.4,28.2 516.5,28.6 516.5,29.0 516.6,29.5 516.6,30.1 516.7,30.7 516.7,31.4 516.8,32.2 516.8,33.0 516.9,34.0 517.0,35.0 517.0,36.1 517.1,40.3 517.1,36.8 517.2,46.3 517.2,46.1 517.3,51.2 517.3,43.3 517.4,56.7 517.4,53.6 517.5,59.1 517.5,56.0 517.6,55.7 517.6,63.6 517.7,56.7 517.7,58.7 517.8,60.7 517.8,62.7 517.9,64.8 517.9,66.9 518.0,69.0 518.0,71.1 518.1,73.1 518.1,75.2 518.2,77.2 518.2,79.2 518.3,81.1 518.3,83.0 518.4,84.8 518.4,86.5 518.5,88.2 518.5,89.9 518.6,94.9 518.6,95.6 518.7,94.0 518.7,95.8 518.8,99.8 518.8,102.2 518.9,103.1 519.0,102.9 519.0,105.5 519.1,104.4 519.1,105.7 519.2,106.0 519.2,107.0 519.3,107.9 519.3,108.8 519.4,109.6 519.4,110.3 519.5,110.9 519.5,111.5 519.6,112.1 519.6,112.6 519.7,113.1 519.7,113.6 519.8,114.1 519.8,114.5 519.9,114.9 519.9,115.3 520.0,115.6 520.0,115.8 520.1,116.0 520.1,116.1 520.2,116.2 520.2,116.3 520.3,116.4 520.3,116.4 520.4,116.5 520.4,116.5 520.5,116.6 520.5,116.7 520.6,116.6 520.6,117.2 520.7,117.4 520.7,116.9 520.8,117.2 520.9,117.4 520.9,117.6 521.0,117.8 521.0,117.9 521.1,118.1 521.1,118.1 521.2,118.1 521.2,118.1 521.3,117.9 521.3,117.8 521.4,117.6 521.4,117.7 521.5,118.1 521.5,118.5 521.6,118.9 521.6,119.2 521.7,119.5 521.7,119.8 521.8,120.1 521.8,120.2 521.9,120.4 521.9,120.6 522.0,120.7 522.0,120.8 522.1,120.9 522.1,121.0 522.2,121.1 522.2,121.1 522.3,121.1 522.3,121.2 522.4,121.2 522.4,121.2 522.5,121.2 522.5,121.2 522.6,121.2 522.6,121.2 522.7,121.2 522.7,121.2 522.8,121.2 522.9,121.2 522.9,121.2 523.0,121.2 523.0,121.2 523.1,121.2 523.1,121.2 523.2,121.2 523.2,121.2 523.3,121.2 523.3,121.2 523.4,121.2 523.4,121.2 523.5,121.2"/>
</g>
<g stroke="#111" stroke-width="0.8">
<line x1="65.60" y1="126.4" x2="65.60" y2="129.1"/>
<line x1="168.18" y1="126.4" x2="168.18" y2="129.1"/>
<line x1="270.76" y1="126.4" x2="270.76" y2="129.1"/>
<line x1="373.34" y1="126.4" x2="373.34" y2="129.1"/>
<line x1="475.92" y1="126.4" x2="475.92" y2="129.1"/>
<line x1="39.8" y1="121.20" x2="42.5" y2="121.20"/>
<line x1="39.8" y1="102.23" x2="42.5" y2="102.23"/>
<line x1="39.8" y1="83.27" x2="42.5" y2="83.27"/>
<line x1="39.8" y1="64.30" x2="42.5" y2="64.30"/>
<line x1="39.8" y1="45.33" x2="42.5" y2="45.33"/>
<line x1="39.8" y1="26.37" x2="42.5" y2="26.37"/>
<line x1="39.8" y1="7.40" x2="42.5" y2="7.40"/>
</g>
<g font-family="DejaVu Sans, Liberation Sans, sans-serif" font-size="8.25" fill="#000" text-rendering="geometricPrecision">
<text x="65.60" y="138.3" text-anchor="middle">0</text>
<text x="168.18" y="138.3" text-anchor="middle">2000</text>
<text x="270.76" y="138.3" text-anchor="middle">4000</text>
<text x="373.34" y="138.3" text-anchor="middle">6000</text>
<text x="475.92" y="138.3" text-anchor="middle">8000</text>
<text x="37.7" y="124.80" text-anchor="end">0</text>
<text x="37.7" y="105.83" text-anchor="end">500</text>
<text x="37.7" y="86.87" text-anchor="end">1000</text>
<text x="37.7" y="67.90" text-anchor="end">1500</text>
<text x="37.7" y="48.93" text-anchor="end">2000</text>
<text x="37.7" y="29.97" text-anchor="end">2500</text>
<text x="37.7" y="11.00" text-anchor="end">3000</text>
</g>
<rect x="42.5" y="2.75" width="503.29999999999995" height="123.65" fill="none" stroke="#111" stroke-width="0.8"/>
<text font-family="Liberation Sans, Arial, sans-serif" font-size="10.4" stroke="#000" stroke-width="0.15" x="294.15" y="150.4" text-anchor="middle">Num/Days</text>
<text font-family="Liberation Sans, Arial, sans-serif" font-size="10.4" stroke="#000" stroke-width="0.15" transform="translate(12.1,65.7) rotate(-90)" text-anchor="middle">Demand/W</text>
<rect x="48.2" y="8.2" width="116.2" height="32.2" rx="1.6" fill="#fff" fill-opacity="0.8" stroke="#ccc" stroke-opacity="0.8" stroke-width="0.8"/>
<line x1="51.8" y1="16.0" x2="73.6" y2="16.0" stroke="#0c77bf" stroke-width="1.6"/>
<text font-family="Liberation Sans, Arial, sans-serif" font-size="10.4" stroke="#000" stroke-width="0.15" x="82.4" y="19.6">pv_train_dataset</text>
<line x1="51.8" y1="30.9" x2="73.6" y2="30.9" stroke="#ff7f08" stroke-width="1.6"/>
<text font-family="Liberation Sans, Arial, sans-serif" font-size="10.4" stroke="#000" stroke-width="0.15" x="82.4" y="34.5">pv_test_dataset</text>
<rect x="42.5" y="152.1" width="503.29999999999995" height="123.9" fill="#fff"/>
<g clip-path="url(#c2)" fill="none" stroke-width="1.35" stroke-linejoin="round">
<polyline stroke="#0c77bf" points="65.53,223.9 65.53,210.4 65.78,195.9 65.78,217.1 66.03,194.1 66.03,176.6 66.28,175.5 66.28,188.9 66.53,215.1 66.53,190.5 66.78,215.7 66.78,220.5 67.03,214.9 67.03,197.0 67.28,186.8 67.28,195.8 67.53,200.4 67.53,186.9 67.78,201.0 67.78,216.2 68.03,218.4 68.03,209.5 68.28,183.1 68.28,208.1 68.53,182.2 68.53,171.0 68.78,175.9 68.78,199.2 69.03,224.2 69.03,201.4 69.28,208.0 69.28,223.9 69.53,206.4 69.53,179.5 69.78,174.7 69.78,180.9 70.03,223.9 70.03,182.0 70.28,210.2 70.28,218.5 70.53,217.3 70.53,200.1 70.78,179.7 70.78,198.2 71.03,187.0 71.03,175.6 71.28,187.6 71.28,209.1 71.53,215.3 71.53,209.1 71.78,191.4 71.78,212.9 72.03,190.2 72.03,174.6 72.28,171.1 72.28,189.1 72.53,218.2 72.53,190.1 72.78,216.6 72.78,222.2 73.03,216.0 73.03,198.0 73.28,187.6 73.28,197.3 73.53,205.1 73.53,190.7 73.78,206.0 73.78,218.2 74.03,218.8 74.03,210.4 74.28,189.0 74.28,209.7 74.53,188.0 74.53,183.4 74.78,186.3 74.78,204.8 75.03,218.6 75.03,206.3 75.28,202.1 75.28,218.1 75.53,200.8 75.53,174.7 75.78,172.4 75.78,179.3 76.03,208.3 76.03,180.4 76.28,207.0 76.28,215.2 76.53,214.1 76.53,195.4 76.78,175.8 76.78,193.4 77.03,186.0 77.03,174.8 77.28,187.3 77.28,207.2 77.53,217.6 77.53,208.3 77.78,189.9 77.78,209.6 78.03,188.6 78.03,176.2 78.28,177.7 78.28,191.4 78.53,210.7 78.53,191.9 78.78,207.0 78.78,217.8 79.03,206.8 79.03,183.2 79.28,175.2 79.28,183.0 79.53,197.0 79.53,177.6 79.78,196.8 79.78,213.4 80.03,215.5 80.03,202.6 80.28,180.3 80.28,201.1 80.53,179.9 80.53,173.1 80.78,180.4 80.78,201.8 81.03,219.1 81.03,202.7 81.28,200.4 81.28,218.3 81.53,198.7 81.53,177.2 81.78,175.2 81.78,183.3 82.03,208.3 82.03,184.6 82.28,202.4 82.28,211.7 82.53,207.9 82.53,186.7 82.78,170.8 82.78,186.5 83.03,183.5 83.03,170.2 83.28,184.4 83.28,212.5 83.53,219.5 83.53,211.4 83.78,185.0 83.78,210.0 84.03,183.9 84.03,172.3 84.28,173.5 84.28,192.3 84.53,215.4 84.53,193.6 84.78,206.9 84.78,216.6 85.03,206.3 85.03,181.1 85.28,172.6 85.28,179.5 85.53,198.6 85.53,175.1 85.78,199.8 85.78,217.9 86.03,214.5 86.03,200.9 86.28,179.4 86.28,199.6 86.53,182.6 86.53,173.1 86.78,182.7 86.78,204.6 87.03,218.4 87.03,206.1 87.28,196.1 87.28,213.6 87.53,195.0 87.53,177.4 87.78,175.5 87.78,185.7 88.03,208.7 88.03,186.7 88.28,209.3 88.28,217.8 88.53,211.1 88.53,190.7 88.78,175.5 88.78,189.3 89.03,190.9 89.03,175.6 89.28,192.0 89.28,212.9 89.53,218.3 89.53,209.5 89.78,184.7 89.78,208.0 90.03,182.8 90.03,174.7 90.28,176.5 90.28,196.3 90.53,220.9 90.53,197.2 90.78,212.6 90.78,223.7 91.03,211.7 91.03,193.1 91.28,187.5 91.28,192.8 91.53,210.1 91.53,191.3 91.78,207.6 91.78,217.3 92.03,214.9 92.03,198.8 92.28,177.2 92.28,197.4 92.53,182.6 92.53,174.0 92.78,182.6 92.78,206.3 93.03,215.8 93.03,207.6 93.28,190.4 93.28,213.5 93.53,188.9 93.53,170.4 93.78,167.5 93.78,183.8 94.03,210.0 94.03,184.3 94.28,211.2 94.28,215.4 94.53,210.1 94.53,188.8 94.78,175.4 94.78,187.0 95.03,192.8 95.03,175.8 95.28,193.3 95.28,214.3 95.53,216.5 95.53,208.4 95.78,182.6 95.78,207.0 96.03,181.2 96.03,174.2 96.28,177.6 96.28,198.6 96.53,212.0 96.53,200.0 96.78,199.6 96.78,216.3 97.03,198.7 97.03,177.6 97.28,174.3 97.28,179.0 97.53,201.1 97.53,179.6 97.78,201.9 97.78,218.3 98.03,213.2 98.03,195.1 98.28,174.7 98.28,193.5 98.53,181.5 98.53,172.8 98.78,182.6 98.78,204.6 99.03,211.3 99.03,205.2 99.28,189.5 99.28,209.2 99.53,188.3 99.53,175.5 99.78,175.8 99.78,189.1 100.03,214.6 100.03,189.2 100.28,213.5 100.28,219.1 100.53,212.8 100.53,201.4 100.78,195.4 100.78,200.8 101.03,205.6 101.03,196.6 101.28,206.9 101.28,215.1 101.53,216.0 101.53,206.2 101.78,184.2 101.78,205.0 102.03,229.8 102.03,174.6 102.28,180.7 102.28,201.0 102.53,218.5 102.53,202.6 102.78,199.8 102.78,215.8 103.03,198.0 103.03,176.0 103.28,174.0 103.28,180.8 103.53,206.5 103.53,182.2 103.78,206.9 103.78,216.7 104.03,214.6 104.03,193.1 104.28,173.3 104.28,192.0 104.53,183.6 104.53,171.8 104.78,186.0 104.78,214.2 105.03,219.4 105.03,214.0 105.28,192.2 105.28,214.8 105.53,190.6 105.53,175.2 105.78,176.9 105.78,193.2 106.03,214.1 106.03,194.4 106.28,208.6 106.28,216.1 106.53,228.6 106.53,184.1 106.78,172.5 106.78,182.5 107.03,197.5 107.03,177.6 107.28,199.3 107.28,219.1 107.53,220.1 107.53,205.6 107.78,179.1 107.78,204.2 108.03,178.5 108.03,173.7 108.28,179.3 108.28,204.9 108.53,216.0 108.53,206.2 108.78,200.4 108.78,215.7 109.03,198.8 109.03,180.1 109.28,177.9 109.28,186.4 109.53,208.1 109.53,186.7 109.78,209.0 109.78,216.7 110.03,212.2 110.03,193.3 110.28,178.9 110.28,192.2 110.53,189.8 110.53,178.3 110.78,191.0 110.78,215.2 111.03,222.6 111.03,214.0 111.28,190.2 111.28,213.8 111.53,188.5 111.53,176.8 111.78,177.8 111.78,196.3 112.03,215.1 112.03,197.7 112.28,207.8 112.28,220.5 112.53,206.5 112.53,184.5 112.78,176.8 112.78,182.8 113.03,201.6 113.03,179.9 113.28,202.5 113.28,216.9 113.53,216.3 113.53,203.7 113.78,183.5 113.78,202.6 114.03,186.1 114.03,180.7 114.28,186.5 114.28,206.8 114.53,215.1 114.53,205.5 114.78,195.4 114.78,212.4 115.03,193.5 115.03,177.2 115.28,176.1 115.28,184.8 115.53,209.5 115.53,186.8 115.78,209.8 115.78,215.9 116.03,212.5 116.03,189.6 116.28,172.3 116.28,188.0 116.53,189.8 116.53,173.3 116.78,190.9 116.78,212.6 117.03,215.4 117.03,208.2 117.28,185.1 117.28,207.3 117.53,184.7 117.53,175.8 117.78,177.1 117.78,196.1 118.03,212.1 118.03,197.1 118.28,202.0 118.28,213.3 118.53,200.8 118.53,178.4 118.78,171.3 118.78,178.5 119.03,199.0 119.03,177.2 119.28,199.6 119.28,215.7 119.53,213.2 119.53,199.2 119.78,182.2 119.78,198.8 120.03,186.2 120.03,180.5 120.28,187.5 120.28,207.8 120.53,216.9 120.53,209.0 120.78,194.0 120.78,214.0 121.03,192.9 121.03,175.7 121.28,174.9 121.28,188.7 121.53,211.6 121.53,189.1 121.78,212.0 121.78,217.2 122.03,211.3 122.03,186.8 122.28,172.6 122.28,185.1 122.53,191.2 122.53,173.2 122.78,193.2 122.78,212.9 123.03,217.9 123.03,208.4 123.28,193.3 123.28,207.5 123.53,192.5 123.53,186.5 123.78,190.7 123.78,203.1 124.03,214.9 124.03,204.0 124.28,202.8 124.28,215.3 124.53,201.2 124.53,179.8 124.78,172.7 124.78,181.2 125.03,204.0 125.03,182.0 125.28,205.5 125.28,217.0 125.53,216.0 125.53,198.3 125.78,178.6 125.78,197.2 126.03,185.5 126.03,176.4 126.28,186.8 126.28,209.1 126.53,218.3 126.53,211.1 126.78,190.9 126.78,212.8 127.03,189.1 127.03,174.3 127.28,174.6 127.28,190.2 127.53,212.5 127.53,190.8 127.78,210.5 127.78,217.6 128.03,209.1 128.03,186.4 128.28,177.5 128.28,185.8 128.53,195.9 128.53,178.3 128.78,197.6 128.78,214.8 129.03,219.1 129.03,205.5 129.28,180.2 129.28,205.0 129.53,179.2 129.53,173.9 129.78,177.6 129.78,201.1 130.03,216.6 130.03,202.0 130.28,207.1 130.28,216.1 130.53,206.7 130.53,196.0 130.78,194.0 130.78,198.3 131.03,211.2 131.03,198.1 131.28,208.2 131.28,216.2 131.53,214.7 131.53,194.9 131.78,175.5 131.78,193.3 132.03,186.2 132.03,172.2 132.28,187.8 132.28,212.1 132.53,218.7 132.53,213.4 132.78,190.3 132.78,214.6 133.03,188.8 133.03,173.5 133.28,175.9 133.28,193.0 133.53,210.7 133.53,194.7 133.78,204.9 133.78,217.6 134.03,203.9 134.03,180.9 134.28,169.8 134.28,180.4 134.53,194.4 134.53,175.0 134.78,195.8 134.78,212.9 135.03,227.5 135.03,202.2 135.28,178.8 135.28,201.5 135.53,178.7 135.53,174.7 135.78,178.3 135.78,200.9 136.03,213.0 136.03,201.2 136.28,200.7 136.28,212.8 136.53,200.2 136.53,184.9 136.78,183.8 136.78,189.7 137.03,208.5 137.03,191.0 137.28,209.4 137.28,215.6 137.53,213.4 137.53,192.8 137.78,175.7 137.78,191.5 138.03,188.5 138.03,173.4 138.28,190.0 138.28,213.1 138.53,216.8 138.53,212.7 138.78,189.0 138.78,211.3 139.03,188.3 139.03,174.9 139.28,178.1 139.28,195.7 139.53,217.9 139.53,197.4 139.78,209.0 139.78,224.2 140.03,207.3 140.03,182.2 140.28,171.9 140.28,181.3 140.53,202.8 140.53,178.7 140.78,204.4 140.78,215.9 141.03,215.9 141.03,201.3 141.28,179.1 141.28,199.9 141.53,181.4 141.53,175.8 141.78,182.2 141.78,205.2 142.03,224.3 142.03,206.0 142.28,200.3 142.28,223.4 142.53,197.8 142.53,175.7 142.78,171.3 142.78,186.7 143.03,212.3 143.03,187.6 143.28,211.1 143.28,220.7 143.53,212.1 143.53,188.8 143.78,173.6 143.78,187.5 144.03,190.6 144.03,173.7 144.28,192.1 144.28,216.6 144.53,219.2 144.53,212.5 144.78,188.9 144.78,211.0 145.03,187.1 145.03,176.9 145.28,180.7 145.28,199.4 145.53,216.4 145.53,201.3 145.78,206.3 145.78,220.6 146.03,205.2 146.03,179.9 146.28,174.5 146.28,180.2 146.53,204.2 146.53,179.0 146.78,205.3 146.78,221.4 147.03,222.9 147.03,208.5 147.28,193.3 147.28,207.0 147.53,197.0 147.53,191.5 147.78,198.2 147.78,214.6 148.03,219.6 148.03,210.6 148.28,195.3 148.28,215.6 148.53,193.7 148.53,177.3 148.78,176.1 148.78,190.0 149.03,211.1 149.03,190.5 149.28,211.4 149.28,216.2 149.53,210.3 149.53,184.8 149.78,169.3 149.78,183.4 150.03,190.4 150.03,169.8 150.28,192.8 150.28,216.3 150.53,222.2 150.53,208.5 150.78,183.2 150.78,207.1 151.03,182.0 151.03,174.9 151.28,177.7 151.28,200.4 151.53,218.3 151.53,201.3 151.78,202.6 151.78,218.7 152.03,201.2 152.03,176.1 152.28,170.5 152.28,176.7 152.53,204.6 152.53,177.6 152.78,205.8 152.78,217.7 153.03,216.1 153.03,198.0 153.28,175.2 153.28,196.0 153.53,184.8 153.53,171.2 153.78,185.8 153.78,211.3 154.03,219.7 154.03,212.5 154.28,198.0 154.28,213.8 154.53,197.5 154.53,186.3 154.78,186.7 154.78,198.0 155.03,212.8 155.03,198.1 155.28,209.8 155.28,216.8 155.53,209.6 155.53,184.7 155.78,170.1 155.78,183.7 156.03,194.3 156.03,174.0 156.28,195.4 156.28,212.6 156.53,215.7 156.53,206.1 156.78,188.3 156.78,205.8 157.03,187.2 157.03,183.8 157.28,187.1 157.28,203.7 157.53,213.0 157.53,204.0 157.78,202.8 157.78,212.6 158.03,202.1 158.03,189.2 158.28,186.9 158.28,192.3 158.53,207.2 158.53,192.1 158.78,204.4 158.78,211.3 159.03,210.3 159.03,193.2 159.28,177.5 159.28,192.5 159.53,186.5 159.53,176.7 159.78,187.1 159.78,208.2 160.03,213.5 160.03,209.3 160.28,189.4 160.28,210.1 160.53,188.8 160.53,177.4 160.78,179.3 160.78,193.4 161.03,215.3 161.03,194.0 161.28,208.7 161.28,217.6 161.53,207.6 161.53,183.1 161.78,173.9 161.78,182.1 162.03,197.7 162.03,176.6 162.28,199.6 162.28,210.6 162.53,213.8 162.53,200.1 162.78,180.2 162.78,199.2 163.03,180.0 163.03,176.5 163.28,180.9 163.28,200.1 163.53,215.9 163.53,201.2 163.78,195.1 163.78,212.0 164.03,194.1 164.03,175.1 164.28,173.9 164.28,181.9 164.53,204.3 164.53,183.0 164.78,205.1 164.78,213.3 165.03,209.1 165.03,190.0 165.28,174.4 165.28,188.7 165.53,186.9 165.53,174.4 165.78,187.3 165.78,209.1 166.03,212.7 166.03,208.0 166.28,187.7 166.28,207.1 166.53,186.9 166.53,177.7 166.78,178.6 166.78,193.7 167.03,214.1 167.03,194.7 167.28,205.1 167.28,220.0 167.53,203.8 167.53,180.4 167.78,173.4 167.78,180.0 168.03,199.3 168.03,177.8 168.28,200.7 168.28,215.0 168.53,215.1 168.53,203.8 168.78,187.8 168.78,204.0 169.03,189.3 169.03,184.7 169.28,190.1 169.28,206.7 169.53,216.0 169.53,207.1 169.78,196.5 169.78,214.6 170.03,194.9 170.03,175.2 170.28,175.4 170.28,186.1 170.53,206.7 170.53,187.1 170.78,207.0 170.78,215.5 171.03,207.0 171.03,187.1 171.28,174.2 171.28,185.8 171.53,188.9 171.53,174.0 171.78,189.7 171.78,209.9 172.03,216.3 172.03,205.5 172.28,182.9 172.28,204.4 172.53,182.2 172.53,173.2 172.78,174.8 172.78,193.9 173.03,212.9 173.03,195.2 173.28,203.0 173.28,215.0 173.53,201.8 173.53,178.0 173.78,172.1 173.78,177.6 174.03,200.1 174.03,177.6 174.28,201.9 174.28,214.8 174.53,214.5 174.53,196.6 174.78,172.8 174.78,194.9 175.03,178.9 175.03,169.0 175.28,179.8 175.28,204.5 175.53,212.4 175.53,205.4 175.78,191.6 175.78,209.7 176.03,189.7 176.03,174.4 176.28,173.2 176.28,185.6 176.53,209.1 176.53,187.2 176.78,209.4 176.78,214.5 177.03,208.9 177.03,185.7 177.28,174.7 177.28,184.7 177.53,192.6 177.53,175.5 177.78,193.6 177.78,210.4 178.03,212.3 178.03,204.4 178.28,181.0 178.28,203.1 178.53,179.6 178.53,173.6 178.78,176.1 178.78,196.2 179.03,214.0 179.03,197.0 179.28,200.3 179.28,214.6 179.53,198.6 179.53,175.1 179.78,170.6 179.78,176.4 180.03,202.1 180.03,176.7 180.28,203.1 180.28,214.9 180.53,214.1 180.53,194.7 180.78,174.3 180.78,193.3 181.03,183.5 181.03,172.9 181.28,184.4 181.28,205.0 181.53,213.4 181.53,204.0 181.78,185.2 181.78,207.4 182.03,183.3 182.03,169.0 182.28,169.2 182.28,183.2 182.53,211.6 182.53,185.1 182.78,209.7 182.78,214.8 183.03,208.9 183.03,187.9 183.28,177.6 183.28,186.0 183.53,195.8 183.53,179.0 183.78,197.1 183.78,212.5 184.03,213.2 184.03,202.7 184.28,179.4 184.28,202.1 184.53,178.5 184.53,171.8 184.78,177.0 184.78,199.4 185.03,215.9 185.03,200.4 185.28,196.7 185.28,212.1 185.53,195.2 185.53,175.9 185.78,173.0 185.78,179.7 186.03,203.4 186.03,180.9 186.28,206.9 186.28,219.4 186.53,214.3 186.53,193.4 186.78,172.2 186.78,191.8 187.03,184.0 187.03,172.2 187.28,185.3 187.28,209.1 187.53,214.2 187.53,209.4 187.78,184.2 187.78,208.7 188.03,182.6 188.03,168.7 188.28,170.0 188.28,188.9 188.53,210.8 188.53,190.1 188.78,205.5 188.78,213.9 189.03,203.8 189.03,181.0 189.28,171.7 189.28,180.0 189.53,194.5 189.53,174.7 189.78,196.3 189.78,213.0 190.03,213.3 190.03,206.9 190.28,194.0 190.28,205.8 190.53,194.1 190.53,190.1 190.78,194.6 190.78,206.5 191.03,216.7 191.03,206.7 191.28,195.0 191.28,215.9 191.53,193.0 191.53,171.1 191.78,169.7 191.78,179.5 192.03,208.1 192.03,180.8 192.28,209.2 192.28,218.5 192.53,214.0 192.53,187.7 192.78,166.7 192.78,185.9 193.03,183.0 193.03,165.6 193.28,185.0 193.28,213.1 193.53,217.1 193.53,211.4 193.78,186.4 193.78,210.5 194.03,185.6 194.03,171.4 194.28,175.5 194.28,194.6 194.53,208.6 194.53,196.2 194.78,198.6 194.78,213.5 195.03,198.4 195.03,174.1 195.28,166.3 195.28,172.7 195.53,193.2 195.53,170.5 195.78,194.4 195.78,218.0 196.03,212.9 196.03,197.8 196.28,172.5 196.28,195.4 196.53,175.2 196.53,168.8 196.78,176.6 196.78,202.0 197.03,211.2 197.03,203.0 197.28,190.3 197.28,210.3 197.53,188.2 197.53,171.9 197.78,171.2 197.78,182.1 198.03,206.0 198.03,183.2 198.28,205.9 198.28,213.1 198.53,207.4 198.53,184.6 198.78,170.4 198.78,183.7 199.03,186.0 199.03,170.8 199.28,186.8 199.28,210.0 199.53,215.5 199.53,205.7 199.78,178.8 199.78,203.7 200.03,177.6 200.03,168.3 200.28,170.2 200.28,191.8 200.53,211.4 200.53,193.0 200.78,199.2 200.78,211.9 201.03,197.1 201.03,174.3 201.28,169.3 201.28,174.1 201.53,198.5 201.53,174.8 201.78,199.5 201.78,211.7 202.03,211.0 202.03,194.0 202.28,172.5 202.28,192.6 202.53,178.0 202.53,169.8 202.78,178.5 202.78,203.7 203.03,217.2 203.03,204.9 203.28,187.7 203.28,210.8 203.53,186.6 203.53,167.9 203.78,167.8 203.78,182.1 204.03,209.7 204.03,182.3 204.28,209.4 204.28,218.7 204.53,208.9 204.53,182.1 204.78,167.9 204.78,181.4 205.03,189.8 205.03,170.0 205.28,191.4 205.28,209.0 205.53,210.8 205.53,202.1 205.78,177.8 205.78,201.5 206.03,177.3 206.03,170.6 206.28,173.6 206.28,194.3 206.53,213.1 206.53,195.3 206.78,199.3 206.78,218.4 207.03,196.8 207.03,173.0 207.28,166.7 207.28,175.2 207.53,202.6 207.53,176.3 207.78,203.3 207.78,213.9 208.03,212.7 208.03,192.7 208.28,171.5 208.28,191.3 208.53,180.4 208.53,170.6 208.78,181.8 208.78,208.6 209.03,213.0 209.03,208.8 209.28,196.4 209.28,210.4 209.53,195.0 209.53,182.7 209.78,185.9 209.78,195.5 210.03,208.9 210.03,195.5 210.28,206.4 210.28,214.4 210.53,205.5 210.53,181.6 210.78,170.2 210.78,180.2 211.03,191.9 211.03,171.7 211.28,193.7 211.28,210.8 211.53,211.7 211.53,200.4 211.78,175.2 211.78,199.2 212.03,173.9 212.03,165.7 212.28,173.9 212.28,196.6 212.53,209.4 212.53,198.4 212.78,195.2 212.78,208.7 213.03,193.6 213.03,174.4 213.28,168.9 213.28,178.4 213.53,200.7 213.53,178.8 213.78,204.1 213.78,213.4 214.03,209.8 214.03,192.9 214.28,175.9 214.28,191.5 214.53,186.2 214.53,175.4 214.78,187.6 214.78,208.1 215.03,213.9 215.03,209.1 215.28,184.9 215.28,207.8 215.53,183.9 215.53,171.9 215.78,172.2 215.78,189.0 216.03,208.0 216.03,190.0 216.28,202.3 216.28,210.8 216.53,201.9 216.53,180.5 216.78,170.4 216.78,179.8 217.03,192.8 217.03,174.1 217.28,194.2 217.28,212.0 217.53,212.3 217.53,200.7 217.78,177.9 217.78,200.2 218.03,179.4 218.03,173.9 218.28,179.0 218.28,201.3 218.53,212.2 218.53,202.1 218.78,200.5 218.78,211.5 219.03,199.3 219.03,186.3 219.28,185.4 219.28,190.6 219.53,205.8 219.53,192.0 219.78,205.9 219.78,212.4 220.03,209.5 220.03,192.3 220.28,178.4 220.28,191.1 220.53,189.3 220.53,177.8 220.78,190.5 220.78,209.4 221.03,216.9 221.03,207.9 221.28,184.1 221.28,206.7 221.53,182.3 221.53,169.4 221.78,173.4 221.78,192.6 222.03,215.8 222.03,193.9 222.28,206.7 222.28,219.3 222.53,205.7 222.53,181.1 222.78,170.7 222.78,179.5 223.03,200.7 223.03,177.5 223.28,201.7 223.28,219.6 223.53,216.3 223.53,201.8 223.78,179.9 223.78,200.5 224.03,182.6 224.03,176.0 224.28,183.1 224.28,205.2 224.53,217.1 224.53,207.1 224.78,194.0 224.78,215.2 225.03,192.2 225.03,172.7 225.28,171.8 225.28,184.1 225.53,212.2 225.53,185.7 225.78,212.5 225.78,218.4 226.03,214.0 226.03,189.5 226.28,173.7 226.28,188.4 226.53,191.9 226.53,174.8 226.78,193.0 226.78,213.5 227.03,216.6 227.03,209.7 227.28,182.5 227.28,208.2 227.53,181.4 227.53,172.4 227.78,174.1 227.78,196.8 228.03,216.4 228.03,198.6 228.28,203.4 228.28,219.0 228.53,202.7 228.53,177.0 228.78,172.1 228.78,177.1 229.03,202.4 229.03,177.9 229.28,204.0 229.28,217.6 229.53,217.4 229.53,198.3 229.78,172.7 229.78,195.9 230.03,179.4 230.03,167.3 230.28,181.1 230.28,209.2 230.53,220.0 230.53,211.2 230.78,193.8 230.78,217.2 231.03,191.2 231.03,171.3 231.28,171.3 231.28,186.8 231.53,215.1 231.53,188.6 231.78,214.4 231.78,220.7 232.03,213.3 232.03,186.1 232.28,171.7 232.28,184.2 232.53,193.2 232.53,172.7 232.78,196.0 232.78,211.6 233.03,213.5 233.03,203.9 233.28,178.6 233.28,202.9 233.53,177.7 233.53,167.4 233.78,173.6 233.78,195.9 234.03,215.1 234.03,197.5 234.28,200.3 234.28,216.9 234.53,198.4 234.53,172.7 234.78,166.8 234.78,176.3 235.03,203.5 235.03,176.9 235.28,204.7 235.28,217.1 235.53,214.2 235.53,195.3 235.78,176.1 235.78,194.6 236.03,185.3 236.03,172.7 236.28,185.8 236.28,208.7 236.53,216.5 236.53,210.8 236.78,188.7 236.78,213.2 237.03,187.3 237.03,168.6 237.28,171.1 237.28,187.3 237.53,212.4 237.53,189.2 237.78,211.0 237.78,215.1 238.03,210.4 238.03,196.5 238.28,190.4 238.28,195.5 238.53,203.1 238.53,191.0 238.78,203.9 238.78,217.2 239.03,217.8 239.03,208.6 239.28,188.6 239.28,208.1 239.53,187.4 239.53,182.6 239.78,186.3 239.78,205.4 240.03,217.3 240.03,206.3 240.28,198.5 240.28,217.1 240.53,197.5 240.53,171.7 240.78,165.6 240.78,176.5 241.03,206.0 241.03,177.7 241.28,205.9 241.28,220.1 241.53,213.2 241.53,190.7 241.78,170.3 241.78,188.5 242.03,183.2 242.03,169.4 242.28,184.9 242.28,214.0 242.53,219.6 242.53,214.2 242.78,187.3 242.78,214.6 243.03,187.3 243.03,173.1 243.28,173.9 243.28,192.4 243.53,214.8 243.53,193.8 243.78,208.4 243.78,217.7 244.03,207.2 244.03,181.8 244.28,173.0 244.28,180.9 244.53,197.0 244.53,175.3 244.78,198.8 244.78,218.1 245.03,219.0 245.03,201.2 245.28,171.7 245.28,199.6 245.53,172.4 245.53,164.3 245.78,173.5 245.78,203.4 246.03,217.2 246.03,204.7 246.28,193.9 246.28,212.6 246.53,194.0 246.53,174.1 246.78,169.4 246.78,181.6 247.03,209.5 247.03,182.1 247.28,210.5 247.28,221.1 247.53,214.6 247.53,191.3 247.78,172.1 247.78,189.6 248.03,188.3 248.03,171.9 248.28,189.7 248.28,212.6 248.53,218.1 248.53,210.0 248.78,185.5 248.78,209.2 249.03,184.6 249.03,172.1 249.28,175.8 249.28,195.2 249.53,216.9 249.53,196.7 249.78,206.9 249.78,217.8 250.03,205.5 250.03,178.7 250.28,170.9 250.28,178.3 250.53,199.9 250.53,174.4 250.78,201.5 250.78,217.8 251.03,218.3 251.03,200.4 251.28,173.4 251.28,199.6 251.53,176.9 251.53,166.7 251.78,178.5 251.78,206.6 252.03,227.7 252.03,212.7 252.28,196.8 252.28,221.7 252.53,195.0 252.53,172.4 252.78,171.1 252.78,186.2 253.03,213.4 253.03,187.4 253.28,214.8 253.28,220.2 253.53,214.9 253.53,189.4 253.78,171.4 253.78,187.4 254.03,190.9 254.03,171.5 254.28,192.8 254.28,213.7 254.53,219.2 254.53,209.1 254.78,184.4 254.78,208.4 255.03,184.2 255.03,174.9 255.28,177.7 255.28,198.9 255.53,217.6 255.53,199.0 255.78,205.5 255.78,217.5 256.02,204.4 256.02,181.9 256.27,175.9 256.27,182.0 256.52,204.2 256.52,182.0 256.77,205.6 256.77,220.4 257.02,217.7 257.02,200.8 257.27,178.0 257.27,199.0 257.52,184.6 257.52,173.2 257.77,185.9 257.77,209.2 258.02,214.4 258.02,210.0 258.27,200.3 258.27,212.9 258.52,200.2 258.52,192.1 258.77,188.8 258.77,199.5 259.02,214.1 259.02,199.9 259.27,212.8 259.27,222.2 259.52,211.5 259.52,189.3 259.77,177.0 259.77,187.7 260.02,195.6 260.02,177.5 260.27,196.7 260.27,219.2 260.52,225.2 260.52,212.0 260.77,189.3 260.77,211.6 261.02,188.8 261.02,181.6 261.27,184.7 261.27,204.6 261.52,218.4 261.52,206.4 261.77,205.4 261.77,221.9 262.02,204.1 262.02,183.2 262.27,179.9 262.27,185.6 262.52,208.1 262.52,186.6 262.77,209.8 262.77,218.5 263.02,224.0 263.02,206.4 263.27,194.4 263.27,206.1 263.52,200.1 263.52,192.6 263.77,200.8 263.77,213.1 264.02,218.6 264.02,210.4 264.27,189.1 264.27,212.2 264.52,188.2 264.52,172.5 264.77,172.6 264.77,187.8 265.02,216.9 265.02,189.2 265.27,212.3 265.27,222.1 265.52,211.7 265.52,185.0 265.77,174.5 265.77,184.3 266.02,198.3 266.02,176.2 266.27,199.0 266.27,217.0 266.52,218.0 266.52,208.5 266.77,186.7 266.77,206.6 267.02,186.0 267.02,178.1 267.27,185.5 267.27,204.3 267.52,216.8 267.52,205.6 267.77,206.7 267.77,216.6 268.02,206.3 268.02,192.6 268.27,188.1 268.27,195.0 268.52,211.7 268.52,195.6 268.77,212.0 268.77,220.1 269.02,217.9 269.02,196.2 269.27,176.7 269.27,194.9 269.52,189.9 269.52,176.4 269.77,191.3 269.77,213.6 270.02,219.1 270.02,213.5 270.27,199.3 270.27,213.1 270.52,199.0 270.52,191.8 270.77,191.5 270.77,202.2 271.02,214.9 271.02,202.3 271.27,208.4 271.27,217.3 271.52,207.8 271.52,180.2 271.77,168.1 271.77,179.0 272.02,197.9 272.02,173.8 272.27,199.0 272.27,213.8 272.52,214.1 272.52,199.7 272.77,176.2 272.77,199.0 273.02,176.8 273.02,171.9 273.27,178.5 273.27,201.5 273.52,218.4 273.52,203.1 273.77,198.5 273.77,217.0 274.02,196.7 274.02,176.1 274.27,174.4 274.27,183.4 274.52,207.7 274.52,185.4 274.77,208.2 274.77,218.7 275.02,211.9 275.02,192.6 275.27,176.6 275.27,191.3 275.52,190.2 275.52,177.3 275.77,192.0 275.77,207.2 276.02,210.7 276.02,205.8 276.27,184.3 276.27,205.1 276.52,183.4 276.52,174.8 276.77,175.8 276.77,192.1 277.02,211.7 277.02,192.8 277.27,203.0 277.27,215.4 277.52,203.1 277.52,179.6 277.77,171.8 277.77,179.0 278.02,198.3 278.02,176.7 278.27,199.6 278.27,213.2 278.52,213.3 278.52,198.0 278.77,176.8 278.77,196.7 279.02,181.0 279.02,174.8 279.27,182.1 279.27,203.9 279.52,213.9 279.52,205.5 279.77,192.3 279.77,211.8 280.02,191.5 280.02,174.9 280.27,171.0 280.27,184.7 280.52,205.3 280.52,185.7 280.77,205.7 280.77,209.6 281.02,206.1 281.02,187.5 281.27,173.7 281.27,186.9 281.52,189.9 281.52,176.0 281.77,190.4 281.77,210.5 282.02,216.9 282.02,205.4 282.27,181.9 282.27,204.2 282.52,181.6 282.52,174.0 282.77,176.2 282.77,195.5 283.02,211.2 283.02,196.6 283.27,199.1 283.27,212.0 283.52,197.8 283.52,175.3 283.77,170.0 283.77,174.9 284.02,198.6 284.02,175.6 284.27,200.3 284.27,214.8 284.52,213.9 284.52,196.8 284.77,175.2 284.77,196.0 285.02,181.5 285.02,173.0 285.27,182.3 285.27,207.0 285.52,218.4 285.52,208.0 285.77,190.6 285.77,211.8 286.02,189.4 286.02,174.2 286.27,171.2 286.27,187.6 286.52,211.4 286.52,188.6 286.77,210.3 286.77,217.9 287.02,209.9 287.02,186.5 287.27,171.7 287.27,185.7 287.52,193.7 287.52,174.9 287.77,194.1 287.77,212.1 288.02,214.8 288.02,205.9 288.27,183.0 288.27,205.1 288.52,182.6 288.52,176.6 288.77,179.4 288.77,199.8 289.02,218.6 289.02,200.6 289.27,199.8 289.27,214.2 289.52,198.6 289.52,177.2 289.77,173.8 289.77,179.9 290.02,203.9 290.02,180.7 290.27,204.0 290.27,213.5 290.52,210.5 290.52,193.7 290.77,176.6 290.77,193.2 291.02,184.6 291.02,175.5 291.27,185.4 291.27,207.0 291.52,213.1 291.52,207.3 291.77,190.4 291.77,209.4 292.02,222.5 292.02,176.2 292.27,177.2 292.27,190.7 292.52,210.6 292.52,191.7 292.77,205.9 292.77,218.3 293.02,204.6 293.02,178.6 293.27,168.1 293.27,177.9 293.52,191.8 293.52,170.4 293.77,193.1 293.77,213.4 294.02,214.4 294.02,203.3 294.27,178.1 294.27,201.9 294.52,176.6 294.52,172.0 294.77,176.6 294.77,199.1 295.02,218.6 295.02,200.9 295.27,200.0 295.27,217.8 295.52,198.1 295.52,172.7 295.77,170.2 295.77,179.7 296.02,207.7 296.02,180.9 296.27,208.2 296.27,219.2 296.52,212.6 296.52,196.5 296.77,181.3 296.77,195.1 297.02,191.4 297.02,181.3 297.27,192.1 297.27,206.9 297.52,212.9 297.52,208.2 297.77,183.0 297.77,206.9 298.02,229.8 298.02,168.0 298.27,168.6 298.27,187.2 298.52,209.4 298.52,188.1 298.77,204.3 298.77,212.2 299.02,203.1 299.02,177.3 299.27,170.2 299.27,177.3 299.52,194.7 299.52,173.2 299.77,196.2 299.77,218.3 300.02,219.7 300.02,202.5 300.27,174.4 300.27,200.7 300.52,175.5 300.52,169.5 300.77,176.1 300.77,203.9 301.02,221.5 301.02,205.5 301.27,194.7 301.27,216.1 301.52,193.8 301.52,170.5 301.77,168.6 301.77,179.2 302.02,205.7 302.02,180.6 302.27,206.3 302.27,212.5 302.52,209.8 302.52,186.4 302.77,170.0 302.77,185.8 303.02,184.7 303.02,169.5 303.27,186.6 303.27,211.8 303.52,215.1 303.52,208.7 303.77,182.9 303.77,207.7 304.02,181.2 304.02,168.5 304.27,172.3 304.27,192.4 304.52,212.4 304.52,194.3 304.77,203.1 304.77,213.3 305.02,200.9 305.02,175.9 305.27,167.7 305.27,174.5 305.52,196.4 305.52,172.1 305.77,198.0 305.77,214.1 306.02,213.8 306.02,201.0 306.27,183.7 306.27,200.5 306.52,187.8 306.52,181.6 306.77,188.3 306.77,206.0 307.02,215.1 307.02,203.7 307.27,189.6 307.27,209.9 307.52,188.4 307.52,169.6 307.77,169.1 307.77,180.7 308.02,209.5 308.02,181.9 308.27,210.3 308.27,216.7 308.52,211.8 308.52,184.6 308.77,166.3 308.77,183.7 309.02,188.0 309.02,167.8 309.27,189.8 309.27,211.9 309.52,214.2 309.52,204.9 309.77,176.3 309.77,204.7 310.02,175.1 310.02,166.1 310.27,169.0 310.27,193.1 310.52,211.5 310.52,194.1 310.77,199.5 310.77,213.1 311.02,197.1 311.02,174.7 311.27,170.6 311.27,174.5 311.52,198.0 311.52,175.8 311.77,199.7 311.77,216.3 312.02,212.0 312.02,194.5 312.27,172.1 312.27,192.7 312.52,178.4 312.52,169.0 312.77,179.9 312.77,207.5 313.02,215.4 313.02,208.8 313.27,193.5 313.27,212.0 313.52,192.2 313.52,178.3 313.77,178.0 313.77,190.0 314.02,208.2 314.02,190.5 314.27,207.2 314.27,215.1 314.52,205.9 314.52,183.5 314.77,169.2 314.77,181.6 315.02,189.1 315.02,171.7 315.27,191.1 315.27,211.3 315.52,212.5 315.52,203.2 315.77,177.0 315.77,202.3 316.02,175.7 316.02,170.4 316.27,173.3 316.27,195.9 316.52,216.7 316.52,197.2 316.77,198.4 316.77,215.0 317.02,198.0 317.02,174.6 317.27,168.1 317.27,177.3 317.52,203.5 317.52,178.1 317.77,203.7 317.77,217.6 318.02,214.7 318.02,193.0 318.27,170.0 318.27,191.5 318.52,179.9 318.52,168.4 318.77,181.1 318.77,205.3 319.02,212.0 319.02,205.7 319.27,185.8 319.27,208.0 319.52,184.9 319.52,171.1 319.77,172.1 319.77,186.9 320.02,209.7 320.02,188.7 320.27,205.0 320.27,212.9 320.52,204.1 320.52,177.4 320.77,166.0 320.77,176.1 321.02,190.3 321.02,167.8 321.27,192.4 321.27,210.3 321.52,212.7 321.52,202.5 321.77,184.7 321.77,201.9 322.02,183.9 322.02,180.2 322.27,183.1 322.27,200.1 322.52,214.6 322.52,200.7 322.77,200.9 322.77,214.8 323.02,200.1 323.02,184.8 323.27,183.1 323.27,188.7 323.52,207.7 323.52,190.1 323.77,203.6 323.77,215.3 324.02,210.1 324.02,189.7 324.27,171.3 324.27,188.2 324.52,183.5 324.52,171.1 324.77,184.3 324.77,208.7 325.02,216.6 325.02,208.7 325.27,185.0 325.27,208.1 325.52,184.1 325.52,172.2 325.77,172.6 325.77,190.2 326.02,212.9 326.02,191.2 326.27,205.0 326.27,215.2 326.52,204.0 326.52,177.4 326.77,167.0 326.77,176.5 327.02,195.8 327.02,172.4 327.27,197.8 327.27,214.3 327.52,216.4 327.52,201.3 327.77,176.7 327.77,199.1 328.02,177.1 328.02,170.0 328.27,178.5 328.27,249.9 328.52,211.2 328.52,203.1 328.77,193.2 328.77,210.7 329.02,191.9 329.02,173.3 329.27,170.5 329.27,181.4 329.52,207.7 329.52,182.3 329.77,208.5 329.77,237.1 330.02,211.2 330.02,187.8 330.27,169.7 330.27,186.5 330.52,186.8 330.52,172.0 330.77,188.8 330.77,210.5 331.02,214.0 331.02,207.6 331.27,181.9 331.27,206.4 331.52,179.8 331.52,169.6 331.77,170.7 331.77,191.9 332.02,215.7 332.02,192.4 332.27,209.9 332.27,216.7 332.52,208.5 332.52,191.7 332.77,186.9 332.77,190.7 333.02,206.1 333.02,190.4 333.27,204.9 333.27,214.6 333.52,214.9 333.52,196.1 333.77,170.7 333.77,194.7 334.02,175.3 334.02,167.4 334.27,176.9 334.27,204.1 334.52,214.0 334.52,203.8 334.77,192.9 334.77,209.6 335.02,191.4 335.02,175.0 335.27,174.7 335.27,184.4 335.52,205.2 335.52,185.1 335.77,204.6 335.77,213.7 336.02,205.6 336.02,184.1 336.27,172.1 336.27,182.9 336.52,188.0 336.52,173.1 336.77,189.5 336.77,208.9 337.02,215.4 337.02,203.0 337.27,178.5 337.27,202.1 337.52,177.7 337.52,170.4 337.77,172.5 337.77,192.7 338.02,212.0 338.02,194.2 338.27,200.4 338.27,216.5 338.52,200.0 338.52,177.4 338.77,172.6 338.77,176.5 339.02,199.3 339.02,178.5 339.27,200.7 339.27,212.4 339.52,211.7 339.52,193.6 339.77,173.3 339.77,192.5 340.02,180.1 340.02,170.4 340.27,181.3 340.27,205.7 340.52,217.4 340.52,206.8 340.77,188.3 340.77,210.9 341.02,187.4 341.02,170.6 341.27,169.8 341.27,185.0 341.52,209.5 341.52,185.9 341.77,208.4 341.77,214.3 342.02,207.6 342.02,181.3 342.27,167.7 342.27,179.8 342.52,189.0 342.52,169.2 342.77,190.9 342.77,213.7 343.02,216.8 343.02,204.3 343.27,176.2 343.27,203.0 343.52,174.8 343.52,168.6 343.77,172.2 343.77,197.6 344.02,210.9 344.02,199.1 344.27,196.6 344.27,210.8 344.52,195.8 344.52,174.5 344.77,170.8 344.77,176.5 345.02,200.5 345.02,177.7 345.27,200.8 345.27,213.9 345.52,212.8 345.52,192.2 345.77,171.4 345.77,191.4 346.02,180.6 346.02,170.2 346.27,182.1 346.27,208.3 346.52,218.9 346.52,209.7 346.77,186.5 346.77,210.0 347.02,185.8 347.02,170.7 347.27,171.9 347.27,188.6 347.52,212.0 347.52,189.1 347.77,207.3 347.77,214.5 348.02,206.2 348.02,181.5 348.27,171.3 348.27,180.8 348.52,193.6 348.52,172.6 348.77,194.8 348.77,212.6 349.02,213.1 349.02,202.6 349.27,178.2 349.27,201.3 349.52,177.7 349.52,172.8 349.77,176.7 349.77,200.2 350.02,214.7 350.02,201.3 350.27,197.2 350.27,213.4 350.52,196.4 350.52,176.1 350.77,170.8 350.77,181.5 351.02,207.2 351.02,182.5 351.27,207.7 351.27,213.5 351.52,211.6 351.52,196.3 351.77,182.4 351.77,195.6 352.02,191.7 352.02,183.0 352.27,192.9 352.27,207.6 352.52,212.9 352.52,208.5 352.77,183.9 352.77,208.2 353.02,181.5 353.02,166.0 353.27,169.4 353.27,189.1 353.52,209.5 353.52,189.8 353.77,202.1 353.77,211.9 354.02,200.8 354.02,176.5 354.27,169.0 354.27,176.5 354.52,194.0 354.52,172.0 354.77,194.8 354.77,214.9 355.02,217.7 355.02,201.8 355.27,177.6 355.27,200.0 355.52,178.8 355.52,171.9 355.77,180.4 355.77,203.3 356.02,212.7 356.02,204.5 356.27,194.1 356.27,211.9 356.52,192.3 356.52,172.5 356.77,170.3 356.77,181.2 357.02,207.5 357.02,182.4 357.27,208.4 357.27,214.6 357.52,210.6 357.52,189.1 357.77,169.9 357.77,187.3 358.02,187.9 358.02,172.0 358.27,188.8 358.27,210.7 358.52,214.1 358.52,207.0 358.77,179.8 358.77,206.6 359.02,178.1 359.02,164.9 359.27,168.7 359.27,189.8 359.52,209.8 359.52,191.8 359.77,200.1 359.77,210.3 360.02,199.0 360.02,178.1 360.27,172.4 360.27,177.0 360.52,196.6 360.52,176.8 360.77,198.6 360.77,216.5 361.02,214.1 361.02,197.2 361.27,171.9 361.27,195.8 361.52,176.2 361.52,168.7 361.77,177.7 361.77,203.8 362.02,218.6 362.02,208.8 362.27,198.8 362.27,214.1 362.52,198.0 362.52,184.9 362.77,184.4 362.77,192.7 363.02,208.4 363.02,193.8 363.27,209.1 363.27,214.8 363.52,209.1 363.52,184.2 363.77,169.5 363.77,182.8 364.02,188.6 364.02,170.0 364.27,190.5 364.27,213.5 364.52,215.7 364.52,206.9 364.77,178.9 364.77,205.6 365.02,178.2 365.02,167.0 365.27,171.7 365.27,194.7 365.52,212.9 365.52,195.9 365.77,203.3 365.77,217.8 366.02,202.4 366.02,183.2 366.27,178.4 366.27,183.6 366.52,203.9 366.52,183.6 366.77,204.1 366.77,219.9 367.02,218.5 367.02,198.5 367.27,175.6 367.27,197.6 367.52,183.5 367.52,173.7 367.77,184.6 367.77,209.2 368.02,217.4 368.02,208.3 368.27,191.1 368.27,212.5 368.52,189.2 368.52,173.7 368.77,173.4 368.77,186.7 369.02,213.3 369.02,188.0 369.27,212.9 369.27,217.0 369.52,211.8 369.52,195.9 369.77,184.9 369.77,195.2 370.02,201.2 370.02,188.6 370.27,202.5 370.27,214.6 370.52,217.4 370.52,205.5 370.77,180.8 370.77,204.4 371.02,180.0 371.02,173.9 371.27,178.1 371.27,200.2 371.52,218.1 371.52,201.0 371.77,200.6 371.77,215.8 372.02,199.3 372.02,177.1 372.27,172.8 372.27,179.4 372.52,204.4 372.52,180.3 372.77,206.0 372.77,218.7 373.02,215.3 373.02,197.6 373.27,176.9 373.27,196.2 373.52,187.9 373.52,176.1 373.77,189.0 373.77,210.0 374.02,215.6 374.02,210.4 374.27,189.5 374.27,210.5 374.52,188.6 374.52,175.2 374.77,175.5 374.77,191.3 375.02,215.3 375.02,192.2 375.27,210.9 375.27,220.7 375.52,209.7 375.52,183.9 375.77,174.1 375.77,182.8 376.02,196.8 376.02,175.5 376.27,198.6 376.27,215.8 376.52,216.8 376.52,205.3 376.77,178.6 376.77,203.7 377.02,177.9 377.02,172.5 377.27,179.2 377.27,202.4 377.52,216.3 377.52,203.9 377.77,198.2 377.77,215.9 378.02,196.6 378.02,175.5 378.27,173.2 378.27,181.0 378.52,207.4 378.52,183.0 378.77,207.9 378.77,217.9 379.02,213.6 379.02,195.1 379.27,178.9 379.27,193.6 379.52,189.2 379.52,178.0 379.77,190.6 379.77,212.0 380.02,221.8 380.02,211.8 380.27,187.2 380.27,210.7 380.52,185.4 380.52,172.2 380.77,175.5 380.77,194.1 381.02,213.4 381.02,194.4 381.27,210.1 381.27,215.6 381.52,210.2 381.52,200.5 381.77,196.1 381.77,200.3 382.02,207.1 382.02,199.0 382.27,206.4 382.27,214.0 382.52,217.7 382.52,201.5 382.77,180.1 382.77,200.0 383.02,181.1 383.02,176.1 383.27,181.5 383.27,202.7 383.52,219.5 383.52,204.3 383.77,198.6 383.77,218.9 384.02,197.2 384.02,177.3 384.27,176.2 384.27,187.6 384.52,211.7 384.52,187.7 384.77,213.1 384.77,219.2 385.02,215.5 385.02,191.8 385.27,175.2 385.27,190.6 385.52,190.6 385.52,174.8 385.77,192.7 385.77,214.6 386.02,217.5 386.02,211.7 386.27,186.0 386.27,210.3 386.52,185.8 386.52,175.0 386.77,176.6 386.77,196.1 387.02,213.5 387.02,197.0 387.27,203.4 387.27,214.0 387.52,202.3 387.52,179.4 387.77,173.8 387.77,178.1 388.02,199.9 388.02,177.8 388.27,201.7 388.27,215.8 388.52,213.6 388.52,199.3 388.77,179.2 388.77,198.4 389.02,183.4 389.02,175.7 389.27,184.0 389.27,205.7 389.52,217.9 389.52,208.5 389.77,194.8 389.77,215.8 390.02,193.5 390.02,175.5 390.27,172.8 390.27,187.4 390.52,211.9 390.52,188.5 390.77,212.3 390.77,220.3 391.02,212.0 391.02,188.4 391.27,175.2 391.27,187.7 391.52,193.1 391.52,175.7 391.77,193.8 391.77,213.7 392.02,220.1 392.02,208.5 392.27,183.8 392.27,208.0 392.52,183.1 392.52,173.0 392.77,178.0 392.77,198.0 393.02,215.7 393.02,198.6 393.27,203.4 393.27,218.9 393.52,202.6 393.52,179.6 393.77,174.8 393.77,179.9 394.02,204.4 394.02,180.9 394.27,202.4 394.27,213.8 394.52,210.4 394.52,191.3 394.77,168.4 394.77,189.5 395.02,176.2 395.02,164.2 395.27,177.1 395.27,203.1 395.52,212.8 395.52,204.1 395.77,186.1 395.77,207.5 396.02,185.3 396.02,170.1 396.27,167.8 396.27,183.6 396.52,207.5 396.52,184.6 396.77,206.3 396.77,211.7 397.02,205.2 397.02,179.3 397.27,165.9 397.27,179.6 397.52,189.4 397.52,169.7 397.77,190.8 397.77,213.2 398.02,213.6 398.02,203.4 398.27,177.5 398.27,201.8 398.52,176.7 398.52,170.5 398.77,174.1 398.77,197.1 399.02,214.7 399.02,198.6 399.27,196.3 399.27,210.4 399.52,194.9 399.52,174.7 399.77,168.0 399.77,176.6 400.02,200.4 400.02,177.6 400.27,201.7 400.27,215.0 400.52,211.6 400.52,189.8 400.77,170.4 400.77,189.0 401.02,180.8 401.02,169.3 401.27,182.3 401.27,206.7 401.52,215.1 401.52,208.0 401.77,185.3 401.77,208.5 402.02,183.6 402.02,170.0 402.27,169.8 402.27,185.9 402.52,214.8 402.52,187.3 402.77,209.4 402.77,218.0 403.02,208.2 403.02,178.6 403.27,166.4 403.27,177.3 403.52,193.4 403.52,168.0 403.77,195.4 403.77,210.3 404.02,210.5 404.02,202.7 404.27,188.0 404.27,202.4 404.52,188.2 404.52,185.1 404.77,188.1 404.77,202.7 405.02,214.8 405.02,202.4 405.27,194.3 405.27,210.2 405.52,192.9 405.52,174.0 405.77,170.0 405.77,178.9 406.02,201.6 406.02,179.8 406.27,201.8 406.27,210.3 406.52,207.8 406.52,186.4 406.77,167.4 406.77,185.0 407.02,180.5 407.02,167.0 407.27,181.1 407.27,209.4 407.52,214.7 407.52,208.0 407.77,187.2 407.77,207.5 408.02,185.6 408.02,175.5 408.27,176.6 408.27,193.0 408.52,211.2 408.52,193.9 408.77,203.1 408.77,213.7 409.02,202.3 409.02,176.5 409.27,165.7 409.27,176.1 409.52,194.6 409.52,171.1 409.77,196.1 409.77,211.5 410.02,212.8 410.02,197.4 410.27,172.7 410.27,195.9 410.52,174.5 410.52,168.5 410.77,176.1 410.77,200.4 411.02,209.9 411.02,201.1 411.27,188.7 411.27,208.8 411.52,188.3 411.52,167.3 411.77,166.8 411.77,177.2 412.02,206.6 412.02,178.1 412.27,207.5 412.27,211.6 412.52,208.8 412.52,192.8 412.77,181.4 412.77,192.3 413.02,192.3 413.02,182.0 413.27,193.0 413.27,209.2 413.52,211.6 413.52,206.8 413.77,190.0 413.77,206.7 414.02,188.8 414.02,181.5 414.27,182.2 414.27,197.4 414.52,212.6 414.52,198.0 414.77,203.3 414.77,213.4 415.02,201.6 415.02,178.0 415.27,172.3 415.27,177.2 415.52,199.2 415.52,176.3 415.77,200.4 415.77,211.5 416.02,211.1 416.02,196.2 416.27,175.3 416.27,195.0 416.52,179.5 416.52,172.6 416.77,179.3 416.77,202.1 417.02,214.4 417.02,202.1 417.27,188.0 417.27,209.3 417.52,186.5 417.52,169.1 417.77,169.3 417.77,181.9 418.02,208.4 418.02,182.8 418.27,208.9 418.27,217.4 418.52,208.2 418.52,183.3 418.77,169.0 418.77,182.1 419.02,188.0 419.02,169.6 419.27,189.0 419.27,211.2 419.52,216.1 419.52,204.5 419.77,180.0 419.77,204.0 420.02,179.2 420.02,171.6 420.27,173.8 420.27,195.0 420.52,213.1 420.52,195.9 420.77,197.6 420.77,216.1 421.02,196.6 421.02,170.4 421.27,166.0 421.27,171.9 421.52,199.8 421.52,173.0 421.77,200.8 421.77,210.3 422.02,209.3 422.02,192.5 422.27,172.8 422.27,191.8 422.52,179.6 422.52,170.8 422.77,180.4 422.77,207.6 423.02,215.6 423.02,207.9 423.27,187.4 423.27,212.2 423.52,185.8 423.52,167.9 423.77,164.8 423.77,183.6 424.02,208.9 424.02,184.8 424.27,206.1 424.27,215.2 424.52,205.5 424.52,181.6 424.77,170.5 424.77,180.2 425.02,190.6 425.02,171.8 425.27,191.8 425.27,212.4 425.52,214.3 425.52,203.4 425.77,178.7 425.77,202.7 426.02,178.2 426.02,172.1 426.27,175.1 426.27,197.6 426.52,218.4 426.52,198.8 426.77,199.8 426.77,216.7 427.02,198.6 427.02,173.7 427.27,167.7 427.27,176.6 427.52,205.7 427.52,177.7 427.77,202.1 427.77,214.0 428.02,209.8 428.02,190.6 428.27,172.7 428.27,189.3 428.52,182.0 428.52,172.4 428.77,183.1 428.77,205.9 429.02,212.0 429.02,207.7 429.27,185.2 429.27,208.4 429.52,184.0 429.52,167.7 429.77,170.1 429.77,186.3 430.02,210.1 430.02,187.0 430.27,205.8 430.27,212.1 430.52,205.0 430.52,182.8 430.77,172.0 430.77,182.3 431.02,194.5 431.02,176.4 431.27,196.0 431.27,208.9 431.52,209.7 431.52,197.8 431.77,174.9 431.77,196.3 432.02,174.1 432.02,169.5 432.27,174.7 432.27,196.6 432.52,210.1 432.52,198.3 432.77,193.1 432.77,209.3 433.02,192.5 433.02,172.8 433.27,171.3 433.27,178.3 433.52,204.8 433.52,179.5 433.77,205.9 433.77,213.8 434.02,211.2 434.02,189.8 434.27,170.9 434.27,188.6 434.52,184.8 434.52,170.2 434.77,185.4 434.77,206.8 435.02,213.1 435.02,205.5 435.27,182.0 435.27,205.1 435.52,181.3 435.52,166.7 435.77,170.8 435.77,188.6 436.02,206.5 436.02,189.8 436.27,200.3 436.27,208.2 436.52,199.4 436.52,177.1 436.77,169.2 436.77,177.0 437.02,192.2 437.02,172.9 437.27,193.6 437.27,211.5 437.52,211.7 437.52,200.7 437.77,182.9 437.77,200.0 438.02,184.8 438.02,178.7 438.27,185.4 438.27,203.0 438.52,210.5 438.52,203.7 438.77,194.0 438.77,209.5 439.02,193.5 439.02,178.7 439.27,177.6 439.27,185.6 439.52,203.9 439.52,186.5 439.77,204.4 439.77,213.2 440.02,207.9 440.02,185.4 440.27,169.8 440.27,184.4 440.52,184.8 440.52,169.6 440.77,185.8 440.77,209.6 441.02,213.6 441.02,206.0 441.27,179.4 441.27,205.3 441.52,179.0 441.52,169.6 441.77,171.4 441.77,193.1 442.02,213.7 442.02,193.6 442.27,202.1 442.27,214.2 442.52,200.1 442.52,174.1 442.77,168.0 442.77,173.1 443.02,197.8 443.02,172.7 443.27,199.5 443.27,213.2 443.52,210.6 443.52,195.4 443.77,172.2 443.77,194.0 444.02,176.6 444.02,170.6 444.27,178.1 444.27,201.8 444.52,210.0 444.52,200.8 444.77,186.4 444.77,207.4 445.02,185.6 445.02,169.3 445.27,168.6 445.27,180.5 445.52,205.8 445.52,182.4 445.77,206.8 445.77,212.1 446.02,205.9 446.02,183.8 446.27,169.0 446.27,182.8 446.52,188.0 446.52,171.5 446.77,189.2 446.77,210.1 447.02,214.1 447.02,203.8 447.27,178.0 447.27,202.4 447.52,177.2 447.52,169.2 447.77,171.5 447.77,194.6 448.02,211.6 448.02,195.5 448.27,198.4 448.27,213.2 448.52,196.8 448.52,174.1 448.77,168.9 448.77,174.2 449.02,199.6 449.02,175.2 449.27,200.6 449.27,209.8 449.52,208.9 449.52,191.9 449.77,173.0 449.77,190.6 450.02,179.5 450.02,171.3 450.27,180.3 450.27,204.4 450.52,211.4 450.52,205.5 450.77,188.4 450.77,209.2 451.02,187.6 451.02,173.0 451.27,170.5 451.27,186.5 451.52,210.6 451.52,188.6 451.77,207.8 451.77,215.3 452.02,207.1 452.02,183.5 452.27,170.3 452.27,182.9 452.52,192.4 452.52,173.5 452.77,193.7 452.77,209.0 453.02,209.9 453.02,202.7 453.27,184.9 453.27,201.9 453.52,184.1 453.52,179.9 453.77,182.3 453.77,198.3 454.02,213.4 454.02,199.6 454.27,196.2 454.27,210.3 454.52,194.4 454.52,172.0 454.77,169.4 454.77,176.2 455.02,200.9 455.02,177.1 455.27,204.9 455.27,213.8 455.52,211.7 455.52,191.4 455.77,171.8 455.77,190.1 456.02,182.6 456.02,167.0 456.27,183.3 456.27,204.0 456.52,213.9 456.52,204.8 456.77,183.8 456.77,205.6 457.02,182.9 457.02,169.8 457.27,170.9 457.27,185.5 457.52,206.4 457.52,186.7 457.77,202.6 457.77,211.0 458.02,201.5 458.02,177.6 458.27,167.1 458.27,176.5 458.52,190.9 458.52,171.2 458.77,192.7 458.77,213.5 459.02,215.8 459.02,200.1 459.27,173.6 459.27,199.0 459.52,173.6 459.52,168.9 459.77,173.9 459.77,198.9 460.02,211.4 460.02,200.0 460.27,192.8 460.27,211.0 460.52,191.2 460.52,170.0 460.77,166.9 460.77,176.5 461.02,209.2 461.02,176.6 461.27,209.5 461.27,218.7 461.52,213.6 461.52,199.1 461.77,187.4 461.77,197.8 462.02,196.2 462.02,187.2 462.27,197.8 462.27,208.7 462.52,214.3 462.52,205.4 462.77,181.2 462.77,204.4 463.02,180.1 463.02,167.4 463.27,169.9 463.27,188.1 463.52,209.7 463.52,189.1 463.77,202.3 463.77,213.9 464.02,201.8 464.02,176.8 464.27,169.0 464.27,175.5 464.52,193.9 464.52,171.3 464.77,195.6 464.77,209.2 465.02,208.9 465.02,195.4 465.27,175.1 465.27,194.3 465.52,177.5 465.52,171.4 465.77,177.8 465.77,199.3 466.02,213.2 466.02,199.7 466.27,190.0 466.27,208.1 466.52,189.3 466.52,170.8 466.77,170.2 466.77,179.2 467.02,204.0 467.02,180.0 467.27,204.9 467.27,210.6 467.52,207.2 467.52,186.7 467.77,170.5 467.77,185.6 468.02,186.4 468.02,171.6 468.27,188.1 468.27,210.1 468.52,214.1 468.52,205.8 468.77,181.2 468.77,204.9 469.02,179.1 469.02,170.5 469.27,172.5 469.27,192.1 469.52,210.4 469.52,194.1 469.77,200.1 469.77,214.6 470.02,198.2 470.02,175.2 470.27,167.2 470.27,174.2 470.52,196.8 470.52,174.1 470.77,198.4 470.77,211.4 471.02,211.4 471.02,196.9 471.27,175.9 471.27,195.1 471.52,181.0 471.52,173.2 471.77,182.2 471.77,207.5 472.02,213.8 472.02,207.7 472.27,199.8 472.27,211.1 472.52,198.7 472.52,189.7 472.77,189.3 472.77,196.3 473.02,207.5 473.02,197.2 473.27,206.7 473.27,211.6 473.52,206.4 473.52,186.3 473.77,173.9 473.77,185.8 474.02,190.7 474.02,174.4 474.27,191.2 474.27,209.0 474.52,210.9 474.52,203.4 474.77,179.7 474.77,202.4 475.02,178.7 475.02,170.2 475.27,175.8 475.27,194.1 475.52,209.6 475.52,196.0 475.77,197.4 475.77,209.3 476.02,196.9 476.02,177.7 476.27,173.9 476.27,178.6 476.52,199.0 476.52,179.3 476.77,199.7 476.77,221.0 477.02,215.7 477.02,196.9 477.27,173.7 477.27,195.3 477.52,181.6 477.52,169.1 477.77,182.7 477.77,206.2 478.02,211.2 478.02,204.4 478.27,188.4 478.27,208.4 478.52,186.4 478.52,173.6 478.77,174.5 478.77,186.2 479.02,205.5 479.02,187.9 479.27,203.8 479.27,207.0 479.52,204.1 479.52,194.0 479.77,186.7 479.77,193.7 480.02,198.0 480.02,190.0 480.27,198.6 480.27,212.3 480.52,215.8 480.52,203.5 480.77,178.9 480.77,201.8 481.02,177.1 481.02,171.7 481.27,174.8 481.27,197.8 481.52,212.4 481.52,198.6 481.77,196.6 481.77,211.7 482.02,194.9 482.02,175.2 482.27,172.4 482.27,179.2 482.52,202.9 482.52,179.8 482.77,203.1 482.77,211.2 483.02,209.8 483.02,190.1 483.27,171.6 483.27,188.8 483.52,181.4 483.52,170.9 483.77,182.7 483.77,204.4 484.02,209.3 484.02,205.3 484.27,186.0 484.27,205.9 484.52,184.5 484.52,172.5 484.77,173.2 484.77,187.2 485.02,206.2 485.02,187.6 485.27,201.4 485.27,208.1 485.52,200.2 485.52,178.7 485.77,170.7 485.77,178.1 486.02,190.9 486.02,173.0 486.27,192.6 486.27,208.8 486.52,209.2 486.52,197.5 486.77,174.7 486.77,196.3 487.02,173.9 487.02,170.3 487.27,174.6 487.27,196.1 487.52,213.8 487.52,198.0 487.77,198.9 487.77,210.7 488.02,197.4 488.02,183.7 488.27,179.2 488.27,187.8 488.52,206.9 488.52,188.6 488.77,208.3 488.77,212.4 489.02,211.0 489.02,194.9 489.27,182.9 489.27,194.0 489.52,192.5 489.52,181.0 489.77,193.8 489.77,207.9 490.02,214.5 490.02,206.9 490.27,185.1 490.27,205.9 490.52,184.1 490.52,173.0 490.77,175.9 490.77,191.5 491.02,211.2 491.02,192.5 491.27,203.5 491.27,213.0 491.52,202.3 491.52,177.9 491.77,169.5 491.77,175.6 492.02,196.7 492.02,172.6 492.27,197.1 492.27,210.6 492.52,210.8 492.52,197.3 492.77,177.2 492.77,196.0 493.02,179.8 493.02,171.9 493.27,181.0 493.27,201.8 493.52,212.5 493.52,202.0 493.77,194.6 493.77,211.8 494.02,193.8 494.02,176.2 494.27,175.3 494.27,184.7 494.52,205.4 494.52,185.5 494.77,206.4 494.77,211.7 495.02,208.2 495.02,187.2 495.27,171.2 495.27,186.9 495.52,187.5 495.52,172.2 495.77,189.2 495.77,210.2 496.02,212.4 496.02,205.3 496.27,181.1 496.27,204.8 496.52,180.1 496.52,168.3 496.77,172.8 496.77,191.4 497.02,209.0 497.02,193.9 497.27,200.3 497.27,213.5 497.52,199.5 497.52,179.6 497.77,173.5 497.77,179.0 498.02,197.6 498.02,178.4 498.27,198.5 498.27,214.9 498.52,214.7 498.52,197.6 498.77,174.9 498.77,196.0 499.02,180.4 499.02,172.9 499.27,181.7 499.27,270.8 499.52,212.9 499.52,206.2 499.77,192.2 499.77,211.1 500.02,191.2 500.02,175.5 500.27,175.3 500.27,186.9 500.52,206.2 500.52,188.0 500.77,207.0 500.77,211.1 501.02,206.7 501.02,186.6 501.27,171.4 501.27,184.7 501.52,189.8 501.52,174.2 501.77,190.7 501.77,209.0 502.02,211.0 502.02,202.8 502.27,177.5 502.27,201.0 502.52,177.1 502.52,168.2 502.77,172.9 502.77,193.9 503.02,211.4 503.02,195.3 503.27,200.7 503.27,211.8 503.52,199.4 503.52,181.3 503.77,177.5 503.77,181.8 504.02,201.4 504.02,182.8 504.27,202.7 504.27,209.8 504.52,208.5 504.52,196.7 504.77,181.8 504.77,194.8 505.02,186.5 505.02,180.0 505.27,187.7 505.27,205.8 505.52,212.1 505.52,206.8 505.77,188.3 505.77,209.2 506.02,186.5 506.02,169.1 506.27,172.3 506.27,186.6 506.52,203.5 506.52,188.2 506.77,201.6 506.77,206.6 507.02,200.9 507.02,180.6 507.27,170.2 507.27,180.0 507.52,188.4 507.52,172.9 507.77,190.1 507.77,207.9 508.02,209.0 508.02,200.4 508.27,179.1 508.27,199.4 508.52,177.7 508.52,173.2 508.77,176.0 508.77,196.0 509.02,215.3 509.02,197.6 509.27,197.9 509.27,212.3 509.52,197.5 509.52,176.9 509.77,174.8 509.77,181.0 510.02,204.1 510.02,182.0 510.27,207.3 510.27,215.7 510.52,213.6 510.52,194.6 510.77,175.7 510.77,193.3 511.02,185.6 511.02,174.7 511.27,187.4 511.27,206.1 511.52,208.6 511.52,204.9 511.77,183.2 511.77,205.2 512.02,217.7 512.02,167.1 512.27,169.3 512.27,185.4 512.52,207.0 512.52,187.2 512.77,201.3 512.77,208.6 513.02,200.0 513.02,176.3 513.27,168.1 513.27,175.6 513.52,191.0 513.52,170.0 513.77,191.4 513.77,199.2"/>
<polyline stroke="#ff7f08" points="513.87,209.1 513.87,199.8 514.12,184.5 514.12,207.0 514.37,183.2 514.37,165.4 514.62,164.4 514.62,178.1 514.87,206.3 514.87,179.3 515.12,206.3 515.12,210.3 515.37,205.9 515.37,181.8 515.62,156.9 515.62,181.3 515.87,186.2 515.87,168.8 516.12,187.2 516.12,209.0 516.37,211.6 516.37,202.9 516.62,174.8 516.62,201.3 516.87,173.5 516.87,164.1 517.12,167.1 517.12,191.8 517.37,212.1 517.37,160.2 517.62,196.5 517.62,212.1 517.87,195.7 517.87,169.9 518.12,165.6 518.12,171.2 518.37,198.6 518.37,172.5 518.62,196.9 518.62,204.7 518.87,203.8 518.87,187.6 519.12,168.4 519.12,186.3 519.37,175.3 519.37,167.1 519.62,175.9 519.62,198.1 519.87,206.7 519.87,199.5 520.12,180.9 520.12,203.8 520.37,179.2 520.37,163.4 520.62,163.3 520.62,178.9 520.87,206.8 520.87,179.9 521.12,203.9 521.12,210.5 521.37,203.5 521.37,179.1 521.62,168.3 521.62,178.2 521.87,189.1 521.87,168.8 522.12,190.3 522.12,204.9 522.37,205.7 522.37,197.0 522.62,173.4 522.62,195.2 522.87,172.5 522.87,167.2 523.12,170.2 523.12,191.2 523.37,196.5 523.37,192.7"/>
</g>
<g stroke="#111" stroke-width="0.8">
<line x1="65.40" y1="276.0" x2="65.40" y2="278.7"/>
<line x1="127.67" y1="276.0" x2="127.67" y2="278.7"/>
<line x1="189.94" y1="276.0" x2="189.94" y2="278.7"/>
<line x1="252.21" y1="276.0" x2="252.21" y2="278.7"/>
<line x1="314.48" y1="276.0" x2="314.48" y2="278.7"/>
<line x1="376.75" y1="276.0" x2="376.75" y2="278.7"/>
<line x1="439.02" y1="276.0" x2="439.02" y2="278.7"/>
<line x1="501.29" y1="276.0" x2="501.29" y2="278.7"/>
<line x1="39.8" y1="259.20" x2="42.5" y2="259.20"/>
<line x1="39.8" y1="241.90" x2="42.5" y2="241.90"/>
<line x1="39.8" y1="224.60" x2="42.5" y2="224.60"/>
<line x1="39.8" y1="207.30" x2="42.5" y2="207.30"/>
<line x1="39.8" y1="190.00" x2="42.5" y2="190.00"/>
<line x1="39.8" y1="172.70" x2="42.5" y2="172.70"/>
<line x1="39.8" y1="155.40" x2="42.5" y2="155.40"/>
</g>
<g font-family="DejaVu Sans, Liberation Sans, sans-serif" font-size="8.25" fill="#000" text-rendering="geometricPrecision">
<text x="65.40" y="287.9" text-anchor="middle">0</text>
<text x="127.67" y="287.9" text-anchor="middle">5000</text>
<text x="189.94" y="287.9" text-anchor="middle">10,000</text>
<text x="252.21" y="287.9" text-anchor="middle">15,000</text>
<text x="314.48" y="287.9" text-anchor="middle">20,000</text>
<text x="376.75" y="287.9" text-anchor="middle">25,000</text>
<text x="439.02" y="287.9" text-anchor="middle">30,000</text>
<text x="501.29" y="287.9" text-anchor="middle">35,000</text>
<text x="37.7" y="262.80" text-anchor="end">250</text>
<text x="37.7" y="245.50" text-anchor="end">500</text>
<text x="37.7" y="228.20" text-anchor="end">750</text>
<text x="37.7" y="210.90" text-anchor="end">1000</text>
<text x="37.7" y="193.60" text-anchor="end">1250</text>
<text x="37.7" y="176.30" text-anchor="end">1500</text>
<text x="37.7" y="159.00" text-anchor="end">1750</text>
</g>
<rect x="42.5" y="152.1" width="503.29999999999995" height="123.9" fill="none" stroke="#111" stroke-width="0.8"/>
<text font-family="Liberation Sans, Arial, sans-serif" font-size="10.4" stroke="#000" stroke-width="0.15" x="294.15" y="300.4" text-anchor="middle">Num/Days</text>
<text font-family="Liberation Sans, Arial, sans-serif" font-size="10.4" stroke="#000" stroke-width="0.15" transform="translate(12.1,214.9) rotate(-90)" text-anchor="middle">Demand/Kw</text>
<rect x="48.2" y="157.6" width="124.8" height="32.2" rx="1.6" fill="#fff" fill-opacity="0.8" stroke="#ccc" stroke-opacity="0.8" stroke-width="0.8"/>
<line x1="51.8" y1="165.4" x2="73.6" y2="165.4" stroke="#0c77bf" stroke-width="1.6"/>
<text font-family="Liberation Sans, Arial, sans-serif" font-size="10.4" stroke="#000" stroke-width="0.15" x="82.4" y="169.0">load_train_dataset</text>
<line x1="51.8" y1="180.3" x2="73.6" y2="180.3" stroke="#ff7f08" stroke-width="1.6"/>
<text font-family="Liberation Sans, Arial, sans-serif" font-size="10.4" stroke="#000" stroke-width="0.15" x="82.4" y="183.9">load_test_dataset</text>
</svg>
</body></html>
